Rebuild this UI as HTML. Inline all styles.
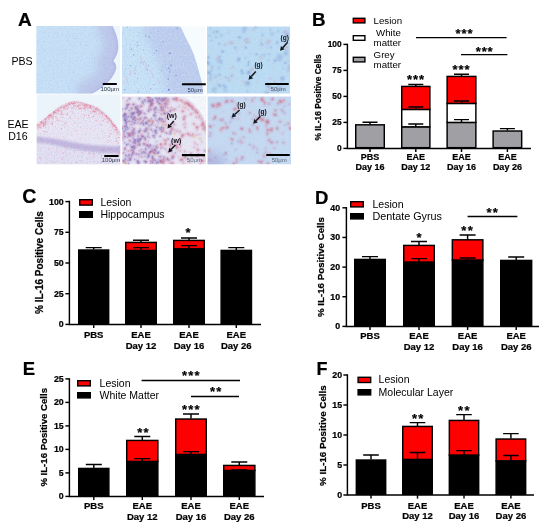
<!DOCTYPE html>
<html><head><meta charset="utf-8"><title>Figure</title>
<style>html,body{margin:0;padding:0;background:#fff}svg{display:block;font-family:"Liberation Sans", Arial, sans-serif}</style>
</head><body>
<svg width="550" height="529" viewBox="0 0 550 529">
<rect width="550" height="529" fill="#fff"/>
<defs><filter id="nz" x="0" y="0" width="100%" height="100%" color-interpolation-filters="sRGB"><feTurbulence type="fractalNoise" baseFrequency="0.75" numOctaves="2" seed="3"/><feColorMatrix values="0 0 0 0 0.50  0 0 0 0 0.62  0 0 0 0 0.86  0 0 0 -7 3.05"/><feGaussianBlur stdDeviation="0.4"/></filter><filter id="nzp" x="0" y="0" width="100%" height="100%" color-interpolation-filters="sRGB"><feTurbulence type="fractalNoise" baseFrequency="0.7" numOctaves="2" seed="11"/><feColorMatrix values="0 0 0 0 0.88  0 0 0 0 0.52  0 0 0 0 0.66  0 0 0 -7 3.0"/><feGaussianBlur stdDeviation="0.4"/></filter><filter id="nzw" x="0" y="0" width="100%" height="100%" color-interpolation-filters="sRGB"><feTurbulence type="fractalNoise" baseFrequency="0.6" numOctaves="2" seed="5"/><feColorMatrix values="0 0 0 0 1  0 0 0 0 1  0 0 0 0 1  0 0 0 7 -4.0"/><feGaussianBlur stdDeviation="0.4"/></filter><filter id="bl"><feGaussianBlur stdDeviation="0.5"/></filter><filter id="bl2" filterUnits="userSpaceOnUse" x="0" y="0" width="320" height="200"><feGaussianBlur stdDeviation="1.6"/></filter><filter id="bl3"><feGaussianBlur stdDeviation="0.28"/></filter><filter id="bl4"><feGaussianBlur stdDeviation="0.85"/></filter><filter id="bl5" filterUnits="userSpaceOnUse" x="0" y="0" width="320" height="200"><feGaussianBlur stdDeviation="4.5"/></filter><clipPath id="c1"><rect x="36.4" y="26" width="83.6" height="67.6"/></clipPath><clipPath id="c2"><rect x="122" y="26.4" width="84" height="67.4"/></clipPath><clipPath id="c3"><rect x="207" y="26.4" width="83" height="67.2"/></clipPath><clipPath id="c4"><rect x="36.6" y="94.6" width="83.8" height="69.6"/></clipPath><clipPath id="c5"><rect x="122" y="96.4" width="84" height="67.8"/></clipPath><clipPath id="c6"><rect x="207.6" y="96.4" width="83.4" height="67.8"/></clipPath></defs>
<g clip-path="url(#c1)">
<rect x="36" y="26" width="85" height="68" fill="#ecf6fc"/>
<clipPath id="t1"><path d="M30 20H112.6V26C116 33 118.6 40 118.2 48C117.8 54 115 58 113.4 61C116.6 64 116.8 68 115.4 71C112 80 103 88 92 93.6V100H30Z"/></clipPath>
<g filter="url(#bl)"><path d="M30 20H112.6V26C116 33 118.6 40 118.2 48C117.8 54 115 58 113.4 61C116.6 64 116.8 68 115.4 71C112 80 103 88 92 93.6V100H30Z" fill="#c7e0f6"/></g>
<g clip-path="url(#t1)"><path d="M112.6 20V26C116 33 118.6 40 118.2 48C117.8 54 115 58 113.4 61C116.6 64 116.8 68 115.4 71C112 80 103 88 92 93.6V100" fill="none" stroke="#b4b0de" stroke-width="30" filter="url(#bl5)" opacity="0.5"/><path d="M112.6 20V26C116 33 118.6 40 118.2 48C117.8 54 115 58 113.4 61C116.6 64 116.8 68 115.4 71C112 80 103 88 92 93.6V100" fill="none" stroke="#aaa4d6" stroke-width="3" filter="url(#bl2)" opacity="0.45"/><rect x="36" y="26" width="85" height="68" filter="url(#nz)" opacity="0.17"/></g>
</g>
<rect x="102.8" y="82.9" width="14.10" height="2.10" rx="0.6" fill="#000" filter="url(#bl3)"/><text x="109.7" y="90.6" font-size="6.0" text-anchor="middle" fill="#2c3444" filter="url(#bl3)">100µm</text>
<g clip-path="url(#c2)">
<rect x="122" y="26" width="85" height="68" fill="#f6fbfe"/>
<clipPath id="t2"><path d="M116 20H180V26C184 34 186.6 39 188.5 43C191 48 193 52 194.6 57C196.4 62 197.8 67 199 72C200.4 77 201.6 81 202.4 85C202.8 88 203 91 203 94V100H116Z"/></clipPath>
<g filter="url(#bl)"><path d="M116 20H180V26C184 34 186.6 39 188.5 43C191 48 193 52 194.6 57C196.4 62 197.8 67 199 72C200.4 77 201.6 81 202.4 85C202.8 88 203 91 203 94V100H116Z" fill="#c6e1f6"/></g>
<g clip-path="url(#t2)"><path d="M172 18V26C176 34 178.6 39 180.5 43C183 48 185 52 186.6 57C188.4 62 189.8 67 191 72C192.4 77 193.6 81 194.4 85C194.8 88 195 91 195 100" fill="none" stroke="#b6bee8" stroke-width="56" filter="url(#bl5)" opacity="0.55"/>
<g filter="url(#bl)"><circle cx="149.2" cy="37.0" r="0.76" fill="#6f86d0" opacity="0.83"/><circle cx="130.6" cy="65.5" r="0.86" fill="#6f86d0" opacity="0.51"/><circle cx="158.1" cy="31.6" r="0.54" fill="#7f92d6" opacity="0.52"/><circle cx="168.8" cy="89.5" r="0.75" fill="#6a7ccc" opacity="0.88"/><circle cx="169.7" cy="53.2" r="0.89" fill="#6f86d0" opacity="0.72"/><circle cx="133.8" cy="54.7" r="0.72" fill="#6a7ccc" opacity="0.62"/><circle cx="170.1" cy="69.2" r="0.65" fill="#6a7ccc" opacity="0.78"/><circle cx="168.7" cy="67.9" r="0.70" fill="#6a7ccc" opacity="0.67"/><circle cx="148.4" cy="65.6" r="0.68" fill="#7f92d6" opacity="0.60"/><circle cx="137.6" cy="78.5" r="0.53" fill="#7f92d6" opacity="0.71"/><circle cx="146.3" cy="91.7" r="0.55" fill="#7f92d6" opacity="0.57"/><circle cx="150.7" cy="88.6" r="0.67" fill="#6a7ccc" opacity="0.53"/><circle cx="168.2" cy="79.1" r="0.83" fill="#7f92d6" opacity="0.78"/><circle cx="171.1" cy="65.3" r="0.68" fill="#6f86d0" opacity="0.88"/><circle cx="161.4" cy="70.8" r="0.52" fill="#6a7ccc" opacity="0.62"/><circle cx="169.8" cy="72.0" r="0.68" fill="#6a7ccc" opacity="0.65"/><circle cx="177.2" cy="28.5" r="0.68" fill="#6f86d0" opacity="0.74"/><circle cx="163.0" cy="41.4" r="0.61" fill="#6a7ccc" opacity="0.60"/><circle cx="154.7" cy="84.5" r="0.53" fill="#7f92d6" opacity="0.66"/><circle cx="145.5" cy="36.0" r="0.67" fill="#6a7ccc" opacity="0.61"/><circle cx="156.6" cy="50.7" r="0.85" fill="#6f86d0" opacity="0.56"/><circle cx="137.3" cy="42.3" r="0.59" fill="#7f92d6" opacity="0.83"/><circle cx="137.8" cy="45.6" r="0.56" fill="#6a7ccc" opacity="0.65"/><circle cx="168.9" cy="89.9" r="0.78" fill="#6a7ccc" opacity="0.88"/><circle cx="176.1" cy="75.8" r="0.68" fill="#6a7ccc" opacity="0.82"/><circle cx="154.8" cy="53.3" r="0.54" fill="#6a7ccc" opacity="0.66"/><circle cx="138.4" cy="92.0" r="0.68" fill="#6f86d0" opacity="0.64"/><circle cx="127.3" cy="27.0" r="0.56" fill="#6f86d0" opacity="0.88"/><circle cx="172.7" cy="31.6" r="0.58" fill="#7f92d6" opacity="0.56"/><circle cx="143.4" cy="49.9" r="0.65" fill="#6f86d0" opacity="0.55"/><circle cx="162.5" cy="91.5" r="0.69" fill="#7f92d6" opacity="0.53"/><circle cx="131.3" cy="49.6" r="0.61" fill="#6a7ccc" opacity="0.56"/><circle cx="124.9" cy="89.8" r="0.71" fill="#6f86d0" opacity="0.78"/><circle cx="147.1" cy="69.4" r="0.54" fill="#7f92d6" opacity="0.71"/><circle cx="141.0" cy="62.7" r="0.70" fill="#6a7ccc" opacity="0.59"/><circle cx="188.7" cy="92.0" r="0.84" fill="#6f86d0" opacity="0.83"/>
<path d="M140 56c1.4 3.4 3 5 3.6 9M144 60c2 3 2.6 8 4 11M136 66c-1 3-1.6 6-.6 9M150 70c2 3 3 6 3.4 9M126 76c1 2 1.6 5 .6 8M131 70c-.6 2-1 4-.4 6M157 78c1 2 2.4 4 2.6 6M129 47c2 1 3 2 4 3" stroke="#dba2b6" stroke-width="0.9" fill="none" opacity="0.45"/>
</g>
<rect x="122" y="26" width="85" height="68" filter="url(#nz)" opacity="0.18"/><rect x="122" y="26" width="85" height="68" filter="url(#nzw)" opacity="0.2"/></g>
</g>
<rect x="181.9" y="83.2" width="23.90" height="2.10" rx="0.6" fill="#000" filter="url(#bl3)"/><text x="195.1" y="91.6" font-size="6.0" text-anchor="middle" fill="#3a4458" filter="url(#bl3)">50µm</text>
<g clip-path="url(#c3)">
<rect x="207" y="26" width="84" height="68" fill="#bcdcf3"/>
<g filter="url(#bl4)"><ellipse cx="268.4" cy="42.0" rx="2.79" ry="1.53" transform="rotate(142 268.4 42.0)" fill="#c0b0c8" opacity="0.86"/><ellipse cx="246.2" cy="39.8" rx="2.89" ry="1.62" transform="rotate(178 246.2 39.8)" fill="#c0b0c8" opacity="0.76"/><ellipse cx="286.3" cy="51.1" rx="1.80" ry="1.43" transform="rotate(87 286.3 51.1)" fill="#a6b4dc" opacity="0.76"/><ellipse cx="288.8" cy="67.3" rx="1.36" ry="1.28" transform="rotate(119 288.8 67.3)" fill="#c0b0c8" opacity="0.88"/><ellipse cx="282.5" cy="78.6" rx="2.59" ry="1.93" transform="rotate(114 282.5 78.6)" fill="#98b4e0" opacity="0.91"/><ellipse cx="214.2" cy="89.4" rx="3.09" ry="1.73" transform="rotate(130 214.2 89.4)" fill="#98b4e0" opacity="0.74"/><ellipse cx="221.1" cy="35.4" rx="1.57" ry="1.42" transform="rotate(149 221.1 35.4)" fill="#98b4e0" opacity="0.88"/><ellipse cx="288.4" cy="70.4" rx="2.36" ry="1.42" transform="rotate(131 288.4 70.4)" fill="#a6b4dc" opacity="0.61"/><ellipse cx="215.5" cy="76.5" rx="1.61" ry="1.38" transform="rotate(45 215.5 76.5)" fill="#a6b4dc" opacity="0.89"/><ellipse cx="231.3" cy="42.9" rx="2.76" ry="1.63" transform="rotate(11 231.3 42.9)" fill="#c0b0c8" opacity="0.79"/><ellipse cx="268.4" cy="86.2" rx="2.92" ry="1.69" transform="rotate(24 268.4 86.2)" fill="#98b4e0" opacity="0.89"/><ellipse cx="219.6" cy="60.7" rx="3.14" ry="1.92" transform="rotate(27 219.6 60.7)" fill="#a6b4dc" opacity="0.81"/><ellipse cx="218.7" cy="67.9" rx="1.80" ry="1.28" transform="rotate(100 218.7 67.9)" fill="#9cb8e2" opacity="0.71"/><ellipse cx="272.1" cy="34.0" rx="1.96" ry="1.90" transform="rotate(18 272.1 34.0)" fill="#a6b4dc" opacity="0.67"/><ellipse cx="244.5" cy="28.8" rx="2.98" ry="2.00" transform="rotate(91 244.5 28.8)" fill="#9cb8e2" opacity="0.76"/><ellipse cx="249.5" cy="72.7" rx="2.02" ry="1.70" transform="rotate(94 249.5 72.7)" fill="#98b4e0" opacity="0.78"/><ellipse cx="279.7" cy="88.2" rx="2.47" ry="2.24" transform="rotate(22 279.7 88.2)" fill="#a6b4dc" opacity="0.89"/><ellipse cx="243.7" cy="31.8" rx="1.80" ry="1.46" transform="rotate(22 243.7 31.8)" fill="#9cb8e2" opacity="0.67"/><ellipse cx="271.5" cy="89.0" rx="2.89" ry="1.67" transform="rotate(174 271.5 89.0)" fill="#c0b0c8" opacity="0.65"/><ellipse cx="225.2" cy="89.9" rx="2.32" ry="1.50" transform="rotate(40 225.2 89.9)" fill="#98b4e0" opacity="0.66"/><ellipse cx="265.6" cy="92.6" rx="2.02" ry="1.62" transform="rotate(130 265.6 92.6)" fill="#98b4e0" opacity="0.67"/><ellipse cx="208.6" cy="63.6" rx="2.25" ry="1.59" transform="rotate(53 208.6 63.6)" fill="#9cb8e2" opacity="0.73"/><ellipse cx="286.7" cy="34.4" rx="2.43" ry="2.25" transform="rotate(48 286.7 34.4)" fill="#a6b4dc" opacity="0.94"/><ellipse cx="210.3" cy="78.4" rx="2.28" ry="1.34" transform="rotate(122 210.3 78.4)" fill="#a6b4dc" opacity="0.89"/><ellipse cx="285.5" cy="53.8" rx="1.97" ry="1.85" transform="rotate(10 285.5 53.8)" fill="#98b4e0" opacity="0.85"/><ellipse cx="264.1" cy="55.1" rx="1.93" ry="1.17" transform="rotate(15 264.1 55.1)" fill="#9cb8e2" opacity="0.82"/><ellipse cx="279.6" cy="57.6" rx="3" ry="3.6" fill="#a3c0e4" opacity="0.9"/><ellipse cx="247.6" cy="83.6" rx="2.6" ry="2.2" fill="#a0b6e0" opacity="0.9"/></g>
<g filter="url(#bl4)"><ellipse cx="278.1" cy="31.4" rx="1.28" ry="0.87" transform="rotate(75 278.1 31.4)" fill="#7a94d6" opacity="0.50"/><ellipse cx="283.0" cy="68.0" rx="0.64" ry="0.61" transform="rotate(29 283.0 68.0)" fill="#6484cc" opacity="0.60"/><ellipse cx="211.2" cy="40.3" rx="0.79" ry="0.72" transform="rotate(80 211.2 40.3)" fill="#7a94d6" opacity="0.71"/><ellipse cx="262.8" cy="44.9" rx="0.97" ry="0.96" transform="rotate(91 262.8 44.9)" fill="#7a94d6" opacity="0.51"/><ellipse cx="288.2" cy="60.9" rx="0.89" ry="0.64" transform="rotate(78 288.2 60.9)" fill="#7a94d6" opacity="0.54"/><ellipse cx="248.1" cy="82.1" rx="0.83" ry="0.75" transform="rotate(41 248.1 82.1)" fill="#6484cc" opacity="0.62"/><ellipse cx="223.5" cy="85.2" rx="1.02" ry="0.88" transform="rotate(10 223.5 85.2)" fill="#6f8cd2" opacity="0.66"/><ellipse cx="217.8" cy="31.7" rx="0.95" ry="0.93" transform="rotate(120 217.8 31.7)" fill="#7a94d6" opacity="0.67"/><ellipse cx="238.6" cy="60.4" rx="1.13" ry="0.99" transform="rotate(83 238.6 60.4)" fill="#6484cc" opacity="0.60"/><ellipse cx="220.1" cy="56.4" rx="0.84" ry="0.67" transform="rotate(44 220.1 56.4)" fill="#7a94d6" opacity="0.89"/><ellipse cx="287.2" cy="47.4" rx="0.78" ry="0.75" transform="rotate(50 287.2 47.4)" fill="#6f8cd2" opacity="0.63"/><ellipse cx="261.4" cy="43.4" rx="0.97" ry="0.94" transform="rotate(72 261.4 43.4)" fill="#6f8cd2" opacity="0.61"/><ellipse cx="210.5" cy="28.5" rx="0.95" ry="0.65" transform="rotate(154 210.5 28.5)" fill="#6f8cd2" opacity="0.53"/><ellipse cx="219.9" cy="85.9" rx="1.05" ry="0.91" transform="rotate(177 219.9 85.9)" fill="#6484cc" opacity="0.66"/><ellipse cx="219.4" cy="74.8" rx="1.08" ry="0.81" transform="rotate(92 219.4 74.8)" fill="#6f8cd2" opacity="0.83"/><ellipse cx="242.6" cy="73.3" rx="0.97" ry="0.76" transform="rotate(146 242.6 73.3)" fill="#6484cc" opacity="0.80"/><ellipse cx="208.3" cy="72.3" rx="1.16" ry="0.87" transform="rotate(41 208.3 72.3)" fill="#6484cc" opacity="0.77"/><ellipse cx="209.6" cy="35.8" rx="0.87" ry="0.72" transform="rotate(9 209.6 35.8)" fill="#6f8cd2" opacity="0.65"/><ellipse cx="208.6" cy="62.1" rx="0.88" ry="0.64" transform="rotate(135 208.6 62.1)" fill="#7a94d6" opacity="0.50"/><ellipse cx="248.7" cy="62.3" rx="1.02" ry="0.84" transform="rotate(146 248.7 62.3)" fill="#6f8cd2" opacity="0.80"/><ellipse cx="277.2" cy="42.5" rx="1.22" ry="0.83" transform="rotate(89 277.2 42.5)" fill="#6f8cd2" opacity="0.80"/><ellipse cx="238.8" cy="58.6" rx="1.08" ry="0.83" transform="rotate(14 238.8 58.6)" fill="#6f8cd2" opacity="0.75"/><ellipse cx="219.2" cy="43.8" rx="0.97" ry="0.92" transform="rotate(87 219.2 43.8)" fill="#7a94d6" opacity="0.75"/><ellipse cx="247.3" cy="91.2" rx="0.70" ry="0.62" transform="rotate(93 247.3 91.2)" fill="#6f8cd2" opacity="0.77"/><ellipse cx="245.6" cy="57.8" rx="0.85" ry="0.57" transform="rotate(169 245.6 57.8)" fill="#6484cc" opacity="0.58"/><ellipse cx="208.5" cy="57.3" rx="1.08" ry="0.92" transform="rotate(165 208.5 57.3)" fill="#7a94d6" opacity="0.90"/><ellipse cx="284.2" cy="31.9" rx="0.82" ry="0.56" transform="rotate(24 284.2 31.9)" fill="#6484cc" opacity="0.71"/><ellipse cx="275.1" cy="60.6" rx="1.15" ry="0.93" transform="rotate(158 275.1 60.6)" fill="#6484cc" opacity="0.65"/><ellipse cx="239.7" cy="37.5" rx="1.12" ry="0.98" transform="rotate(25 239.7 37.5)" fill="#6484cc" opacity="0.68"/><ellipse cx="235.5" cy="47.9" rx="1.08" ry="0.93" transform="rotate(72 235.5 47.9)" fill="#6f8cd2" opacity="0.63"/><ellipse cx="285.0" cy="39.9" rx="0.67" ry="0.57" transform="rotate(71 285.0 39.9)" fill="#6484cc" opacity="0.62"/><ellipse cx="289.9" cy="65.9" rx="0.96" ry="0.68" transform="rotate(51 289.9 65.9)" fill="#7a94d6" opacity="0.80"/><ellipse cx="211.3" cy="70.7" rx="0.96" ry="0.85" transform="rotate(92 211.3 70.7)" fill="#6f8cd2" opacity="0.60"/><ellipse cx="222.8" cy="51.6" rx="1.23" ry="0.94" transform="rotate(164 222.8 51.6)" fill="#6f8cd2" opacity="0.82"/><ellipse cx="285.1" cy="63.2" rx="1.04" ry="0.87" transform="rotate(111 285.1 63.2)" fill="#6f8cd2" opacity="0.87"/><ellipse cx="218.5" cy="84.4" rx="0.93" ry="0.77" transform="rotate(62 218.5 84.4)" fill="#6484cc" opacity="0.55"/><ellipse cx="231.7" cy="75.8" rx="1.11" ry="1.00" transform="rotate(87 231.7 75.8)" fill="#7a94d6" opacity="0.66"/><ellipse cx="262.5" cy="34.9" rx="1.13" ry="0.79" transform="rotate(89 262.5 34.9)" fill="#6f8cd2" opacity="0.58"/><ellipse cx="225.3" cy="86.8" rx="1.22" ry="0.97" transform="rotate(44 225.3 86.8)" fill="#7a94d6" opacity="0.67"/><ellipse cx="221.5" cy="63.7" rx="0.87" ry="0.69" transform="rotate(160 221.5 63.7)" fill="#7a94d6" opacity="0.60"/><ellipse cx="269.2" cy="54.2" rx="0.85" ry="0.76" transform="rotate(135 269.2 54.2)" fill="#6484cc" opacity="0.58"/><ellipse cx="248.3" cy="64.9" rx="0.91" ry="0.70" transform="rotate(155 248.3 64.9)" fill="#6484cc" opacity="0.70"/><ellipse cx="224.9" cy="44.9" rx="0.80" ry="0.67" transform="rotate(56 224.9 44.9)" fill="#7a94d6" opacity="0.76"/><ellipse cx="274.6" cy="90.9" rx="0.83" ry="0.58" transform="rotate(85 274.6 90.9)" fill="#7a94d6" opacity="0.78"/><ellipse cx="255.7" cy="27.0" rx="1.00" ry="0.68" transform="rotate(45 255.7 27.0)" fill="#6484cc" opacity="0.84"/><ellipse cx="216.1" cy="37.2" rx="1.04" ry="0.75" transform="rotate(126 216.1 37.2)" fill="#6484cc" opacity="0.54"/><ellipse cx="277.3" cy="86.1" rx="0.66" ry="0.63" transform="rotate(102 277.3 86.1)" fill="#6f8cd2" opacity="0.50"/><ellipse cx="210.1" cy="74.2" rx="1.23" ry="0.95" transform="rotate(126 210.1 74.2)" fill="#6484cc" opacity="0.60"/><ellipse cx="216.3" cy="31.6" rx="0.90" ry="0.81" transform="rotate(142 216.3 31.6)" fill="#6484cc" opacity="0.58"/><ellipse cx="207.1" cy="62.5" rx="1.25" ry="0.96" transform="rotate(159 207.1 62.5)" fill="#7a94d6" opacity="0.88"/><ellipse cx="246.5" cy="42.5" rx="0.78" ry="0.68" transform="rotate(4 246.5 42.5)" fill="#7a94d6" opacity="0.78"/><ellipse cx="248.4" cy="71.5" rx="0.89" ry="0.74" transform="rotate(67 248.4 71.5)" fill="#7a94d6" opacity="0.59"/><ellipse cx="247.9" cy="72.9" rx="0.98" ry="0.90" transform="rotate(143 247.9 72.9)" fill="#7a94d6" opacity="0.77"/><ellipse cx="268.3" cy="60.3" rx="0.86" ry="0.62" transform="rotate(42 268.3 60.3)" fill="#6f8cd2" opacity="0.62"/><ellipse cx="225.4" cy="77.2" rx="0.77" ry="0.71" transform="rotate(40 225.4 77.2)" fill="#6484cc" opacity="0.70"/><ellipse cx="241.6" cy="70.9" rx="1.04" ry="1.02" transform="rotate(4 241.6 70.9)" fill="#6f8cd2" opacity="0.87"/><ellipse cx="256.5" cy="54.4" rx="1.17" ry="0.82" transform="rotate(159 256.5 54.4)" fill="#6f8cd2" opacity="0.66"/><ellipse cx="267.8" cy="92.8" rx="1.22" ry="0.93" transform="rotate(94 267.8 92.8)" fill="#7a94d6" opacity="0.58"/><ellipse cx="245.8" cy="47.6" rx="1.05" ry="0.87" transform="rotate(20 245.8 47.6)" fill="#7a94d6" opacity="0.89"/><ellipse cx="213.5" cy="32.3" rx="0.97" ry="0.71" transform="rotate(68 213.5 32.3)" fill="#6f8cd2" opacity="0.72"/><ellipse cx="270.8" cy="47.4" rx="1.10" ry="0.90" transform="rotate(67 270.8 47.4)" fill="#6f8cd2" opacity="0.52"/><ellipse cx="283.3" cy="39.7" rx="0.86" ry="0.72" transform="rotate(146 283.3 39.7)" fill="#7a94d6" opacity="0.51"/><ellipse cx="270.6" cy="29.7" rx="0.63" ry="0.61" transform="rotate(35 270.6 29.7)" fill="#6f8cd2" opacity="0.82"/><ellipse cx="212.2" cy="67.0" rx="0.90" ry="0.70" transform="rotate(47 212.2 67.0)" fill="#7a94d6" opacity="0.88"/><ellipse cx="266.5" cy="47.9" rx="1.09" ry="0.61" transform="rotate(145 266.5 47.9)" fill="#d4a2b2" opacity="0.70"/><ellipse cx="285.6" cy="31.3" rx="1.79" ry="0.76" transform="rotate(172 285.6 31.3)" fill="#d4a2b2" opacity="0.62"/><ellipse cx="239.1" cy="43.6" rx="1.14" ry="0.69" transform="rotate(2 239.1 43.6)" fill="#c8a8a8" opacity="0.50"/><ellipse cx="284.3" cy="47.0" rx="1.19" ry="0.84" transform="rotate(58 284.3 47.0)" fill="#ccA0b0" opacity="0.66"/><ellipse cx="237.0" cy="78.6" rx="0.72" ry="0.60" transform="rotate(73 237.0 78.6)" fill="#ccA0b0" opacity="0.59"/><ellipse cx="260.9" cy="58.8" rx="1.49" ry="0.67" transform="rotate(178 260.9 58.8)" fill="#ccA0b0" opacity="0.79"/><ellipse cx="229.0" cy="32.5" rx="1.15" ry="0.49" transform="rotate(31 229.0 32.5)" fill="#c8a8a8" opacity="0.80"/><ellipse cx="218.0" cy="57.4" rx="1.75" ry="0.81" transform="rotate(120 218.0 57.4)" fill="#ccA0b0" opacity="0.71"/><ellipse cx="217.1" cy="82.5" rx="1.19" ry="0.59" transform="rotate(36 217.1 82.5)" fill="#d8aab6" opacity="0.58"/><ellipse cx="227.5" cy="43.2" rx="0.89" ry="0.59" transform="rotate(179 227.5 43.2)" fill="#ccA0b0" opacity="0.56"/><ellipse cx="249.1" cy="42.3" rx="1.09" ry="0.97" transform="rotate(85 249.1 42.3)" fill="#c8a8a8" opacity="0.80"/><ellipse cx="275.0" cy="82.5" rx="1.25" ry="0.97" transform="rotate(9 275.0 82.5)" fill="#d4a2b2" opacity="0.76"/><ellipse cx="256.8" cy="81.6" rx="1.18" ry="0.54" transform="rotate(81 256.8 81.6)" fill="#d4a2b2" opacity="0.58"/><ellipse cx="228.6" cy="78.3" rx="1.68" ry="0.86" transform="rotate(63 228.6 78.3)" fill="#d4a2b2" opacity="0.67"/><ellipse cx="210.1" cy="49.4" rx="0.99" ry="0.49" transform="rotate(165 210.1 49.4)" fill="#d8aab6" opacity="0.46"/><ellipse cx="274.6" cy="81.0" rx="1.01" ry="0.72" transform="rotate(37 274.6 81.0)" fill="#d8aab6" opacity="0.51"/><ellipse cx="273.0" cy="63.2" rx="0.97" ry="0.51" transform="rotate(28 273.0 63.2)" fill="#d4a2b2" opacity="0.73"/><ellipse cx="251.3" cy="70.1" rx="0.98" ry="0.72" transform="rotate(55 251.3 70.1)" fill="#d8aab6" opacity="0.59"/><ellipse cx="286.1" cy="47.6" rx="0.90" ry="0.88" transform="rotate(138 286.1 47.6)" fill="#d8aab6" opacity="0.59"/><ellipse cx="273.6" cy="69.5" rx="0.80" ry="0.79" transform="rotate(162 273.6 69.5)" fill="#c8a8a8" opacity="0.52"/><ellipse cx="242.2" cy="81.1" rx="0.91" ry="0.76" transform="rotate(3 242.2 81.1)" fill="#d8aab6" opacity="0.61"/><ellipse cx="252.8" cy="69.3" rx="1.84" ry="0.80" transform="rotate(133 252.8 69.3)" fill="#d4a2b2" opacity="0.65"/><ellipse cx="221.2" cy="50.0" rx="0.74" ry="0.65" transform="rotate(88 221.2 50.0)" fill="#ccA0b0" opacity="0.77"/><ellipse cx="273.8" cy="90.8" rx="0.72" ry="0.69" transform="rotate(164 273.8 90.8)" fill="#ccA0b0" opacity="0.74"/><ellipse cx="233.1" cy="67.1" rx="1.37" ry="0.75" transform="rotate(148 233.1 67.1)" fill="#d4a2b2" opacity="0.77"/><ellipse cx="220.3" cy="78.9" rx="0.82" ry="0.66" transform="rotate(85 220.3 78.9)" fill="#c8a8a8" opacity="0.67"/><ellipse cx="253.9" cy="29.8" rx="1.17" ry="1.02" transform="rotate(44 253.9 29.8)" fill="#ccA0b0" opacity="0.58"/><ellipse cx="267.2" cy="86.2" rx="0.78" ry="0.55" transform="rotate(70 267.2 86.2)" fill="#d4a2b2" opacity="0.68"/><ellipse cx="244.8" cy="83.0" rx="1.19" ry="0.90" transform="rotate(70 244.8 83.0)" fill="#c8a8a8" opacity="0.56"/><ellipse cx="237.5" cy="60.2" rx="0.96" ry="0.58" transform="rotate(42 237.5 60.2)" fill="#d4a2b2" opacity="0.67"/><ellipse cx="270.4" cy="78.5" rx="1.09" ry="0.72" transform="rotate(12 270.4 78.5)" fill="#ccA0b0" opacity="0.73"/><ellipse cx="236.8" cy="51.1" rx="1.11" ry="0.95" transform="rotate(166 236.8 51.1)" fill="#d4a2b2" opacity="0.46"/><ellipse cx="233.0" cy="74.5" rx="1.04" ry="0.50" transform="rotate(5 233.0 74.5)" fill="#c8a8a8" opacity="0.68"/><ellipse cx="212.5" cy="67.5" rx="1.69" ry="0.71" transform="rotate(89 212.5 67.5)" fill="#d4a2b2" opacity="0.52"/><ellipse cx="286.4" cy="87.5" rx="0.87" ry="0.60" transform="rotate(136 286.4 87.5)" fill="#ccA0b0" opacity="0.47"/><ellipse cx="220.2" cy="86.2" rx="1.03" ry="0.62" transform="rotate(166 220.2 86.2)" fill="#c8a8a8" opacity="0.50"/><ellipse cx="224.3" cy="44.3" rx="0.99" ry="0.79" transform="rotate(73 224.3 44.3)" fill="#d8aab6" opacity="0.58"/><ellipse cx="259.8" cy="45.4" rx="1.24" ry="0.60" transform="rotate(21 259.8 45.4)" fill="#c8a8a8" opacity="0.51"/><ellipse cx="251.0" cy="69.0" rx="1.14" ry="0.64" transform="rotate(159 251.0 69.0)" fill="#c8a8a8" opacity="0.64"/><ellipse cx="215.7" cy="92.5" rx="1.19" ry="0.80" transform="rotate(68 215.7 92.5)" fill="#c8a8a8" opacity="0.71"/><ellipse cx="237.6" cy="36.6" rx="0.87" ry="0.72" transform="rotate(134 237.6 36.6)" fill="#d4a2b2" opacity="0.60"/><ellipse cx="211.0" cy="81.1" rx="1.16" ry="0.58" transform="rotate(40 211.0 81.1)" fill="#d8aab6" opacity="0.71"/><ellipse cx="231.2" cy="68.3" rx="0.89" ry="0.77" transform="rotate(41 231.2 68.3)" fill="#d8aab6" opacity="0.76"/><ellipse cx="261.2" cy="28.5" rx="0.85" ry="0.50" transform="rotate(96 261.2 28.5)" fill="#d8aab6" opacity="0.56"/><ellipse cx="241.3" cy="46.9" rx="0.92" ry="0.57" transform="rotate(24 241.3 46.9)" fill="#d8aab6" opacity="0.67"/><ellipse cx="284.7" cy="43.1" rx="0.75" ry="0.64" transform="rotate(120 284.7 43.1)" fill="#d4a2b2" opacity="0.47"/><ellipse cx="229.4" cy="80.6" rx="1.57" ry="0.90" transform="rotate(63 229.4 80.6)" fill="#d4a2b2" opacity="0.68"/><ellipse cx="260.6" cy="56.3" rx="1.84" ry="0.81" transform="rotate(8 260.6 56.3)" fill="#c8a8a8" opacity="0.54"/><ellipse cx="251.1" cy="53.8" rx="0.78" ry="0.69" transform="rotate(110 251.1 53.8)" fill="#d4a2b2" opacity="0.77"/><ellipse cx="261.5" cy="40.0" rx="0.92" ry="0.76" transform="rotate(56 261.5 40.0)" fill="#c8a8a8" opacity="0.73"/></g><ellipse cx="278.1" cy="31.4" rx="0.83" ry="0.56" transform="rotate(75 278.1 31.4)" fill="#7a94d6" opacity="0.28"/><ellipse cx="283.0" cy="68.0" rx="0.42" ry="0.40" transform="rotate(29 283.0 68.0)" fill="#6484cc" opacity="0.33"/><ellipse cx="211.2" cy="40.3" rx="0.51" ry="0.47" transform="rotate(80 211.2 40.3)" fill="#7a94d6" opacity="0.39"/><ellipse cx="262.8" cy="44.9" rx="0.63" ry="0.62" transform="rotate(91 262.8 44.9)" fill="#7a94d6" opacity="0.28"/><ellipse cx="288.2" cy="60.9" rx="0.58" ry="0.41" transform="rotate(78 288.2 60.9)" fill="#7a94d6" opacity="0.30"/><ellipse cx="248.1" cy="82.1" rx="0.54" ry="0.49" transform="rotate(41 248.1 82.1)" fill="#6484cc" opacity="0.34"/><ellipse cx="223.5" cy="85.2" rx="0.67" ry="0.57" transform="rotate(10 223.5 85.2)" fill="#6f8cd2" opacity="0.36"/><ellipse cx="217.8" cy="31.7" rx="0.62" ry="0.60" transform="rotate(120 217.8 31.7)" fill="#7a94d6" opacity="0.37"/><ellipse cx="238.6" cy="60.4" rx="0.73" ry="0.65" transform="rotate(83 238.6 60.4)" fill="#6484cc" opacity="0.33"/><ellipse cx="220.1" cy="56.4" rx="0.54" ry="0.43" transform="rotate(44 220.1 56.4)" fill="#7a94d6" opacity="0.49"/><ellipse cx="287.2" cy="47.4" rx="0.51" ry="0.49" transform="rotate(50 287.2 47.4)" fill="#6f8cd2" opacity="0.35"/><ellipse cx="261.4" cy="43.4" rx="0.63" ry="0.61" transform="rotate(72 261.4 43.4)" fill="#6f8cd2" opacity="0.33"/><ellipse cx="210.5" cy="28.5" rx="0.62" ry="0.42" transform="rotate(154 210.5 28.5)" fill="#6f8cd2" opacity="0.29"/><ellipse cx="219.9" cy="85.9" rx="0.68" ry="0.59" transform="rotate(177 219.9 85.9)" fill="#6484cc" opacity="0.36"/><ellipse cx="219.4" cy="74.8" rx="0.70" ry="0.52" transform="rotate(92 219.4 74.8)" fill="#6f8cd2" opacity="0.46"/><ellipse cx="242.6" cy="73.3" rx="0.63" ry="0.50" transform="rotate(146 242.6 73.3)" fill="#6484cc" opacity="0.44"/><ellipse cx="208.3" cy="72.3" rx="0.75" ry="0.57" transform="rotate(41 208.3 72.3)" fill="#6484cc" opacity="0.43"/><ellipse cx="209.6" cy="35.8" rx="0.56" ry="0.47" transform="rotate(9 209.6 35.8)" fill="#6f8cd2" opacity="0.36"/><ellipse cx="208.6" cy="62.1" rx="0.57" ry="0.41" transform="rotate(135 208.6 62.1)" fill="#7a94d6" opacity="0.28"/><ellipse cx="248.7" cy="62.3" rx="0.67" ry="0.55" transform="rotate(146 248.7 62.3)" fill="#6f8cd2" opacity="0.44"/><ellipse cx="277.2" cy="42.5" rx="0.79" ry="0.54" transform="rotate(89 277.2 42.5)" fill="#6f8cd2" opacity="0.44"/><ellipse cx="238.8" cy="58.6" rx="0.70" ry="0.54" transform="rotate(14 238.8 58.6)" fill="#6f8cd2" opacity="0.41"/><ellipse cx="219.2" cy="43.8" rx="0.63" ry="0.60" transform="rotate(87 219.2 43.8)" fill="#7a94d6" opacity="0.41"/><ellipse cx="247.3" cy="91.2" rx="0.46" ry="0.40" transform="rotate(93 247.3 91.2)" fill="#6f8cd2" opacity="0.42"/><ellipse cx="245.6" cy="57.8" rx="0.55" ry="0.37" transform="rotate(169 245.6 57.8)" fill="#6484cc" opacity="0.32"/><ellipse cx="208.5" cy="57.3" rx="0.70" ry="0.60" transform="rotate(165 208.5 57.3)" fill="#7a94d6" opacity="0.49"/><ellipse cx="284.2" cy="31.9" rx="0.54" ry="0.37" transform="rotate(24 284.2 31.9)" fill="#6484cc" opacity="0.39"/><ellipse cx="275.1" cy="60.6" rx="0.75" ry="0.61" transform="rotate(158 275.1 60.6)" fill="#6484cc" opacity="0.36"/><ellipse cx="239.7" cy="37.5" rx="0.73" ry="0.64" transform="rotate(25 239.7 37.5)" fill="#6484cc" opacity="0.37"/><ellipse cx="235.5" cy="47.9" rx="0.70" ry="0.61" transform="rotate(72 235.5 47.9)" fill="#6f8cd2" opacity="0.35"/><ellipse cx="285.0" cy="39.9" rx="0.44" ry="0.37" transform="rotate(71 285.0 39.9)" fill="#6484cc" opacity="0.34"/><ellipse cx="289.9" cy="65.9" rx="0.62" ry="0.44" transform="rotate(51 289.9 65.9)" fill="#7a94d6" opacity="0.44"/><ellipse cx="211.3" cy="70.7" rx="0.62" ry="0.55" transform="rotate(92 211.3 70.7)" fill="#6f8cd2" opacity="0.33"/><ellipse cx="222.8" cy="51.6" rx="0.80" ry="0.61" transform="rotate(164 222.8 51.6)" fill="#6f8cd2" opacity="0.45"/><ellipse cx="285.1" cy="63.2" rx="0.67" ry="0.57" transform="rotate(111 285.1 63.2)" fill="#6f8cd2" opacity="0.48"/><ellipse cx="218.5" cy="84.4" rx="0.61" ry="0.50" transform="rotate(62 218.5 84.4)" fill="#6484cc" opacity="0.30"/><ellipse cx="231.7" cy="75.8" rx="0.72" ry="0.65" transform="rotate(87 231.7 75.8)" fill="#7a94d6" opacity="0.36"/><ellipse cx="262.5" cy="34.9" rx="0.74" ry="0.51" transform="rotate(89 262.5 34.9)" fill="#6f8cd2" opacity="0.32"/><ellipse cx="225.3" cy="86.8" rx="0.79" ry="0.63" transform="rotate(44 225.3 86.8)" fill="#7a94d6" opacity="0.37"/><ellipse cx="221.5" cy="63.7" rx="0.57" ry="0.45" transform="rotate(160 221.5 63.7)" fill="#7a94d6" opacity="0.33"/><ellipse cx="269.2" cy="54.2" rx="0.55" ry="0.49" transform="rotate(135 269.2 54.2)" fill="#6484cc" opacity="0.32"/><ellipse cx="248.3" cy="64.9" rx="0.59" ry="0.45" transform="rotate(155 248.3 64.9)" fill="#6484cc" opacity="0.39"/><ellipse cx="224.9" cy="44.9" rx="0.52" ry="0.44" transform="rotate(56 224.9 44.9)" fill="#7a94d6" opacity="0.42"/><ellipse cx="274.6" cy="90.9" rx="0.54" ry="0.38" transform="rotate(85 274.6 90.9)" fill="#7a94d6" opacity="0.43"/><ellipse cx="255.7" cy="27.0" rx="0.65" ry="0.44" transform="rotate(45 255.7 27.0)" fill="#6484cc" opacity="0.46"/><ellipse cx="216.1" cy="37.2" rx="0.68" ry="0.49" transform="rotate(126 216.1 37.2)" fill="#6484cc" opacity="0.30"/><ellipse cx="277.3" cy="86.1" rx="0.43" ry="0.41" transform="rotate(102 277.3 86.1)" fill="#6f8cd2" opacity="0.28"/><ellipse cx="210.1" cy="74.2" rx="0.80" ry="0.62" transform="rotate(126 210.1 74.2)" fill="#6484cc" opacity="0.33"/><ellipse cx="216.3" cy="31.6" rx="0.59" ry="0.52" transform="rotate(142 216.3 31.6)" fill="#6484cc" opacity="0.32"/><ellipse cx="207.1" cy="62.5" rx="0.81" ry="0.62" transform="rotate(159 207.1 62.5)" fill="#7a94d6" opacity="0.49"/><ellipse cx="246.5" cy="42.5" rx="0.50" ry="0.44" transform="rotate(4 246.5 42.5)" fill="#7a94d6" opacity="0.43"/><ellipse cx="248.4" cy="71.5" rx="0.58" ry="0.48" transform="rotate(67 248.4 71.5)" fill="#7a94d6" opacity="0.33"/><ellipse cx="247.9" cy="72.9" rx="0.64" ry="0.58" transform="rotate(143 247.9 72.9)" fill="#7a94d6" opacity="0.43"/><ellipse cx="268.3" cy="60.3" rx="0.56" ry="0.40" transform="rotate(42 268.3 60.3)" fill="#6f8cd2" opacity="0.34"/><ellipse cx="225.4" cy="77.2" rx="0.50" ry="0.46" transform="rotate(40 225.4 77.2)" fill="#6484cc" opacity="0.38"/><ellipse cx="241.6" cy="70.9" rx="0.68" ry="0.66" transform="rotate(4 241.6 70.9)" fill="#6f8cd2" opacity="0.48"/><ellipse cx="256.5" cy="54.4" rx="0.76" ry="0.53" transform="rotate(159 256.5 54.4)" fill="#6f8cd2" opacity="0.36"/><ellipse cx="267.8" cy="92.8" rx="0.79" ry="0.61" transform="rotate(94 267.8 92.8)" fill="#7a94d6" opacity="0.32"/><ellipse cx="245.8" cy="47.6" rx="0.68" ry="0.57" transform="rotate(20 245.8 47.6)" fill="#7a94d6" opacity="0.49"/><ellipse cx="213.5" cy="32.3" rx="0.63" ry="0.46" transform="rotate(68 213.5 32.3)" fill="#6f8cd2" opacity="0.40"/><ellipse cx="270.8" cy="47.4" rx="0.71" ry="0.58" transform="rotate(67 270.8 47.4)" fill="#6f8cd2" opacity="0.29"/><ellipse cx="283.3" cy="39.7" rx="0.56" ry="0.47" transform="rotate(146 283.3 39.7)" fill="#7a94d6" opacity="0.28"/><ellipse cx="270.6" cy="29.7" rx="0.41" ry="0.40" transform="rotate(35 270.6 29.7)" fill="#6f8cd2" opacity="0.45"/><ellipse cx="212.2" cy="67.0" rx="0.59" ry="0.46" transform="rotate(47 212.2 67.0)" fill="#7a94d6" opacity="0.49"/><ellipse cx="266.5" cy="47.9" rx="0.65" ry="0.36" transform="rotate(145 266.5 47.9)" fill="#d4a2b2" opacity="0.28"/><ellipse cx="285.6" cy="31.3" rx="1.07" ry="0.46" transform="rotate(172 285.6 31.3)" fill="#d4a2b2" opacity="0.25"/><ellipse cx="239.1" cy="43.6" rx="0.68" ry="0.41" transform="rotate(2 239.1 43.6)" fill="#c8a8a8" opacity="0.20"/><ellipse cx="284.3" cy="47.0" rx="0.72" ry="0.51" transform="rotate(58 284.3 47.0)" fill="#ccA0b0" opacity="0.27"/><ellipse cx="237.0" cy="78.6" rx="0.43" ry="0.36" transform="rotate(73 237.0 78.6)" fill="#ccA0b0" opacity="0.23"/><ellipse cx="260.9" cy="58.8" rx="0.89" ry="0.40" transform="rotate(178 260.9 58.8)" fill="#ccA0b0" opacity="0.32"/><ellipse cx="229.0" cy="32.5" rx="0.69" ry="0.29" transform="rotate(31 229.0 32.5)" fill="#c8a8a8" opacity="0.32"/><ellipse cx="218.0" cy="57.4" rx="1.05" ry="0.48" transform="rotate(120 218.0 57.4)" fill="#ccA0b0" opacity="0.28"/><ellipse cx="217.1" cy="82.5" rx="0.71" ry="0.36" transform="rotate(36 217.1 82.5)" fill="#d8aab6" opacity="0.23"/><ellipse cx="227.5" cy="43.2" rx="0.53" ry="0.35" transform="rotate(179 227.5 43.2)" fill="#ccA0b0" opacity="0.23"/><ellipse cx="249.1" cy="42.3" rx="0.65" ry="0.58" transform="rotate(85 249.1 42.3)" fill="#c8a8a8" opacity="0.32"/><ellipse cx="275.0" cy="82.5" rx="0.75" ry="0.58" transform="rotate(9 275.0 82.5)" fill="#d4a2b2" opacity="0.30"/><ellipse cx="256.8" cy="81.6" rx="0.71" ry="0.32" transform="rotate(81 256.8 81.6)" fill="#d4a2b2" opacity="0.23"/><ellipse cx="228.6" cy="78.3" rx="1.01" ry="0.51" transform="rotate(63 228.6 78.3)" fill="#d4a2b2" opacity="0.27"/><ellipse cx="210.1" cy="49.4" rx="0.59" ry="0.30" transform="rotate(165 210.1 49.4)" fill="#d8aab6" opacity="0.19"/><ellipse cx="274.6" cy="81.0" rx="0.60" ry="0.43" transform="rotate(37 274.6 81.0)" fill="#d8aab6" opacity="0.21"/><ellipse cx="273.0" cy="63.2" rx="0.58" ry="0.31" transform="rotate(28 273.0 63.2)" fill="#d4a2b2" opacity="0.29"/><ellipse cx="251.3" cy="70.1" rx="0.59" ry="0.43" transform="rotate(55 251.3 70.1)" fill="#d8aab6" opacity="0.24"/><ellipse cx="286.1" cy="47.6" rx="0.54" ry="0.53" transform="rotate(138 286.1 47.6)" fill="#d8aab6" opacity="0.24"/><ellipse cx="273.6" cy="69.5" rx="0.48" ry="0.48" transform="rotate(162 273.6 69.5)" fill="#c8a8a8" opacity="0.21"/><ellipse cx="242.2" cy="81.1" rx="0.54" ry="0.45" transform="rotate(3 242.2 81.1)" fill="#d8aab6" opacity="0.24"/><ellipse cx="252.8" cy="69.3" rx="1.10" ry="0.48" transform="rotate(133 252.8 69.3)" fill="#d4a2b2" opacity="0.26"/><ellipse cx="221.2" cy="50.0" rx="0.44" ry="0.39" transform="rotate(88 221.2 50.0)" fill="#ccA0b0" opacity="0.31"/><ellipse cx="273.8" cy="90.8" rx="0.43" ry="0.41" transform="rotate(164 273.8 90.8)" fill="#ccA0b0" opacity="0.30"/><ellipse cx="233.1" cy="67.1" rx="0.82" ry="0.45" transform="rotate(148 233.1 67.1)" fill="#d4a2b2" opacity="0.31"/><ellipse cx="220.3" cy="78.9" rx="0.49" ry="0.40" transform="rotate(85 220.3 78.9)" fill="#c8a8a8" opacity="0.27"/><ellipse cx="253.9" cy="29.8" rx="0.70" ry="0.61" transform="rotate(44 253.9 29.8)" fill="#ccA0b0" opacity="0.23"/><ellipse cx="267.2" cy="86.2" rx="0.47" ry="0.33" transform="rotate(70 267.2 86.2)" fill="#d4a2b2" opacity="0.27"/><ellipse cx="244.8" cy="83.0" rx="0.71" ry="0.54" transform="rotate(70 244.8 83.0)" fill="#c8a8a8" opacity="0.22"/><ellipse cx="237.5" cy="60.2" rx="0.58" ry="0.35" transform="rotate(42 237.5 60.2)" fill="#d4a2b2" opacity="0.27"/><ellipse cx="270.4" cy="78.5" rx="0.66" ry="0.43" transform="rotate(12 270.4 78.5)" fill="#ccA0b0" opacity="0.29"/><ellipse cx="236.8" cy="51.1" rx="0.66" ry="0.57" transform="rotate(166 236.8 51.1)" fill="#d4a2b2" opacity="0.19"/><ellipse cx="233.0" cy="74.5" rx="0.62" ry="0.30" transform="rotate(5 233.0 74.5)" fill="#c8a8a8" opacity="0.27"/><ellipse cx="212.5" cy="67.5" rx="1.01" ry="0.42" transform="rotate(89 212.5 67.5)" fill="#d4a2b2" opacity="0.21"/><ellipse cx="286.4" cy="87.5" rx="0.52" ry="0.36" transform="rotate(136 286.4 87.5)" fill="#ccA0b0" opacity="0.19"/><ellipse cx="220.2" cy="86.2" rx="0.62" ry="0.37" transform="rotate(166 220.2 86.2)" fill="#c8a8a8" opacity="0.20"/><ellipse cx="224.3" cy="44.3" rx="0.59" ry="0.48" transform="rotate(73 224.3 44.3)" fill="#d8aab6" opacity="0.23"/><ellipse cx="259.8" cy="45.4" rx="0.75" ry="0.36" transform="rotate(21 259.8 45.4)" fill="#c8a8a8" opacity="0.20"/><ellipse cx="251.0" cy="69.0" rx="0.69" ry="0.39" transform="rotate(159 251.0 69.0)" fill="#c8a8a8" opacity="0.26"/><ellipse cx="215.7" cy="92.5" rx="0.71" ry="0.48" transform="rotate(68 215.7 92.5)" fill="#c8a8a8" opacity="0.28"/><ellipse cx="237.6" cy="36.6" rx="0.52" ry="0.43" transform="rotate(134 237.6 36.6)" fill="#d4a2b2" opacity="0.24"/><ellipse cx="211.0" cy="81.1" rx="0.70" ry="0.35" transform="rotate(40 211.0 81.1)" fill="#d8aab6" opacity="0.28"/><ellipse cx="231.2" cy="68.3" rx="0.54" ry="0.46" transform="rotate(41 231.2 68.3)" fill="#d8aab6" opacity="0.31"/><ellipse cx="261.2" cy="28.5" rx="0.51" ry="0.30" transform="rotate(96 261.2 28.5)" fill="#d8aab6" opacity="0.22"/><ellipse cx="241.3" cy="46.9" rx="0.55" ry="0.34" transform="rotate(24 241.3 46.9)" fill="#d8aab6" opacity="0.27"/><ellipse cx="284.7" cy="43.1" rx="0.45" ry="0.38" transform="rotate(120 284.7 43.1)" fill="#d4a2b2" opacity="0.19"/><ellipse cx="229.4" cy="80.6" rx="0.94" ry="0.54" transform="rotate(63 229.4 80.6)" fill="#d4a2b2" opacity="0.27"/><ellipse cx="260.6" cy="56.3" rx="1.10" ry="0.49" transform="rotate(8 260.6 56.3)" fill="#c8a8a8" opacity="0.21"/><ellipse cx="251.1" cy="53.8" rx="0.47" ry="0.41" transform="rotate(110 251.1 53.8)" fill="#d4a2b2" opacity="0.31"/><ellipse cx="261.5" cy="40.0" rx="0.55" ry="0.45" transform="rotate(56 261.5 40.0)" fill="#c8a8a8" opacity="0.29"/>
<rect x="207" y="26" width="84" height="68" filter="url(#nz)" opacity="0.1"/>
</g>
<rect x="265.1" y="83.0" width="23.70" height="2.00" rx="0.6" fill="#000" filter="url(#bl3)"/><text x="278.2" y="91.0" font-size="6.0" text-anchor="middle" fill="#4a5468" filter="url(#bl3)">50µm</text>
<text x="284.8" y="40.4" font-size="7" font-weight="bold" text-anchor="middle" fill="#15151c" textLength="8.4" lengthAdjust="spacingAndGlyphs" filter="url(#bl3)">(g)</text>
<g filter="url(#bl3)"><path d="M287.6 42.2L282.8 47.7" stroke="#15151c" stroke-width="1.5"/><path d="M280.0 50.8L281.0 46.1L284.6 49.2Z" fill="#15151c"/></g>
<text x="258.6" y="67.4" font-size="7" font-weight="bold" text-anchor="middle" fill="#15151c" textLength="8.4" lengthAdjust="spacingAndGlyphs" filter="url(#bl3)">(g)</text>
<g filter="url(#bl3)"><path d="M255.8 71.4L251.3 76.6" stroke="#15151c" stroke-width="1.5"/><path d="M248.6 79.8L249.5 75.0L253.2 78.2Z" fill="#15151c"/></g>
<g clip-path="url(#c4)">
<rect x="36" y="94" width="85" height="71" fill="#ebf4fb"/>
<clipPath id="t4"><path d="M36 125L40 122L45 118L50 113.8L56 109.2L61 105.6L65 103.2L70 101.6L74.6 101L80 101.6L85.5 103L92 105L98 107.4L104 112L108 116L111.7 120L115 124.6L118 129L121 132.6V165H36Z"/></clipPath>
<g filter="url(#bl4)"><path d="M36 125L40 122L45 118L50 113.8L56 109.2L61 105.6L65 103.2L70 101.6L74.6 101L80 101.6L85.5 103L92 105L98 107.4L104 112L108 116L111.7 120L115 124.6L118 129L121 132.6V165H36Z" fill="#e8e6f4"/>
<path d="M36 136.5C50 137.4 60 139.4 75 142.6C90 145.6 105 146.6 121 145.8V153.4C105 154 90 152.4 75 149.6C60 146.8 50 143.6 36 142.8Z" fill="#c2b9e0"/>
<path d="M36 142.8C50 143.6 60 146.8 75 149.6C90 152.4 105 154 121 153.4V165H36Z" fill="#e2e1f3"/>
</g>
<g clip-path="url(#t4)"><path d="M36 126.5L40 123.5L45 119.5L50 115.3L56 110.7L61 107.1L65 104.7L70 103.1L74.6 102.5L80 103.1L85.5 104.5L92 106.5L98 108.9L104 113.5L108 117.5L111.7 121.5L115 126.1L118 130.5L121 134.1" fill="none" stroke="#eeb4c8" stroke-width="5" filter="url(#bl2)" opacity="0.4"/></g>
<g filter="url(#bl)"><circle cx="61.7" cy="111.8" r="0.76" fill="#e27c96" opacity="0.52"/><circle cx="73.2" cy="103.7" r="0.81" fill="#e27c96" opacity="0.68"/><circle cx="74.5" cy="101.8" r="0.54" fill="#e27c96" opacity="0.41"/><circle cx="111.4" cy="121.6" r="0.82" fill="#de7892" opacity="0.67"/><circle cx="58.8" cy="110.8" r="0.77" fill="#de7892" opacity="0.48"/><circle cx="114.5" cy="125.6" r="0.81" fill="#e27c96" opacity="0.75"/><circle cx="37.8" cy="124.4" r="0.75" fill="#e88ca4" opacity="0.69"/><circle cx="64.0" cy="106.6" r="0.80" fill="#de7892" opacity="0.62"/><circle cx="68.4" cy="106.8" r="0.84" fill="#ea9cb0" opacity="0.56"/><circle cx="81.1" cy="107.9" r="0.45" fill="#e27c96" opacity="0.55"/><circle cx="97.4" cy="110.1" r="0.53" fill="#e27c96" opacity="0.60"/><circle cx="50.9" cy="114.8" r="0.46" fill="#e27c96" opacity="0.40"/><circle cx="114.5" cy="125.5" r="0.46" fill="#e27c96" opacity="0.41"/><circle cx="90.6" cy="106.5" r="0.47" fill="#e27c96" opacity="0.68"/><circle cx="42.0" cy="123.4" r="0.78" fill="#e27c96" opacity="0.75"/><circle cx="100.0" cy="111.1" r="0.73" fill="#ea9cb0" opacity="0.40"/><circle cx="53.8" cy="112.1" r="0.79" fill="#e27c96" opacity="0.72"/><circle cx="89.5" cy="105.4" r="0.56" fill="#e27c96" opacity="0.41"/><circle cx="103.0" cy="113.4" r="0.58" fill="#de7892" opacity="0.36"/><circle cx="58.1" cy="110.3" r="0.56" fill="#de7892" opacity="0.76"/><circle cx="101.1" cy="113.1" r="0.57" fill="#e27c96" opacity="0.71"/><circle cx="39.1" cy="125.3" r="0.66" fill="#e27c96" opacity="0.51"/><circle cx="95.7" cy="109.1" r="0.79" fill="#e27c96" opacity="0.61"/><circle cx="60.6" cy="107.0" r="0.62" fill="#e88ca4" opacity="0.48"/><circle cx="99.5" cy="111.8" r="0.49" fill="#e88ca4" opacity="0.79"/><circle cx="86.3" cy="104.8" r="0.83" fill="#de7892" opacity="0.61"/><circle cx="49.8" cy="117.4" r="0.54" fill="#e88ca4" opacity="0.40"/><circle cx="90.0" cy="111.5" r="0.48" fill="#e27c96" opacity="0.63"/><circle cx="66.4" cy="105.8" r="0.81" fill="#e27c96" opacity="0.54"/><circle cx="90.8" cy="107.0" r="0.60" fill="#de7892" opacity="0.47"/><circle cx="112.2" cy="124.2" r="0.80" fill="#e88ca4" opacity="0.77"/><circle cx="47.2" cy="116.8" r="0.69" fill="#e27c96" opacity="0.51"/><circle cx="63.9" cy="107.7" r="0.71" fill="#de7892" opacity="0.43"/><circle cx="73.4" cy="106.5" r="0.76" fill="#e88ca4" opacity="0.41"/><circle cx="75.3" cy="103.3" r="0.53" fill="#de7892" opacity="0.69"/><circle cx="105.9" cy="116.0" r="0.70" fill="#e88ca4" opacity="0.79"/><circle cx="97.2" cy="109.9" r="0.54" fill="#e88ca4" opacity="0.47"/><circle cx="116.7" cy="129.4" r="0.85" fill="#e88ca4" opacity="0.78"/><circle cx="45.0" cy="125.0" r="0.77" fill="#de7892" opacity="0.55"/><circle cx="53.0" cy="117.8" r="0.71" fill="#e27c96" opacity="0.48"/><circle cx="110.9" cy="120.2" r="0.79" fill="#ea9cb0" opacity="0.66"/><circle cx="78.5" cy="102.1" r="0.70" fill="#ea9cb0" opacity="0.36"/><circle cx="58.1" cy="108.3" r="0.55" fill="#ea9cb0" opacity="0.67"/><circle cx="85.8" cy="104.0" r="0.71" fill="#e88ca4" opacity="0.65"/><circle cx="91.3" cy="108.5" r="0.68" fill="#e88ca4" opacity="0.66"/><circle cx="90.4" cy="108.1" r="0.63" fill="#de7892" opacity="0.47"/><circle cx="95.4" cy="108.7" r="0.61" fill="#e88ca4" opacity="0.46"/><circle cx="72.1" cy="103.3" r="0.63" fill="#ea9cb0" opacity="0.58"/><circle cx="92.0" cy="110.1" r="0.58" fill="#e27c96" opacity="0.52"/><circle cx="77.6" cy="106.5" r="0.84" fill="#e27c96" opacity="0.46"/><circle cx="54.8" cy="112.3" r="0.53" fill="#de7892" opacity="0.40"/><circle cx="84.8" cy="110.6" r="0.67" fill="#ea9cb0" opacity="0.58"/><circle cx="90.2" cy="106.8" r="0.61" fill="#ea9cb0" opacity="0.44"/><circle cx="94.0" cy="109.6" r="0.61" fill="#e27c96" opacity="0.68"/><circle cx="88.1" cy="105.9" r="0.60" fill="#e27c96" opacity="0.36"/><circle cx="71.7" cy="103.7" r="0.62" fill="#de7892" opacity="0.61"/><circle cx="45.7" cy="119.0" r="0.83" fill="#e88ca4" opacity="0.80"/><circle cx="117.2" cy="131.3" r="0.63" fill="#e88ca4" opacity="0.41"/><circle cx="101.7" cy="112.4" r="0.64" fill="#e88ca4" opacity="0.72"/><circle cx="48.8" cy="119.4" r="0.72" fill="#ea9cb0" opacity="0.56"/><circle cx="61.2" cy="107.5" r="0.78" fill="#de7892" opacity="0.70"/><circle cx="55.9" cy="110.4" r="0.73" fill="#de7892" opacity="0.79"/><circle cx="93.5" cy="111.6" r="0.77" fill="#de7892" opacity="0.46"/><circle cx="61.9" cy="106.3" r="0.64" fill="#ea9cb0" opacity="0.63"/><circle cx="43.7" cy="121.0" r="0.57" fill="#ea9cb0" opacity="0.38"/><circle cx="106.0" cy="115.7" r="0.81" fill="#e88ca4" opacity="0.59"/><circle cx="65.5" cy="107.5" r="0.53" fill="#e27c96" opacity="0.65"/><circle cx="57.5" cy="110.9" r="0.49" fill="#e88ca4" opacity="0.73"/><circle cx="52.1" cy="117.8" r="0.53" fill="#ea9cb0" opacity="0.71"/><circle cx="50.6" cy="115.5" r="0.81" fill="#e27c96" opacity="0.65"/><circle cx="111.6" cy="121.8" r="0.53" fill="#e88ca4" opacity="0.59"/><circle cx="98.8" cy="114.2" r="0.63" fill="#e27c96" opacity="0.60"/><circle cx="58.7" cy="108.0" r="0.65" fill="#e27c96" opacity="0.57"/><circle cx="112.6" cy="123.4" r="0.73" fill="#e88ca4" opacity="0.57"/><circle cx="81.8" cy="102.9" r="0.79" fill="#ea9cb0" opacity="0.66"/><circle cx="78.3" cy="102.3" r="0.57" fill="#ea9cb0" opacity="0.52"/><circle cx="71.7" cy="103.1" r="0.70" fill="#e27c96" opacity="0.36"/><circle cx="40.4" cy="122.6" r="0.74" fill="#de7892" opacity="0.71"/><circle cx="44.4" cy="124.1" r="0.51" fill="#e88ca4" opacity="0.67"/><circle cx="89.0" cy="105.2" r="0.59" fill="#de7892" opacity="0.50"/><circle cx="101.9" cy="117.2" r="0.56" fill="#de7892" opacity="0.54"/><circle cx="83.0" cy="105.2" r="0.78" fill="#de7892" opacity="0.51"/><circle cx="78.0" cy="106.3" r="0.80" fill="#de7892" opacity="0.79"/><circle cx="91.5" cy="112.9" r="0.77" fill="#de7892" opacity="0.44"/><circle cx="96.4" cy="113.0" r="0.49" fill="#e27c96" opacity="0.53"/><circle cx="83.1" cy="108.8" r="0.61" fill="#e27c96" opacity="0.53"/><circle cx="45.6" cy="123.4" r="0.64" fill="#e27c96" opacity="0.71"/><circle cx="112.9" cy="123.9" r="0.69" fill="#e88ca4" opacity="0.63"/><circle cx="95.0" cy="110.5" r="0.54" fill="#ea9cb0" opacity="0.63"/><circle cx="51.1" cy="116.1" r="0.72" fill="#e27c96" opacity="0.54"/><circle cx="45.0" cy="119.1" r="0.80" fill="#e88ca4" opacity="0.70"/><circle cx="83.7" cy="103.4" r="0.55" fill="#de7892" opacity="0.43"/><circle cx="39.4" cy="126.9" r="0.68" fill="#e27c96" opacity="0.57"/><circle cx="80.4" cy="102.8" r="0.78" fill="#ea9cb0" opacity="0.61"/><circle cx="113.7" cy="123.8" r="0.60" fill="#e88ca4" opacity="0.56"/><circle cx="71.1" cy="102.2" r="0.49" fill="#ea9cb0" opacity="0.45"/><circle cx="49.2" cy="115.3" r="0.72" fill="#e27c96" opacity="0.79"/><circle cx="108.6" cy="117.3" r="0.54" fill="#e27c96" opacity="0.41"/><circle cx="38.0" cy="124.5" r="0.74" fill="#e88ca4" opacity="0.77"/><circle cx="67.2" cy="105.3" r="0.75" fill="#e88ca4" opacity="0.68"/><circle cx="43.6" cy="123.0" r="0.63" fill="#de7892" opacity="0.76"/><circle cx="40.9" cy="125.3" r="0.46" fill="#e27c96" opacity="0.36"/><circle cx="91.2" cy="105.8" r="0.57" fill="#e88ca4" opacity="0.78"/><circle cx="106.6" cy="116.3" r="0.69" fill="#de7892" opacity="0.52"/><circle cx="84.8" cy="107.6" r="0.51" fill="#e27c96" opacity="0.51"/><circle cx="90.7" cy="106.9" r="0.70" fill="#ea9cb0" opacity="0.56"/><circle cx="101.9" cy="113.2" r="0.75" fill="#de7892" opacity="0.48"/><circle cx="41.6" cy="122.0" r="0.84" fill="#de7892" opacity="0.74"/><circle cx="97.5" cy="109.5" r="0.78" fill="#ea9cb0" opacity="0.79"/><circle cx="57.2" cy="109.1" r="0.60" fill="#ea9cb0" opacity="0.62"/><circle cx="111.8" cy="121.6" r="0.45" fill="#de7892" opacity="0.47"/><circle cx="49.7" cy="116.9" r="0.82" fill="#e27c96" opacity="0.48"/><circle cx="48.3" cy="123.1" r="0.51" fill="#ea9cb0" opacity="0.51"/><circle cx="43.6" cy="125.7" r="0.67" fill="#ea9cb0" opacity="0.44"/><circle cx="99.5" cy="111.2" r="0.69" fill="#ea9cb0" opacity="0.56"/><circle cx="53.9" cy="112.4" r="0.55" fill="#e27c96" opacity="0.71"/><circle cx="75.1" cy="106.3" r="0.76" fill="#e88ca4" opacity="0.53"/><circle cx="80.3" cy="105.1" r="0.55" fill="#de7892" opacity="0.56"/><circle cx="86.0" cy="104.5" r="0.52" fill="#de7892" opacity="0.51"/><circle cx="83.9" cy="105.0" r="0.61" fill="#e88ca4" opacity="0.46"/><circle cx="114.0" cy="129.8" r="0.60" fill="#ea9cb0" opacity="0.70"/><circle cx="49.6" cy="115.0" r="0.69" fill="#de7892" opacity="0.48"/><circle cx="87.5" cy="105.9" r="0.80" fill="#ea9cb0" opacity="0.61"/><circle cx="54.4" cy="112.1" r="0.82" fill="#de7892" opacity="0.54"/><circle cx="116.0" cy="127.3" r="0.84" fill="#de7892" opacity="0.73"/><circle cx="65.0" cy="109.3" r="0.85" fill="#ea9cb0" opacity="0.39"/><circle cx="40.8" cy="127.7" r="0.63" fill="#e27c96" opacity="0.74"/><circle cx="90.2" cy="107.2" r="0.82" fill="#e27c96" opacity="0.47"/><circle cx="83.9" cy="108.0" r="0.72" fill="#ea9cb0" opacity="0.43"/><circle cx="107.9" cy="122.3" r="0.60" fill="#e88ca4" opacity="0.80"/><circle cx="55.1" cy="112.7" r="0.59" fill="#e27c96" opacity="0.73"/><circle cx="40.5" cy="122.8" r="0.76" fill="#ea9cb0" opacity="0.38"/><circle cx="48.7" cy="115.7" r="0.72" fill="#de7892" opacity="0.62"/><circle cx="73.6" cy="108.8" r="0.71" fill="#ea9cb0" opacity="0.50"/><circle cx="58.1" cy="110.7" r="0.52" fill="#e88ca4" opacity="0.71"/><circle cx="113.3" cy="125.2" r="0.81" fill="#ea9cb0" opacity="0.67"/><circle cx="52.9" cy="118.9" r="0.54" fill="#de7892" opacity="0.75"/><circle cx="48.2" cy="117.4" r="0.63" fill="#e27c96" opacity="0.77"/><circle cx="68.8" cy="103.7" r="0.84" fill="#de7892" opacity="0.72"/><circle cx="76.6" cy="102.0" r="0.70" fill="#e88ca4" opacity="0.50"/><circle cx="98.3" cy="109.6" r="0.81" fill="#ea9cb0" opacity="0.74"/><circle cx="58.9" cy="110.7" r="0.61" fill="#e88ca4" opacity="0.36"/><circle cx="84.5" cy="104.9" r="0.55" fill="#e27c96" opacity="0.49"/><circle cx="112.4" cy="126.7" r="0.50" fill="#e27c96" opacity="0.63"/><circle cx="102.7" cy="115.0" r="0.78" fill="#e27c96" opacity="0.47"/><circle cx="53.4" cy="113.5" r="0.60" fill="#de7892" opacity="0.80"/><circle cx="114.2" cy="126.1" r="0.81" fill="#e27c96" opacity="0.72"/><circle cx="118.7" cy="131.9" r="0.51" fill="#e27c96" opacity="0.55"/><circle cx="79.2" cy="105.3" r="0.77" fill="#de7892" opacity="0.43"/><circle cx="73.1" cy="102.0" r="0.81" fill="#e88ca4" opacity="0.47"/><circle cx="51.7" cy="115.1" r="0.54" fill="#e88ca4" opacity="0.44"/><circle cx="43.2" cy="123.1" r="0.48" fill="#ea9cb0" opacity="0.69"/><circle cx="51.2" cy="116.4" r="0.70" fill="#e88ca4" opacity="0.61"/><circle cx="53.5" cy="115.1" r="0.48" fill="#ea9cb0" opacity="0.73"/><circle cx="113.5" cy="125.8" r="0.56" fill="#ea9cb0" opacity="0.39"/><circle cx="70.9" cy="102.4" r="0.76" fill="#e88ca4" opacity="0.74"/><circle cx="58.9" cy="110.0" r="0.60" fill="#e88ca4" opacity="0.67"/><circle cx="84.8" cy="108.6" r="0.79" fill="#de7892" opacity="0.58"/><circle cx="73.9" cy="103.2" r="0.74" fill="#de7892" opacity="0.70"/><circle cx="109.4" cy="118.3" r="0.68" fill="#e27c96" opacity="0.48"/><circle cx="45.5" cy="118.5" r="0.46" fill="#e88ca4" opacity="0.36"/><circle cx="117.8" cy="132.5" r="0.54" fill="#e88ca4" opacity="0.43"/><circle cx="62.7" cy="112.2" r="0.46" fill="#e88ca4" opacity="0.47"/><circle cx="106.8" cy="118.0" r="0.70" fill="#ea9cb0" opacity="0.59"/><circle cx="95.5" cy="111.8" r="0.74" fill="#e27c96" opacity="0.47"/><circle cx="75.5" cy="105.4" r="0.68" fill="#de7892" opacity="0.40"/><circle cx="46.7" cy="120.0" r="0.54" fill="#e88ca4" opacity="0.42"/><circle cx="84.6" cy="105.9" r="0.75" fill="#e88ca4" opacity="0.78"/><circle cx="38.1" cy="127.1" r="0.69" fill="#e27c96" opacity="0.53"/><circle cx="115.6" cy="129.5" r="0.76" fill="#de7892" opacity="0.53"/><circle cx="106.9" cy="116.8" r="0.68" fill="#de7892" opacity="0.72"/><circle cx="107.7" cy="121.9" r="0.47" fill="#e88ca4" opacity="0.78"/><circle cx="115.0" cy="125.2" r="0.70" fill="#de7892" opacity="0.40"/><circle cx="52.2" cy="115.8" r="0.58" fill="#e88ca4" opacity="0.58"/><circle cx="38.2" cy="129.0" r="0.76" fill="#ea9cb0" opacity="0.63"/><circle cx="104.5" cy="119.2" r="0.80" fill="#e27c96" opacity="0.37"/><circle cx="90.4" cy="105.6" r="0.56" fill="#e27c96" opacity="0.63"/><circle cx="57.5" cy="113.2" r="0.66" fill="#ea9cb0" opacity="0.46"/><circle cx="39.8" cy="124.8" r="0.52" fill="#e27c96" opacity="0.62"/><circle cx="116.8" cy="129.7" r="0.66" fill="#de7892" opacity="0.39"/><circle cx="86.1" cy="106.7" r="0.65" fill="#de7892" opacity="0.76"/><circle cx="85.0" cy="104.8" r="0.56" fill="#e27c96" opacity="0.68"/><circle cx="60.6" cy="110.9" r="0.54" fill="#ea9cb0" opacity="0.44"/><circle cx="96.2" cy="108.6" r="0.63" fill="#de7892" opacity="0.63"/><circle cx="75.9" cy="102.6" r="0.54" fill="#ea9cb0" opacity="0.79"/><circle cx="69.8" cy="104.3" r="0.82" fill="#e88ca4" opacity="0.74"/><circle cx="56.5" cy="112.7" r="0.56" fill="#e88ca4" opacity="0.48"/><circle cx="101.4" cy="111.8" r="0.51" fill="#e27c96" opacity="0.62"/><circle cx="65.7" cy="105.5" r="0.78" fill="#de7892" opacity="0.68"/><circle cx="45.7" cy="121.1" r="0.54" fill="#e88ca4" opacity="0.54"/><circle cx="92.6" cy="111.4" r="0.66" fill="#e88ea4" opacity="0.63"/><circle cx="80.0" cy="108.9" r="0.71" fill="#de7490" opacity="0.67"/><circle cx="120.1" cy="134.3" r="0.67" fill="#de7490" opacity="0.35"/><circle cx="109.6" cy="136.6" r="0.45" fill="#de7490" opacity="0.53"/><circle cx="78.3" cy="118.5" r="0.60" fill="#e88ea4" opacity="0.65"/><circle cx="87.5" cy="108.1" r="0.58" fill="#e88ea4" opacity="0.58"/><circle cx="60.7" cy="113.7" r="0.63" fill="#de7490" opacity="0.45"/><circle cx="63.5" cy="114.4" r="0.73" fill="#e88ea4" opacity="0.45"/><circle cx="61.7" cy="128.6" r="0.60" fill="#e88ea4" opacity="0.53"/><circle cx="43.9" cy="124.9" r="0.77" fill="#e88ea4" opacity="0.69"/><circle cx="87.6" cy="104.8" r="0.79" fill="#e27a94" opacity="0.31"/><circle cx="58.1" cy="119.9" r="0.76" fill="#e88ea4" opacity="0.67"/><circle cx="101.5" cy="155.8" r="0.63" fill="#de7490" opacity="0.59"/><circle cx="72.6" cy="113.0" r="0.61" fill="#e27a94" opacity="0.54"/><circle cx="66.0" cy="122.0" r="0.63" fill="#e27a94" opacity="0.46"/><circle cx="78.6" cy="108.3" r="0.68" fill="#de7490" opacity="0.36"/><circle cx="52.3" cy="124.2" r="0.72" fill="#de7490" opacity="0.44"/><circle cx="81.0" cy="108.7" r="0.74" fill="#e27a94" opacity="0.45"/><circle cx="67.3" cy="113.1" r="0.51" fill="#de7490" opacity="0.66"/><circle cx="94.5" cy="111.7" r="0.74" fill="#de7490" opacity="0.66"/><circle cx="71.9" cy="107.9" r="0.63" fill="#de7490" opacity="0.66"/><circle cx="71.1" cy="111.0" r="0.47" fill="#de7490" opacity="0.54"/><circle cx="66.2" cy="121.9" r="0.46" fill="#e88ea4" opacity="0.30"/><circle cx="36.7" cy="125.8" r="0.70" fill="#de7490" opacity="0.30"/><circle cx="62.1" cy="115.0" r="0.68" fill="#e27a94" opacity="0.37"/><circle cx="101.1" cy="124.8" r="0.65" fill="#de7490" opacity="0.66"/><circle cx="79.7" cy="107.5" r="0.66" fill="#e27a94" opacity="0.36"/><circle cx="100.3" cy="116.6" r="0.49" fill="#e27a94" opacity="0.33"/><circle cx="116.1" cy="141.4" r="0.60" fill="#e27a94" opacity="0.56"/><circle cx="94.0" cy="107.3" r="0.65" fill="#e27a94" opacity="0.59"/><circle cx="66.2" cy="108.4" r="0.48" fill="#de7490" opacity="0.33"/><circle cx="52.6" cy="121.4" r="0.67" fill="#e27a94" opacity="0.32"/><circle cx="111.3" cy="148.8" r="0.60" fill="#de7490" opacity="0.40"/><circle cx="55.2" cy="126.7" r="0.51" fill="#de7490" opacity="0.64"/><circle cx="62.9" cy="124.3" r="0.56" fill="#de7490" opacity="0.40"/><circle cx="111.0" cy="134.0" r="0.79" fill="#e27a94" opacity="0.40"/><circle cx="69.2" cy="104.3" r="0.56" fill="#de7490" opacity="0.49"/><circle cx="103.1" cy="120.9" r="0.54" fill="#e27a94" opacity="0.37"/><circle cx="68.3" cy="129.6" r="0.59" fill="#e88ea4" opacity="0.35"/><circle cx="81.3" cy="103.8" r="0.58" fill="#e88ea4" opacity="0.56"/><circle cx="117.2" cy="153.9" r="0.64" fill="#e88ea4" opacity="0.38"/><circle cx="60.3" cy="120.2" r="0.53" fill="#e27a94" opacity="0.41"/><circle cx="38.6" cy="126.9" r="0.50" fill="#e27a94" opacity="0.41"/><circle cx="106.6" cy="124.3" r="0.49" fill="#e88ea4" opacity="0.49"/><circle cx="103.3" cy="112.8" r="0.53" fill="#e88ea4" opacity="0.45"/><circle cx="117.0" cy="140.6" r="0.52" fill="#e88ea4" opacity="0.50"/><circle cx="55.6" cy="116.7" r="0.70" fill="#e88ea4" opacity="0.54"/><circle cx="73.5" cy="103.8" r="0.80" fill="#de7490" opacity="0.40"/><circle cx="87.6" cy="110.4" r="0.49" fill="#de7490" opacity="0.34"/><circle cx="108.1" cy="142.3" r="0.71" fill="#e88ea4" opacity="0.31"/><circle cx="96.8" cy="108.9" r="0.70" fill="#de7490" opacity="0.37"/><circle cx="108.0" cy="118.4" r="0.56" fill="#de7490" opacity="0.66"/><circle cx="42.2" cy="141.0" r="0.72" fill="#e27a94" opacity="0.33"/><circle cx="62.6" cy="117.3" r="0.53" fill="#e27a94" opacity="0.63"/><circle cx="70.0" cy="117.7" r="0.61" fill="#de7490" opacity="0.65"/><circle cx="108.8" cy="137.2" r="0.50" fill="#e88ea4" opacity="0.37"/><circle cx="67.3" cy="109.2" r="0.76" fill="#e27a94" opacity="0.56"/><circle cx="95.2" cy="125.9" r="0.54" fill="#e88ea4" opacity="0.44"/><circle cx="89.3" cy="107.5" r="0.77" fill="#de7490" opacity="0.39"/><circle cx="93.4" cy="112.0" r="0.59" fill="#de7490" opacity="0.36"/><circle cx="53.1" cy="116.2" r="0.46" fill="#e88ea4" opacity="0.55"/><circle cx="115.6" cy="138.1" r="0.65" fill="#e27a94" opacity="0.53"/><circle cx="96.7" cy="107.9" r="0.69" fill="#e88ea4" opacity="0.67"/><circle cx="45.9" cy="131.7" r="0.72" fill="#de7490" opacity="0.41"/><circle cx="40.1" cy="133.3" r="0.47" fill="#e27a94" opacity="0.57"/><circle cx="39.6" cy="137.0" r="0.56" fill="#e88ea4" opacity="0.60"/><circle cx="43.7" cy="124.0" r="0.71" fill="#e27a94" opacity="0.41"/><circle cx="44.1" cy="131.6" r="0.78" fill="#e88ea4" opacity="0.48"/><circle cx="65.1" cy="123.6" r="0.74" fill="#de7490" opacity="0.48"/><circle cx="41.1" cy="122.1" r="0.69" fill="#e88ea4" opacity="0.57"/><circle cx="107.6" cy="118.9" r="0.52" fill="#de7490" opacity="0.63"/><circle cx="83.5" cy="117.9" r="0.51" fill="#e27a94" opacity="0.69"/><circle cx="90.1" cy="114.5" r="0.47" fill="#e88ea4" opacity="0.44"/><circle cx="44.3" cy="121.9" r="0.67" fill="#e27a94" opacity="0.35"/><circle cx="95.9" cy="111.8" r="0.53" fill="#de7490" opacity="0.58"/><circle cx="47.7" cy="124.8" r="0.67" fill="#de7490" opacity="0.42"/><circle cx="110.8" cy="130.2" r="0.57" fill="#e27a94" opacity="0.52"/><circle cx="100.4" cy="122.8" r="0.51" fill="#de7490" opacity="0.36"/><circle cx="118.8" cy="137.6" r="0.52" fill="#de7490" opacity="0.42"/><circle cx="66.8" cy="114.5" r="0.52" fill="#e27a94" opacity="0.66"/><circle cx="62.0" cy="114.2" r="0.79" fill="#e27a94" opacity="0.43"/><circle cx="75.9" cy="108.9" r="0.58" fill="#e27a94" opacity="0.52"/><circle cx="40.3" cy="158.0" r="0.62" fill="#de7490" opacity="0.59"/><circle cx="118.8" cy="137.7" r="0.65" fill="#e27a94" opacity="0.56"/><circle cx="116.9" cy="150.6" r="0.56" fill="#e88ea4" opacity="0.67"/><circle cx="90.6" cy="106.8" r="0.67" fill="#de7490" opacity="0.56"/><circle cx="57.6" cy="108.8" r="0.46" fill="#e88ea4" opacity="0.64"/><circle cx="61.4" cy="113.1" r="0.52" fill="#de7490" opacity="0.51"/><circle cx="111.7" cy="123.1" r="0.70" fill="#e88ea4" opacity="0.60"/><circle cx="63.9" cy="109.9" r="0.51" fill="#e88ea4" opacity="0.43"/><circle cx="67.5" cy="114.9" r="0.74" fill="#e27a94" opacity="0.32"/><circle cx="45.5" cy="122.1" r="0.73" fill="#de7490" opacity="0.46"/><circle cx="40.7" cy="124.9" r="0.71" fill="#e88ea4" opacity="0.54"/><circle cx="89.1" cy="118.0" r="0.50" fill="#e27a94" opacity="0.37"/><circle cx="73.7" cy="107.2" r="0.46" fill="#e88ea4" opacity="0.49"/><circle cx="54.8" cy="111.8" r="0.58" fill="#e27a94" opacity="0.64"/><circle cx="108.3" cy="120.1" r="0.55" fill="#de7490" opacity="0.32"/><circle cx="96.2" cy="120.6" r="0.76" fill="#e27a94" opacity="0.48"/><circle cx="92.5" cy="118.7" r="0.51" fill="#e88ea4" opacity="0.30"/><circle cx="104.0" cy="137.6" r="0.69" fill="#de7490" opacity="0.38"/><circle cx="43.6" cy="126.1" r="0.79" fill="#de7490" opacity="0.65"/><circle cx="118.3" cy="142.9" r="0.79" fill="#de7490" opacity="0.33"/><circle cx="104.5" cy="115.1" r="0.68" fill="#de7490" opacity="0.53"/><circle cx="116.5" cy="139.0" r="0.62" fill="#de7490" opacity="0.35"/><circle cx="109.2" cy="136.0" r="0.75" fill="#e27a94" opacity="0.57"/><circle cx="74.1" cy="105.2" r="0.48" fill="#de7490" opacity="0.53"/><circle cx="83.1" cy="114.5" r="0.53" fill="#e88ea4" opacity="0.46"/><circle cx="46.1" cy="122.0" r="0.51" fill="#e27a94" opacity="0.52"/><circle cx="45.9" cy="124.3" r="0.48" fill="#de7490" opacity="0.57"/><circle cx="96.1" cy="114.8" r="0.53" fill="#e88ea4" opacity="0.39"/><circle cx="84.6" cy="115.2" r="0.66" fill="#e27a94" opacity="0.64"/><circle cx="93.6" cy="116.4" r="0.73" fill="#e27a94" opacity="0.65"/><circle cx="82.7" cy="107.7" r="0.49" fill="#de7490" opacity="0.51"/><circle cx="75.1" cy="123.0" r="0.69" fill="#de7490" opacity="0.37"/><circle cx="117.1" cy="149.1" r="0.50" fill="#de7490" opacity="0.32"/><circle cx="56.4" cy="118.2" r="0.58" fill="#e27a94" opacity="0.58"/><circle cx="116.8" cy="134.2" r="0.50" fill="#e27a94" opacity="0.55"/><circle cx="109.8" cy="120.2" r="0.65" fill="#de7490" opacity="0.65"/><circle cx="50.6" cy="114.3" r="0.72" fill="#de7490" opacity="0.30"/><circle cx="58.0" cy="120.3" r="0.53" fill="#de7490" opacity="0.59"/><circle cx="116.1" cy="127.5" r="0.66" fill="#e27a94" opacity="0.44"/><circle cx="64.0" cy="108.2" r="0.66" fill="#e27a94" opacity="0.67"/><circle cx="93.2" cy="106.3" r="0.61" fill="#de7490" opacity="0.48"/><circle cx="103.0" cy="120.3" r="0.62" fill="#e27a94" opacity="0.62"/><circle cx="52.1" cy="123.0" r="0.69" fill="#e88ea4" opacity="0.63"/><circle cx="85.9" cy="107.3" r="0.54" fill="#de7490" opacity="0.60"/><circle cx="59.1" cy="110.3" r="0.80" fill="#e88ea4" opacity="0.50"/><circle cx="109.8" cy="119.6" r="0.73" fill="#e27a94" opacity="0.33"/><circle cx="88.6" cy="115.4" r="0.75" fill="#e27a94" opacity="0.58"/><circle cx="74.2" cy="115.5" r="0.53" fill="#de7490" opacity="0.51"/><circle cx="67.0" cy="155.2" r="0.51" fill="#e088a0" opacity="0.51"/><circle cx="40.6" cy="149.0" r="0.53" fill="#d890b0" opacity="0.42"/><circle cx="75.9" cy="162.4" r="0.51" fill="#d890b0" opacity="0.50"/><circle cx="64.7" cy="146.4" r="0.56" fill="#e49cb0" opacity="0.32"/><circle cx="49.1" cy="157.7" r="0.50" fill="#d890b0" opacity="0.32"/><circle cx="119.3" cy="152.2" r="0.60" fill="#e49cb0" opacity="0.63"/><circle cx="119.4" cy="146.6" r="0.60" fill="#e088a0" opacity="0.61"/><circle cx="101.3" cy="157.1" r="0.62" fill="#d890b0" opacity="0.58"/><circle cx="102.8" cy="150.2" r="0.68" fill="#e088a0" opacity="0.54"/><circle cx="62.2" cy="159.4" r="0.66" fill="#e49cb0" opacity="0.60"/><circle cx="57.4" cy="161.3" r="0.65" fill="#d890b0" opacity="0.32"/><circle cx="65.0" cy="151.7" r="0.75" fill="#d890b0" opacity="0.48"/><circle cx="111.2" cy="160.2" r="0.75" fill="#e088a0" opacity="0.35"/><circle cx="37.6" cy="161.2" r="0.56" fill="#d890b0" opacity="0.44"/><circle cx="101.1" cy="162.3" r="0.61" fill="#e088a0" opacity="0.41"/><circle cx="62.6" cy="158.7" r="0.59" fill="#d890b0" opacity="0.33"/><circle cx="52.8" cy="162.2" r="0.60" fill="#d890b0" opacity="0.50"/><circle cx="119.0" cy="152.2" r="0.67" fill="#d890b0" opacity="0.55"/><circle cx="113.5" cy="160.7" r="0.51" fill="#e088a0" opacity="0.40"/><circle cx="58.4" cy="146.4" r="0.46" fill="#d890b0" opacity="0.38"/><circle cx="38.7" cy="146.8" r="0.56" fill="#e49cb0" opacity="0.40"/><circle cx="78.7" cy="147.7" r="0.48" fill="#e088a0" opacity="0.64"/><circle cx="86.9" cy="147.4" r="0.68" fill="#e49cb0" opacity="0.42"/><circle cx="48.3" cy="149.3" r="0.59" fill="#e088a0" opacity="0.52"/><circle cx="113.6" cy="149.7" r="0.51" fill="#e49cb0" opacity="0.31"/><circle cx="77.4" cy="156.7" r="0.68" fill="#e088a0" opacity="0.32"/><circle cx="71.4" cy="146.8" r="0.62" fill="#d890b0" opacity="0.57"/><circle cx="119.0" cy="153.0" r="0.73" fill="#e088a0" opacity="0.31"/><circle cx="63.3" cy="157.4" r="0.51" fill="#d890b0" opacity="0.51"/><circle cx="97.1" cy="151.8" r="0.43" fill="#e088a0" opacity="0.37"/><circle cx="80.9" cy="160.7" r="0.53" fill="#d890b0" opacity="0.45"/><circle cx="81.7" cy="156.3" r="0.59" fill="#e49cb0" opacity="0.64"/><circle cx="84.7" cy="150.0" r="0.62" fill="#e49cb0" opacity="0.47"/><circle cx="39.6" cy="157.3" r="0.63" fill="#e49cb0" opacity="0.64"/><circle cx="74.6" cy="150.9" r="0.58" fill="#d890b0" opacity="0.35"/><circle cx="37.8" cy="154.3" r="0.63" fill="#d890b0" opacity="0.35"/><circle cx="89.2" cy="153.0" r="0.74" fill="#e088a0" opacity="0.52"/><circle cx="47.1" cy="155.5" r="0.47" fill="#e088a0" opacity="0.39"/><circle cx="87.3" cy="158.9" r="0.72" fill="#e49cb0" opacity="0.60"/><circle cx="101.7" cy="155.2" r="0.52" fill="#e49cb0" opacity="0.38"/><circle cx="118.5" cy="154.7" r="0.62" fill="#d890b0" opacity="0.62"/><circle cx="69.3" cy="149.7" r="0.68" fill="#e088a0" opacity="0.34"/><circle cx="97.9" cy="147.1" r="0.63" fill="#d890b0" opacity="0.54"/><circle cx="66.1" cy="150.0" r="0.53" fill="#d890b0" opacity="0.63"/><circle cx="89.1" cy="149.9" r="0.49" fill="#d890b0" opacity="0.55"/><circle cx="57.1" cy="152.2" r="0.51" fill="#d890b0" opacity="0.52"/><circle cx="61.8" cy="163.4" r="0.48" fill="#e49cb0" opacity="0.58"/><circle cx="76.6" cy="162.3" r="0.67" fill="#e088a0" opacity="0.59"/><circle cx="60.5" cy="151.8" r="0.57" fill="#e088a0" opacity="0.36"/><circle cx="93.7" cy="156.5" r="0.56" fill="#e49cb0" opacity="0.32"/><circle cx="101.9" cy="160.9" r="0.66" fill="#e088a0" opacity="0.57"/><circle cx="108.7" cy="149.2" r="0.70" fill="#d890b0" opacity="0.54"/><circle cx="103.8" cy="148.7" r="0.72" fill="#e088a0" opacity="0.62"/><circle cx="49.5" cy="158.9" r="0.43" fill="#e088a0" opacity="0.46"/><circle cx="70.0" cy="153.2" r="0.62" fill="#e49cb0" opacity="0.55"/><circle cx="110.2" cy="163.1" r="0.41" fill="#e088a0" opacity="0.37"/><circle cx="89.1" cy="146.3" r="0.45" fill="#e49cb0" opacity="0.38"/><circle cx="72.7" cy="147.8" r="0.41" fill="#d890b0" opacity="0.32"/><circle cx="46.2" cy="162.8" r="0.74" fill="#e49cb0" opacity="0.45"/><circle cx="51.9" cy="158.0" r="0.45" fill="#e49cb0" opacity="0.49"/><circle cx="119.5" cy="155.3" r="0.69" fill="#e088a0" opacity="0.42"/><circle cx="54.9" cy="162.9" r="0.71" fill="#e49cb0" opacity="0.33"/><circle cx="95.4" cy="146.3" r="0.49" fill="#e088a0" opacity="0.37"/><circle cx="41.0" cy="159.8" r="0.73" fill="#d890b0" opacity="0.30"/><circle cx="94.1" cy="157.4" r="0.59" fill="#e49cb0" opacity="0.42"/><circle cx="71.1" cy="163.4" r="0.66" fill="#d890b0" opacity="0.44"/><circle cx="63.4" cy="153.3" r="0.74" fill="#d890b0" opacity="0.57"/><circle cx="110.2" cy="160.1" r="0.71" fill="#e49cb0" opacity="0.30"/><circle cx="87.4" cy="162.2" r="0.49" fill="#e49cb0" opacity="0.56"/><circle cx="119.3" cy="160.4" r="0.63" fill="#e088a0" opacity="0.60"/><circle cx="102.1" cy="161.9" r="0.42" fill="#e49cb0" opacity="0.50"/><circle cx="93.8" cy="153.7" r="0.63" fill="#d890b0" opacity="0.64"/><circle cx="37.1" cy="159.1" r="0.70" fill="#e49cb0" opacity="0.42"/><circle cx="82.3" cy="152.6" r="0.69" fill="#e49cb0" opacity="0.60"/><circle cx="66.5" cy="147.1" r="0.74" fill="#d890b0" opacity="0.51"/><circle cx="93.2" cy="151.6" r="0.62" fill="#e49cb0" opacity="0.53"/><circle cx="113.7" cy="159.4" r="0.49" fill="#d890b0" opacity="0.60"/><circle cx="65.9" cy="156.3" r="0.60" fill="#e088a0" opacity="0.32"/><circle cx="99.9" cy="152.4" r="0.47" fill="#e088a0" opacity="0.58"/><circle cx="56.8" cy="149.0" r="0.69" fill="#d890b0" opacity="0.36"/></g>
<g clip-path="url(#t4)"><rect x="36" y="94" width="85" height="71" filter="url(#nzp)" opacity="0.16"/><rect x="36" y="94" width="85" height="71" filter="url(#nz)" opacity="0.14"/></g>
</g>
<rect x="104.2" y="154.9" width="14.40" height="2.10" rx="0.6" fill="#000" filter="url(#bl3)"/><text x="111.0" y="162.4" font-size="6.0" text-anchor="middle" fill="#3a4458" filter="url(#bl3)">100µm</text>
<g clip-path="url(#c5)">
<rect x="122" y="96" width="85" height="69" fill="#e6e6f4"/>
<path d="M170 90C190 95 204 112 212 136V90Z" fill="#f4f8fc" filter="url(#bl)"/>
<g filter="url(#bl4)"><ellipse cx="143.9" cy="104.1" rx="0.73" ry="0.68" transform="rotate(84 143.9 104.1)" fill="#7e6cb4" opacity="0.76"/><ellipse cx="135.8" cy="132.9" rx="1.02" ry="0.76" transform="rotate(178 135.8 132.9)" fill="#9478bc" opacity="0.66"/><ellipse cx="142.1" cy="103.4" rx="0.82" ry="0.56" transform="rotate(16 142.1 103.4)" fill="#9474c0" opacity="0.63"/><ellipse cx="136.4" cy="153.4" rx="0.98" ry="0.83" transform="rotate(160 136.4 153.4)" fill="#9474c0" opacity="0.76"/><ellipse cx="129.1" cy="135.8" rx="1.01" ry="0.97" transform="rotate(44 129.1 135.8)" fill="#9474c0" opacity="0.83"/><ellipse cx="150.7" cy="151.3" rx="1.65" ry="1.02" transform="rotate(142 150.7 151.3)" fill="#8a70b8" opacity="0.68"/><ellipse cx="124.7" cy="149.8" rx="1.06" ry="0.87" transform="rotate(25 124.7 149.8)" fill="#9478bc" opacity="0.61"/><ellipse cx="138.6" cy="111.7" rx="1.47" ry="1.13" transform="rotate(90 138.6 111.7)" fill="#8a70b8" opacity="0.87"/><ellipse cx="133.3" cy="152.5" rx="1.57" ry="1.03" transform="rotate(106 133.3 152.5)" fill="#a07cb8" opacity="0.88"/><ellipse cx="158.6" cy="152.3" rx="1.44" ry="1.05" transform="rotate(118 158.6 152.3)" fill="#7e6cb4" opacity="0.85"/><ellipse cx="142.2" cy="136.4" rx="1.49" ry="1.04" transform="rotate(128 142.2 136.4)" fill="#9474c0" opacity="0.91"/><ellipse cx="154.9" cy="149.5" rx="1.21" ry="0.97" transform="rotate(16 154.9 149.5)" fill="#7e6cb4" opacity="0.88"/><ellipse cx="172.0" cy="153.0" rx="0.83" ry="0.51" transform="rotate(158 172.0 153.0)" fill="#a07cb8" opacity="0.79"/><ellipse cx="161.9" cy="124.5" rx="0.79" ry="0.65" transform="rotate(152 161.9 124.5)" fill="#9474c0" opacity="0.64"/><ellipse cx="144.8" cy="144.0" rx="1.31" ry="0.91" transform="rotate(7 144.8 144.0)" fill="#9478bc" opacity="0.60"/><ellipse cx="155.1" cy="130.5" rx="1.24" ry="0.81" transform="rotate(29 155.1 130.5)" fill="#9474c0" opacity="0.63"/><ellipse cx="143.1" cy="120.6" rx="1.01" ry="0.93" transform="rotate(136 143.1 120.6)" fill="#9474c0" opacity="0.82"/><ellipse cx="143.3" cy="124.9" rx="0.93" ry="0.76" transform="rotate(119 143.3 124.9)" fill="#7e6cb4" opacity="0.93"/><ellipse cx="152.6" cy="162.4" rx="1.35" ry="1.05" transform="rotate(135 152.6 162.4)" fill="#8a70b8" opacity="0.77"/><ellipse cx="124.9" cy="118.8" rx="1.51" ry="1.10" transform="rotate(104 124.9 118.8)" fill="#7e6cb4" opacity="0.61"/><ellipse cx="125.9" cy="123.3" rx="1.12" ry="0.97" transform="rotate(139 125.9 123.3)" fill="#7e6cb4" opacity="0.80"/><ellipse cx="124.2" cy="133.7" rx="0.91" ry="0.56" transform="rotate(65 124.2 133.7)" fill="#a07cb8" opacity="0.75"/><ellipse cx="163.6" cy="100.2" rx="1.60" ry="1.02" transform="rotate(29 163.6 100.2)" fill="#9478bc" opacity="0.76"/><ellipse cx="126.5" cy="116.9" rx="1.67" ry="1.05" transform="rotate(85 126.5 116.9)" fill="#9478bc" opacity="0.66"/><ellipse cx="156.3" cy="107.7" rx="0.75" ry="0.58" transform="rotate(101 156.3 107.7)" fill="#7e6cb4" opacity="0.85"/><ellipse cx="152.5" cy="158.5" rx="1.03" ry="0.69" transform="rotate(7 152.5 158.5)" fill="#8a70b8" opacity="0.65"/><ellipse cx="142.4" cy="101.7" rx="1.40" ry="0.96" transform="rotate(167 142.4 101.7)" fill="#a07cb8" opacity="0.88"/><ellipse cx="135.9" cy="108.8" rx="1.25" ry="1.01" transform="rotate(169 135.9 108.8)" fill="#8a70b8" opacity="0.86"/><ellipse cx="150.5" cy="101.4" rx="1.14" ry="0.83" transform="rotate(73 150.5 101.4)" fill="#9474c0" opacity="0.82"/><ellipse cx="170.2" cy="115.3" rx="1.41" ry="0.99" transform="rotate(136 170.2 115.3)" fill="#9478bc" opacity="0.61"/><ellipse cx="164.0" cy="157.2" rx="1.14" ry="1.06" transform="rotate(127 164.0 157.2)" fill="#a07cb8" opacity="0.90"/><ellipse cx="127.7" cy="137.4" rx="0.87" ry="0.73" transform="rotate(65 127.7 137.4)" fill="#9478bc" opacity="0.91"/><ellipse cx="124.0" cy="131.7" rx="1.53" ry="1.09" transform="rotate(25 124.0 131.7)" fill="#9478bc" opacity="0.55"/><ellipse cx="145.1" cy="101.0" rx="1.28" ry="0.83" transform="rotate(20 145.1 101.0)" fill="#8a70b8" opacity="0.57"/><ellipse cx="140.9" cy="139.2" rx="1.00" ry="0.74" transform="rotate(148 140.9 139.2)" fill="#9474c0" opacity="0.64"/><ellipse cx="145.7" cy="162.3" rx="1.08" ry="1.06" transform="rotate(91 145.7 162.3)" fill="#9478bc" opacity="0.86"/><ellipse cx="157.6" cy="101.2" rx="1.24" ry="1.00" transform="rotate(172 157.6 101.2)" fill="#9474c0" opacity="0.59"/><ellipse cx="156.4" cy="141.7" rx="0.72" ry="0.60" transform="rotate(178 156.4 141.7)" fill="#7e6cb4" opacity="0.93"/><ellipse cx="128.0" cy="129.0" rx="1.02" ry="0.84" transform="rotate(34 128.0 129.0)" fill="#9474c0" opacity="0.73"/><ellipse cx="155.8" cy="115.9" rx="1.41" ry="0.94" transform="rotate(142 155.8 115.9)" fill="#9474c0" opacity="0.56"/><ellipse cx="151.7" cy="125.0" rx="1.16" ry="0.95" transform="rotate(29 151.7 125.0)" fill="#9474c0" opacity="0.66"/><ellipse cx="125.7" cy="108.7" rx="1.35" ry="1.11" transform="rotate(154 125.7 108.7)" fill="#a07cb8" opacity="0.86"/><ellipse cx="152.6" cy="156.2" rx="0.78" ry="0.60" transform="rotate(148 152.6 156.2)" fill="#7e6cb4" opacity="0.87"/><ellipse cx="132.8" cy="104.3" rx="1.17" ry="0.83" transform="rotate(169 132.8 104.3)" fill="#9478bc" opacity="0.69"/><ellipse cx="138.2" cy="115.6" rx="1.27" ry="0.80" transform="rotate(79 138.2 115.6)" fill="#a07cb8" opacity="0.61"/><ellipse cx="133.6" cy="104.4" rx="1.26" ry="0.82" transform="rotate(141 133.6 104.4)" fill="#8a70b8" opacity="0.55"/><ellipse cx="161.0" cy="99.9" rx="1.08" ry="0.89" transform="rotate(101 161.0 99.9)" fill="#8a70b8" opacity="0.89"/><ellipse cx="160.8" cy="148.5" rx="0.70" ry="0.56" transform="rotate(19 160.8 148.5)" fill="#9478bc" opacity="0.91"/><ellipse cx="160.3" cy="136.2" rx="1.30" ry="0.96" transform="rotate(129 160.3 136.2)" fill="#a07cb8" opacity="0.85"/><ellipse cx="161.4" cy="156.0" rx="0.69" ry="0.67" transform="rotate(43 161.4 156.0)" fill="#a07cb8" opacity="0.79"/><ellipse cx="155.0" cy="149.8" rx="1.38" ry="0.87" transform="rotate(36 155.0 149.8)" fill="#8a70b8" opacity="0.65"/><ellipse cx="122.1" cy="128.3" rx="1.23" ry="1.20" transform="rotate(100 122.1 128.3)" fill="#9478bc" opacity="0.86"/><ellipse cx="161.3" cy="129.1" rx="1.45" ry="0.95" transform="rotate(29 161.3 129.1)" fill="#8a70b8" opacity="0.62"/><ellipse cx="165.0" cy="104.1" rx="1.19" ry="1.17" transform="rotate(117 165.0 104.1)" fill="#8a70b8" opacity="0.58"/><ellipse cx="129.2" cy="134.6" rx="1.14" ry="1.10" transform="rotate(98 129.2 134.6)" fill="#9474c0" opacity="0.58"/><ellipse cx="146.4" cy="123.6" rx="1.30" ry="0.99" transform="rotate(151 146.4 123.6)" fill="#8a70b8" opacity="0.62"/><ellipse cx="139.5" cy="144.4" rx="1.07" ry="1.02" transform="rotate(94 139.5 144.4)" fill="#8a70b8" opacity="0.80"/><ellipse cx="145.0" cy="117.7" rx="1.20" ry="0.81" transform="rotate(1 145.0 117.7)" fill="#9474c0" opacity="0.94"/><ellipse cx="128.3" cy="104.6" rx="1.38" ry="0.84" transform="rotate(166 128.3 104.6)" fill="#9474c0" opacity="0.70"/><ellipse cx="170.3" cy="111.1" rx="1.45" ry="0.94" transform="rotate(129 170.3 111.1)" fill="#8a70b8" opacity="0.92"/><ellipse cx="124.6" cy="142.6" rx="1.21" ry="0.75" transform="rotate(80 124.6 142.6)" fill="#8a70b8" opacity="0.62"/><ellipse cx="151.3" cy="118.7" rx="1.19" ry="0.77" transform="rotate(179 151.3 118.7)" fill="#a07cb8" opacity="0.85"/><ellipse cx="156.6" cy="98.4" rx="1.54" ry="1.03" transform="rotate(43 156.6 98.4)" fill="#7e6cb4" opacity="0.55"/><ellipse cx="150.8" cy="102.3" rx="0.71" ry="0.58" transform="rotate(12 150.8 102.3)" fill="#7e6cb4" opacity="0.72"/><ellipse cx="132.2" cy="127.7" rx="0.87" ry="0.54" transform="rotate(168 132.2 127.7)" fill="#9474c0" opacity="0.65"/><ellipse cx="165.6" cy="149.0" rx="1.39" ry="0.87" transform="rotate(2 165.6 149.0)" fill="#9478bc" opacity="0.66"/><ellipse cx="143.9" cy="145.0" rx="0.76" ry="0.69" transform="rotate(171 143.9 145.0)" fill="#a07cb8" opacity="0.80"/><ellipse cx="145.9" cy="123.2" rx="1.33" ry="1.18" transform="rotate(47 145.9 123.2)" fill="#8a70b8" opacity="0.83"/><ellipse cx="147.5" cy="101.3" rx="0.75" ry="0.55" transform="rotate(130 147.5 101.3)" fill="#7e6cb4" opacity="0.58"/><ellipse cx="143.4" cy="123.5" rx="0.84" ry="0.65" transform="rotate(58 143.4 123.5)" fill="#8a70b8" opacity="0.89"/><ellipse cx="139.3" cy="123.0" rx="0.85" ry="0.59" transform="rotate(50 139.3 123.0)" fill="#9478bc" opacity="0.87"/><ellipse cx="122.8" cy="109.7" rx="0.78" ry="0.67" transform="rotate(8 122.8 109.7)" fill="#9474c0" opacity="0.67"/><ellipse cx="143.3" cy="103.0" rx="0.86" ry="0.55" transform="rotate(23 143.3 103.0)" fill="#7e6cb4" opacity="0.56"/><ellipse cx="133.6" cy="149.8" rx="1.13" ry="0.72" transform="rotate(164 133.6 149.8)" fill="#9474c0" opacity="0.82"/><ellipse cx="135.9" cy="148.0" rx="0.81" ry="0.54" transform="rotate(154 135.9 148.0)" fill="#9478bc" opacity="0.90"/><ellipse cx="142.2" cy="156.8" rx="0.81" ry="0.52" transform="rotate(42 142.2 156.8)" fill="#8a70b8" opacity="0.82"/><ellipse cx="124.5" cy="126.4" rx="0.94" ry="0.88" transform="rotate(86 124.5 126.4)" fill="#a07cb8" opacity="0.59"/><ellipse cx="136.6" cy="112.5" rx="0.80" ry="0.62" transform="rotate(43 136.6 112.5)" fill="#8a70b8" opacity="0.66"/><ellipse cx="150.4" cy="100.8" rx="1.23" ry="0.79" transform="rotate(173 150.4 100.8)" fill="#9478bc" opacity="0.78"/><ellipse cx="136.3" cy="154.9" rx="0.90" ry="0.56" transform="rotate(141 136.3 154.9)" fill="#7e6cb4" opacity="0.74"/><ellipse cx="133.1" cy="151.1" rx="0.76" ry="0.62" transform="rotate(22 133.1 151.1)" fill="#7e6cb4" opacity="0.82"/><ellipse cx="122.9" cy="140.7" rx="0.62" ry="0.61" transform="rotate(117 122.9 140.7)" fill="#a07cb8" opacity="0.82"/><ellipse cx="152.6" cy="123.0" rx="0.93" ry="0.76" transform="rotate(162 152.6 123.0)" fill="#8a70b8" opacity="0.89"/><ellipse cx="137.3" cy="112.2" rx="1.59" ry="1.02" transform="rotate(51 137.3 112.2)" fill="#8a70b8" opacity="0.73"/><ellipse cx="148.4" cy="110.4" rx="0.85" ry="0.52" transform="rotate(42 148.4 110.4)" fill="#9478bc" opacity="0.56"/><ellipse cx="162.1" cy="131.3" rx="1.00" ry="0.88" transform="rotate(150 162.1 131.3)" fill="#9478bc" opacity="0.80"/><ellipse cx="139.0" cy="164.0" rx="0.80" ry="0.72" transform="rotate(74 139.0 164.0)" fill="#7e6cb4" opacity="0.56"/><ellipse cx="142.0" cy="153.1" rx="1.38" ry="1.02" transform="rotate(128 142.0 153.1)" fill="#9474c0" opacity="0.73"/><ellipse cx="133.6" cy="113.1" rx="1.71" ry="1.03" transform="rotate(24 133.6 113.1)" fill="#9478bc" opacity="0.91"/><ellipse cx="149.0" cy="147.5" rx="1.03" ry="0.81" transform="rotate(74 149.0 147.5)" fill="#8a70b8" opacity="0.78"/><ellipse cx="123.5" cy="116.4" rx="1.49" ry="1.12" transform="rotate(153 123.5 116.4)" fill="#9478bc" opacity="0.72"/><ellipse cx="131.8" cy="113.3" rx="1.36" ry="0.83" transform="rotate(35 131.8 113.3)" fill="#7e6cb4" opacity="0.91"/><ellipse cx="128.4" cy="157.1" rx="0.84" ry="0.67" transform="rotate(172 128.4 157.1)" fill="#7e6cb4" opacity="0.81"/><ellipse cx="143.6" cy="152.1" rx="0.72" ry="0.60" transform="rotate(166 143.6 152.1)" fill="#a07cb8" opacity="0.63"/><ellipse cx="159.4" cy="119.8" rx="1.38" ry="1.15" transform="rotate(175 159.4 119.8)" fill="#9478bc" opacity="0.74"/><ellipse cx="133.3" cy="147.1" rx="1.39" ry="0.93" transform="rotate(23 133.3 147.1)" fill="#a07cb8" opacity="0.82"/><ellipse cx="140.7" cy="111.4" rx="0.78" ry="0.56" transform="rotate(116 140.7 111.4)" fill="#9478bc" opacity="0.90"/><ellipse cx="161.4" cy="127.4" rx="1.12" ry="0.88" transform="rotate(32 161.4 127.4)" fill="#7e6cb4" opacity="0.83"/><ellipse cx="162.5" cy="98.2" rx="0.88" ry="0.63" transform="rotate(53 162.5 98.2)" fill="#7e6cb4" opacity="0.60"/><ellipse cx="127.4" cy="127.5" rx="1.11" ry="1.10" transform="rotate(96 127.4 127.5)" fill="#8a70b8" opacity="0.63"/><ellipse cx="122.4" cy="108.6" rx="0.82" ry="0.52" transform="rotate(141 122.4 108.6)" fill="#9478bc" opacity="0.62"/><ellipse cx="141.9" cy="98.6" rx="0.75" ry="0.62" transform="rotate(94 141.9 98.6)" fill="#9478bc" opacity="0.61"/><ellipse cx="148.9" cy="125.0" rx="0.85" ry="0.73" transform="rotate(48 148.9 125.0)" fill="#8a70b8" opacity="0.92"/><ellipse cx="127.3" cy="100.5" rx="0.82" ry="0.63" transform="rotate(34 127.3 100.5)" fill="#7e6cb4" opacity="0.69"/><ellipse cx="134.9" cy="143.4" rx="1.10" ry="1.05" transform="rotate(85 134.9 143.4)" fill="#9478bc" opacity="0.67"/><ellipse cx="127.5" cy="107.2" rx="0.98" ry="0.86" transform="rotate(17 127.5 107.2)" fill="#a07cb8" opacity="0.87"/><ellipse cx="138.2" cy="136.0" rx="1.22" ry="0.92" transform="rotate(94 138.2 136.0)" fill="#9478bc" opacity="0.85"/><ellipse cx="149.9" cy="100.8" rx="0.77" ry="0.55" transform="rotate(124 149.9 100.8)" fill="#9474c0" opacity="0.67"/><ellipse cx="148.1" cy="141.4" rx="0.80" ry="0.66" transform="rotate(127 148.1 141.4)" fill="#9478bc" opacity="0.74"/><ellipse cx="155.3" cy="132.0" rx="1.13" ry="1.09" transform="rotate(92 155.3 132.0)" fill="#7e6cb4" opacity="0.59"/><ellipse cx="134.7" cy="159.4" rx="1.18" ry="0.79" transform="rotate(129 134.7 159.4)" fill="#9478bc" opacity="0.68"/><ellipse cx="148.1" cy="102.0" rx="1.11" ry="0.96" transform="rotate(120 148.1 102.0)" fill="#a07cb8" opacity="0.74"/><ellipse cx="140.6" cy="118.3" rx="1.39" ry="0.93" transform="rotate(130 140.6 118.3)" fill="#7e6cb4" opacity="0.76"/><ellipse cx="148.4" cy="100.4" rx="0.88" ry="0.57" transform="rotate(170 148.4 100.4)" fill="#7e6cb4" opacity="0.60"/><ellipse cx="168.8" cy="101.2" rx="0.79" ry="0.55" transform="rotate(61 168.8 101.2)" fill="#8a70b8" opacity="0.89"/><ellipse cx="165.7" cy="106.7" rx="1.45" ry="0.91" transform="rotate(121 165.7 106.7)" fill="#8a70b8" opacity="0.56"/><ellipse cx="142.1" cy="122.9" rx="1.16" ry="1.01" transform="rotate(175 142.1 122.9)" fill="#7e6cb4" opacity="0.60"/><ellipse cx="131.8" cy="114.4" rx="1.63" ry="1.00" transform="rotate(109 131.8 114.4)" fill="#a07cb8" opacity="0.74"/><ellipse cx="146.3" cy="128.2" rx="1.47" ry="0.92" transform="rotate(88 146.3 128.2)" fill="#9478bc" opacity="0.85"/><ellipse cx="124.3" cy="131.4" rx="1.12" ry="1.02" transform="rotate(134 124.3 131.4)" fill="#9474c0" opacity="0.68"/><ellipse cx="150.7" cy="109.6" rx="1.14" ry="1.13" transform="rotate(137 150.7 109.6)" fill="#9478bc" opacity="0.78"/><ellipse cx="172.9" cy="157.3" rx="0.90" ry="0.77" transform="rotate(66 172.9 157.3)" fill="#7e6cb4" opacity="0.88"/><ellipse cx="153.5" cy="120.6" rx="0.85" ry="0.60" transform="rotate(136 153.5 120.6)" fill="#9478bc" opacity="0.56"/><ellipse cx="134.6" cy="117.6" rx="0.86" ry="0.79" transform="rotate(97 134.6 117.6)" fill="#a07cb8" opacity="0.89"/><ellipse cx="150.3" cy="152.0" rx="1.21" ry="1.12" transform="rotate(169 150.3 152.0)" fill="#7e6cb4" opacity="0.90"/><ellipse cx="126.0" cy="155.3" rx="1.06" ry="0.82" transform="rotate(135 126.0 155.3)" fill="#7e6cb4" opacity="0.74"/><ellipse cx="127.4" cy="104.9" rx="1.22" ry="1.17" transform="rotate(12 127.4 104.9)" fill="#8a70b8" opacity="0.64"/><ellipse cx="155.8" cy="150.8" rx="1.09" ry="0.69" transform="rotate(132 155.8 150.8)" fill="#9474c0" opacity="0.74"/><ellipse cx="148.2" cy="155.6" rx="0.91" ry="0.57" transform="rotate(12 148.2 155.6)" fill="#9474c0" opacity="0.95"/><ellipse cx="159.5" cy="97.8" rx="0.86" ry="0.70" transform="rotate(173 159.5 97.8)" fill="#9478bc" opacity="0.69"/><ellipse cx="124.9" cy="136.6" rx="1.14" ry="1.03" transform="rotate(52 124.9 136.6)" fill="#a07cb8" opacity="0.95"/><ellipse cx="152.8" cy="160.1" rx="0.76" ry="0.68" transform="rotate(54 152.8 160.1)" fill="#8a70b8" opacity="0.92"/><ellipse cx="149.6" cy="146.1" rx="1.29" ry="0.82" transform="rotate(109 149.6 146.1)" fill="#9474c0" opacity="0.55"/><ellipse cx="153.8" cy="152.7" rx="0.86" ry="0.64" transform="rotate(137 153.8 152.7)" fill="#8a70b8" opacity="0.91"/><ellipse cx="139.4" cy="98.6" rx="1.63" ry="1.01" transform="rotate(101 139.4 98.6)" fill="#9478bc" opacity="0.75"/><ellipse cx="134.1" cy="139.3" rx="1.09" ry="0.79" transform="rotate(42 134.1 139.3)" fill="#9474c0" opacity="0.83"/><ellipse cx="140.2" cy="139.1" rx="1.18" ry="1.07" transform="rotate(141 140.2 139.1)" fill="#7e6cb4" opacity="0.91"/><ellipse cx="167.2" cy="112.5" rx="0.81" ry="0.72" transform="rotate(105 167.2 112.5)" fill="#9478bc" opacity="0.91"/><ellipse cx="127.8" cy="150.4" rx="0.75" ry="0.66" transform="rotate(98 127.8 150.4)" fill="#a07cb8" opacity="0.62"/><ellipse cx="156.3" cy="145.4" rx="0.88" ry="0.69" transform="rotate(56 156.3 145.4)" fill="#a07cb8" opacity="0.69"/><ellipse cx="157.1" cy="153.3" rx="1.17" ry="0.90" transform="rotate(36 157.1 153.3)" fill="#a07cb8" opacity="0.93"/><ellipse cx="128.2" cy="144.0" rx="0.98" ry="0.81" transform="rotate(127 128.2 144.0)" fill="#7e6cb4" opacity="0.84"/><ellipse cx="155.5" cy="118.9" rx="0.86" ry="0.69" transform="rotate(33 155.5 118.9)" fill="#9478bc" opacity="0.77"/><ellipse cx="131.7" cy="157.1" rx="0.73" ry="0.57" transform="rotate(49 131.7 157.1)" fill="#7e6cb4" opacity="0.87"/><ellipse cx="165.8" cy="98.3" rx="1.33" ry="1.02" transform="rotate(60 165.8 98.3)" fill="#7e6cb4" opacity="0.81"/><ellipse cx="154.5" cy="137.8" rx="0.79" ry="0.76" transform="rotate(146 154.5 137.8)" fill="#7e6cb4" opacity="0.87"/><ellipse cx="146.2" cy="130.2" rx="0.87" ry="0.84" transform="rotate(145 146.2 130.2)" fill="#8a70b8" opacity="0.63"/><ellipse cx="134.3" cy="112.3" rx="0.94" ry="0.70" transform="rotate(166 134.3 112.3)" fill="#8a70b8" opacity="0.93"/><ellipse cx="129.5" cy="159.0" rx="0.84" ry="0.68" transform="rotate(17 129.5 159.0)" fill="#a07cb8" opacity="0.89"/><ellipse cx="126.7" cy="105.3" rx="1.13" ry="1.03" transform="rotate(33 126.7 105.3)" fill="#9478bc" opacity="0.59"/><ellipse cx="173.2" cy="142.1" rx="0.97" ry="0.77" transform="rotate(80 173.2 142.1)" fill="#a07cb8" opacity="0.68"/><ellipse cx="162.6" cy="98.6" rx="1.26" ry="1.15" transform="rotate(63 162.6 98.6)" fill="#9478bc" opacity="0.62"/><ellipse cx="155.3" cy="160.2" rx="1.43" ry="1.09" transform="rotate(124 155.3 160.2)" fill="#9474c0" opacity="0.76"/><ellipse cx="135.2" cy="140.3" rx="1.61" ry="1.04" transform="rotate(65 135.2 140.3)" fill="#9474c0" opacity="0.93"/><ellipse cx="170.2" cy="133.6" rx="1.54" ry="1.00" transform="rotate(8 170.2 133.6)" fill="#8a70b8" opacity="0.75"/><ellipse cx="158.0" cy="102.5" rx="1.09" ry="0.68" transform="rotate(16 158.0 102.5)" fill="#9474c0" opacity="0.72"/><ellipse cx="131.5" cy="155.4" rx="1.26" ry="0.99" transform="rotate(66 131.5 155.4)" fill="#7e6cb4" opacity="0.58"/><ellipse cx="125.0" cy="152.9" rx="0.74" ry="0.60" transform="rotate(166 125.0 152.9)" fill="#7e6cb4" opacity="0.66"/><ellipse cx="170.0" cy="151.2" rx="1.24" ry="0.76" transform="rotate(85 170.0 151.2)" fill="#7e6cb4" opacity="0.71"/><ellipse cx="132.0" cy="147.2" rx="1.40" ry="0.90" transform="rotate(133 132.0 147.2)" fill="#8a70b8" opacity="0.79"/><ellipse cx="159.4" cy="98.7" rx="1.38" ry="1.00" transform="rotate(158 159.4 98.7)" fill="#8a70b8" opacity="0.64"/><ellipse cx="128.8" cy="116.5" rx="1.30" ry="0.87" transform="rotate(116 128.8 116.5)" fill="#9478bc" opacity="0.81"/><ellipse cx="127.1" cy="107.8" rx="0.97" ry="0.72" transform="rotate(154 127.1 107.8)" fill="#8a70b8" opacity="0.80"/><ellipse cx="159.3" cy="103.6" rx="1.23" ry="1.07" transform="rotate(83 159.3 103.6)" fill="#8a70b8" opacity="0.85"/><ellipse cx="135.5" cy="142.8" rx="1.17" ry="0.74" transform="rotate(85 135.5 142.8)" fill="#9478bc" opacity="0.92"/><ellipse cx="163.8" cy="162.3" rx="1.14" ry="0.70" transform="rotate(177 163.8 162.3)" fill="#8a70b8" opacity="0.70"/><ellipse cx="133.8" cy="136.0" rx="1.11" ry="0.74" transform="rotate(57 133.8 136.0)" fill="#9474c0" opacity="0.62"/><ellipse cx="160.5" cy="161.1" rx="1.15" ry="0.72" transform="rotate(36 160.5 161.1)" fill="#7e6cb4" opacity="0.74"/><ellipse cx="137.8" cy="109.8" rx="1.07" ry="1.06" transform="rotate(100 137.8 109.8)" fill="#9474c0" opacity="0.58"/><ellipse cx="139.3" cy="131.0" rx="1.57" ry="0.98" transform="rotate(179 139.3 131.0)" fill="#8a70b8" opacity="0.82"/><ellipse cx="126.1" cy="125.6" rx="0.97" ry="0.73" transform="rotate(63 126.1 125.6)" fill="#9474c0" opacity="0.83"/><ellipse cx="170.1" cy="163.2" rx="0.83" ry="0.71" transform="rotate(158 170.1 163.2)" fill="#9478bc" opacity="0.92"/><ellipse cx="165.3" cy="118.7" rx="1.15" ry="0.75" transform="rotate(177 165.3 118.7)" fill="#8a70b8" opacity="0.58"/><ellipse cx="131.3" cy="147.0" rx="0.70" ry="0.69" transform="rotate(5 131.3 147.0)" fill="#7e6cb4" opacity="0.90"/><ellipse cx="126.6" cy="125.6" rx="1.04" ry="0.77" transform="rotate(65 126.6 125.6)" fill="#7e6cb4" opacity="0.84"/><ellipse cx="135.3" cy="107.0" rx="1.37" ry="1.01" transform="rotate(17 135.3 107.0)" fill="#9478bc" opacity="0.67"/><ellipse cx="163.7" cy="128.0" rx="1.17" ry="1.03" transform="rotate(136 163.7 128.0)" fill="#9478bc" opacity="0.72"/><ellipse cx="142.3" cy="152.2" rx="0.77" ry="0.61" transform="rotate(86 142.3 152.2)" fill="#a07cb8" opacity="0.79"/><ellipse cx="125.5" cy="162.4" rx="0.64" ry="0.63" transform="rotate(167 125.5 162.4)" fill="#9474c0" opacity="0.65"/><ellipse cx="138.7" cy="114.4" rx="1.28" ry="1.01" transform="rotate(56 138.7 114.4)" fill="#7e6cb4" opacity="0.81"/><ellipse cx="135.0" cy="117.5" rx="1.27" ry="1.15" transform="rotate(8 135.0 117.5)" fill="#9474c0" opacity="0.72"/><ellipse cx="132.3" cy="153.8" rx="0.71" ry="0.70" transform="rotate(9 132.3 153.8)" fill="#8a70b8" opacity="0.66"/><ellipse cx="156.0" cy="112.3" rx="1.05" ry="0.66" transform="rotate(1 156.0 112.3)" fill="#a07cb8" opacity="0.59"/><ellipse cx="140.7" cy="123.7" rx="0.75" ry="0.62" transform="rotate(48 140.7 123.7)" fill="#7e6cb4" opacity="0.95"/><ellipse cx="127.9" cy="133.4" rx="1.52" ry="1.06" transform="rotate(46 127.9 133.4)" fill="#8a70b8" opacity="0.70"/><ellipse cx="130.3" cy="159.0" rx="1.18" ry="0.77" transform="rotate(85 130.3 159.0)" fill="#8a70b8" opacity="0.92"/><ellipse cx="133.9" cy="129.4" rx="1.45" ry="0.89" transform="rotate(8 133.9 129.4)" fill="#9478bc" opacity="0.78"/><ellipse cx="149.1" cy="100.6" rx="1.43" ry="0.93" transform="rotate(73 149.1 100.6)" fill="#7e6cb4" opacity="0.62"/><ellipse cx="137.1" cy="105.8" rx="0.93" ry="0.85" transform="rotate(157 137.1 105.8)" fill="#9478bc" opacity="0.80"/><ellipse cx="125.6" cy="120.7" rx="1.62" ry="1.09" transform="rotate(101 125.6 120.7)" fill="#7e6cb4" opacity="0.89"/><ellipse cx="148.1" cy="110.7" rx="0.84" ry="0.61" transform="rotate(40 148.1 110.7)" fill="#7e6cb4" opacity="0.75"/><ellipse cx="145.3" cy="130.7" rx="1.06" ry="0.79" transform="rotate(50 145.3 130.7)" fill="#9474c0" opacity="0.62"/><ellipse cx="165.5" cy="113.7" rx="1.04" ry="0.88" transform="rotate(149 165.5 113.7)" fill="#a07cb8" opacity="0.77"/><ellipse cx="124.7" cy="114.2" rx="1.34" ry="0.92" transform="rotate(82 124.7 114.2)" fill="#a07cb8" opacity="0.89"/><ellipse cx="129.2" cy="121.1" rx="1.44" ry="1.01" transform="rotate(114 129.2 121.1)" fill="#a07cb8" opacity="0.81"/><ellipse cx="152.3" cy="99.2" rx="1.03" ry="0.90" transform="rotate(61 152.3 99.2)" fill="#7e6cb4" opacity="0.87"/><ellipse cx="131.1" cy="150.3" rx="1.25" ry="0.79" transform="rotate(8 131.1 150.3)" fill="#7e6cb4" opacity="0.63"/><ellipse cx="133.0" cy="119.7" rx="1.38" ry="1.15" transform="rotate(175 133.0 119.7)" fill="#7e6cb4" opacity="0.72"/><ellipse cx="137.4" cy="107.6" rx="1.61" ry="1.04" transform="rotate(160 137.4 107.6)" fill="#9478bc" opacity="0.68"/><ellipse cx="157.9" cy="109.9" rx="0.94" ry="0.80" transform="rotate(92 157.9 109.9)" fill="#8a70b8" opacity="0.59"/><ellipse cx="154.9" cy="109.5" rx="1.22" ry="1.01" transform="rotate(122 154.9 109.5)" fill="#8a70b8" opacity="0.85"/><ellipse cx="138.8" cy="154.3" rx="1.02" ry="0.65" transform="rotate(22 138.8 154.3)" fill="#9474c0" opacity="0.86"/><ellipse cx="170.0" cy="131.6" rx="0.71" ry="0.63" transform="rotate(56 170.0 131.6)" fill="#a07cb8" opacity="0.60"/><ellipse cx="157.0" cy="121.3" rx="0.91" ry="0.58" transform="rotate(44 157.0 121.3)" fill="#a07cb8" opacity="0.65"/><ellipse cx="126.6" cy="122.5" rx="1.23" ry="0.91" transform="rotate(70 126.6 122.5)" fill="#9474c0" opacity="0.89"/><ellipse cx="129.6" cy="127.9" rx="0.65" ry="0.58" transform="rotate(1 129.6 127.9)" fill="#8a70b8" opacity="0.91"/><ellipse cx="156.5" cy="127.5" rx="0.88" ry="0.80" transform="rotate(92 156.5 127.5)" fill="#7e6cb4" opacity="0.94"/><ellipse cx="163.5" cy="121.9" rx="0.83" ry="0.69" transform="rotate(111 163.5 121.9)" fill="#a07cb8" opacity="0.69"/><ellipse cx="149.6" cy="153.6" rx="0.87" ry="0.87" transform="rotate(180 149.6 153.6)" fill="#7e6cb4" opacity="0.64"/><ellipse cx="138.6" cy="132.6" rx="0.91" ry="0.71" transform="rotate(150 138.6 132.6)" fill="#9478bc" opacity="0.87"/><ellipse cx="153.5" cy="146.1" rx="0.94" ry="0.66" transform="rotate(89 153.5 146.1)" fill="#7e6cb4" opacity="0.82"/><ellipse cx="161.7" cy="110.2" rx="1.28" ry="0.91" transform="rotate(25 161.7 110.2)" fill="#9478bc" opacity="0.65"/><ellipse cx="148.4" cy="133.9" rx="1.01" ry="0.87" transform="rotate(54 148.4 133.9)" fill="#9474c0" opacity="0.59"/><ellipse cx="138.9" cy="162.2" rx="1.57" ry="1.06" transform="rotate(58 138.9 162.2)" fill="#9478bc" opacity="0.82"/><ellipse cx="132.6" cy="154.1" rx="1.21" ry="0.85" transform="rotate(19 132.6 154.1)" fill="#9478bc" opacity="0.88"/><ellipse cx="173.4" cy="99.2" rx="1.65" ry="1.06" transform="rotate(32 173.4 99.2)" fill="#9478bc" opacity="0.66"/><ellipse cx="139.1" cy="157.2" rx="0.84" ry="0.53" transform="rotate(4 139.1 157.2)" fill="#7e6cb4" opacity="0.70"/><ellipse cx="129.3" cy="110.7" rx="0.99" ry="0.99" transform="rotate(11 129.3 110.7)" fill="#7e6cb4" opacity="0.77"/><ellipse cx="146.1" cy="117.6" rx="1.38" ry="0.89" transform="rotate(26 146.1 117.6)" fill="#a07cb8" opacity="0.79"/><ellipse cx="160.3" cy="110.2" rx="1.00" ry="0.69" transform="rotate(71 160.3 110.2)" fill="#9474c0" opacity="0.65"/><ellipse cx="140.8" cy="111.6" rx="1.00" ry="0.77" transform="rotate(112 140.8 111.6)" fill="#9474c0" opacity="0.69"/><ellipse cx="155.7" cy="107.7" rx="1.56" ry="1.04" transform="rotate(77 155.7 107.7)" fill="#a07cb8" opacity="0.61"/><ellipse cx="137.5" cy="162.0" rx="1.61" ry="1.06" transform="rotate(17 137.5 162.0)" fill="#9478bc" opacity="0.69"/><ellipse cx="145.2" cy="139.6" rx="0.95" ry="0.80" transform="rotate(145 145.2 139.6)" fill="#9474c0" opacity="0.89"/><ellipse cx="133.6" cy="134.0" rx="1.59" ry="1.02" transform="rotate(142 133.6 134.0)" fill="#9478bc" opacity="0.67"/><ellipse cx="130.5" cy="124.6" rx="0.82" ry="0.64" transform="rotate(50 130.5 124.6)" fill="#9478bc" opacity="0.81"/><ellipse cx="130.4" cy="145.4" rx="0.83" ry="0.65" transform="rotate(91 130.4 145.4)" fill="#9474c0" opacity="0.77"/><ellipse cx="125.2" cy="148.4" rx="1.32" ry="0.80" transform="rotate(113 125.2 148.4)" fill="#9478bc" opacity="0.89"/><ellipse cx="151.1" cy="104.0" rx="1.31" ry="1.20" transform="rotate(99 151.1 104.0)" fill="#9478bc" opacity="0.83"/><ellipse cx="142.9" cy="102.6" rx="0.66" ry="0.66" transform="rotate(165 142.9 102.6)" fill="#a07cb8" opacity="0.62"/><ellipse cx="140.7" cy="113.3" rx="0.91" ry="0.85" transform="rotate(135 140.7 113.3)" fill="#9478bc" opacity="0.90"/><ellipse cx="160.0" cy="129.9" rx="0.97" ry="0.65" transform="rotate(74 160.0 129.9)" fill="#7e6cb4" opacity="0.56"/><ellipse cx="128.1" cy="160.5" rx="1.07" ry="0.81" transform="rotate(136 128.1 160.5)" fill="#a07cb8" opacity="0.78"/><ellipse cx="145.1" cy="152.5" rx="1.39" ry="1.02" transform="rotate(83 145.1 152.5)" fill="#9478bc" opacity="0.81"/><ellipse cx="153.0" cy="156.0" rx="0.81" ry="0.53" transform="rotate(85 153.0 156.0)" fill="#a07cb8" opacity="0.80"/><ellipse cx="133.0" cy="117.1" rx="1.24" ry="1.00" transform="rotate(0 133.0 117.1)" fill="#9478bc" opacity="0.61"/><ellipse cx="146.9" cy="122.6" rx="0.99" ry="0.91" transform="rotate(121 146.9 122.6)" fill="#9478bc" opacity="0.68"/><ellipse cx="146.1" cy="150.0" rx="1.23" ry="0.84" transform="rotate(12 146.1 150.0)" fill="#9478bc" opacity="0.60"/><ellipse cx="155.2" cy="130.6" rx="0.81" ry="0.62" transform="rotate(80 155.2 130.6)" fill="#9474c0" opacity="0.74"/><ellipse cx="131.0" cy="159.0" rx="0.97" ry="0.63" transform="rotate(71 131.0 159.0)" fill="#a07cb8" opacity="0.81"/><ellipse cx="125.5" cy="127.1" rx="0.91" ry="0.66" transform="rotate(65 125.5 127.1)" fill="#a07cb8" opacity="0.71"/><ellipse cx="144.9" cy="153.1" rx="0.72" ry="0.56" transform="rotate(165 144.9 153.1)" fill="#8a70b8" opacity="0.56"/><ellipse cx="147.4" cy="136.3" rx="0.77" ry="0.58" transform="rotate(147 147.4 136.3)" fill="#8a70b8" opacity="0.71"/><ellipse cx="129.5" cy="98.8" rx="1.26" ry="0.91" transform="rotate(13 129.5 98.8)" fill="#8a70b8" opacity="0.77"/><ellipse cx="146.3" cy="161.9" rx="1.00" ry="0.97" transform="rotate(134 146.3 161.9)" fill="#7e6cb4" opacity="0.89"/><ellipse cx="130.2" cy="160.3" rx="1.01" ry="0.98" transform="rotate(125 130.2 160.3)" fill="#8a70b8" opacity="0.59"/><ellipse cx="163.7" cy="109.5" rx="0.96" ry="0.71" transform="rotate(115 163.7 109.5)" fill="#9474c0" opacity="0.68"/><ellipse cx="164.8" cy="103.3" rx="0.99" ry="0.75" transform="rotate(91 164.8 103.3)" fill="#7e6cb4" opacity="0.60"/><ellipse cx="143.6" cy="151.6" rx="0.97" ry="0.64" transform="rotate(100 143.6 151.6)" fill="#9474c0" opacity="0.81"/><ellipse cx="128.7" cy="154.8" rx="0.89" ry="0.71" transform="rotate(31 128.7 154.8)" fill="#9474c0" opacity="0.92"/><ellipse cx="137.5" cy="140.0" rx="1.01" ry="0.81" transform="rotate(123 137.5 140.0)" fill="#9478bc" opacity="0.93"/><ellipse cx="138.4" cy="141.7" rx="1.52" ry="1.11" transform="rotate(93 138.4 141.7)" fill="#7e6cb4" opacity="0.71"/><ellipse cx="137.8" cy="160.6" rx="1.48" ry="0.96" transform="rotate(43 137.8 160.6)" fill="#9474c0" opacity="0.74"/><ellipse cx="152.9" cy="150.5" rx="1.22" ry="1.11" transform="rotate(102 152.9 150.5)" fill="#9478bc" opacity="0.62"/><ellipse cx="139.8" cy="119.5" rx="0.94" ry="0.61" transform="rotate(59 139.8 119.5)" fill="#9474c0" opacity="0.64"/><ellipse cx="155.2" cy="97.8" rx="1.06" ry="0.76" transform="rotate(142 155.2 97.8)" fill="#8a70b8" opacity="0.73"/><ellipse cx="129.9" cy="160.3" rx="0.97" ry="0.67" transform="rotate(105 129.9 160.3)" fill="#9474c0" opacity="0.59"/><ellipse cx="164.3" cy="113.5" rx="1.25" ry="1.22" transform="rotate(152 164.3 113.5)" fill="#7e6cb4" opacity="0.78"/><ellipse cx="134.3" cy="123.7" rx="0.97" ry="0.87" transform="rotate(127 134.3 123.7)" fill="#7e6cb4" opacity="0.71"/><ellipse cx="172.3" cy="158.8" rx="1.16" ry="0.88" transform="rotate(91 172.3 158.8)" fill="#7e6cb4" opacity="0.57"/><ellipse cx="125.2" cy="114.0" rx="1.67" ry="1.03" transform="rotate(140 125.2 114.0)" fill="#7e6cb4" opacity="0.82"/><ellipse cx="159.4" cy="127.9" rx="0.86" ry="0.78" transform="rotate(20 159.4 127.9)" fill="#8a70b8" opacity="0.83"/><ellipse cx="139.6" cy="111.0" rx="0.85" ry="0.67" transform="rotate(143 139.6 111.0)" fill="#7e6cb4" opacity="0.95"/><ellipse cx="175.1" cy="108.6" rx="0.72" ry="0.71" transform="rotate(159 175.1 108.6)" fill="#8a70b8" opacity="0.58"/><ellipse cx="141.5" cy="106.3" rx="1.04" ry="0.79" transform="rotate(71 141.5 106.3)" fill="#7e6cb4" opacity="0.67"/><ellipse cx="150.2" cy="97.8" rx="0.76" ry="0.58" transform="rotate(89 150.2 97.8)" fill="#a07cb8" opacity="0.89"/><ellipse cx="153.4" cy="103.6" rx="0.94" ry="0.75" transform="rotate(173 153.4 103.6)" fill="#a07cb8" opacity="0.80"/><ellipse cx="130.2" cy="141.1" rx="0.92" ry="0.86" transform="rotate(108 130.2 141.1)" fill="#9474c0" opacity="0.79"/><ellipse cx="125.8" cy="155.9" rx="1.06" ry="0.67" transform="rotate(45 125.8 155.9)" fill="#8a70b8" opacity="0.88"/><ellipse cx="167.6" cy="159.2" rx="1.51" ry="1.06" transform="rotate(77 167.6 159.2)" fill="#9474c0" opacity="0.87"/><ellipse cx="134.3" cy="146.2" rx="1.64" ry="1.01" transform="rotate(3 134.3 146.2)" fill="#8a70b8" opacity="0.83"/><ellipse cx="148.9" cy="155.7" rx="1.19" ry="1.08" transform="rotate(47 148.9 155.7)" fill="#8a70b8" opacity="0.91"/><ellipse cx="158.9" cy="156.4" rx="0.86" ry="0.63" transform="rotate(139 158.9 156.4)" fill="#a07cb8" opacity="0.62"/><ellipse cx="144.7" cy="130.0" rx="0.86" ry="0.64" transform="rotate(167 144.7 130.0)" fill="#8a70b8" opacity="0.71"/><ellipse cx="127.4" cy="119.1" rx="0.70" ry="0.68" transform="rotate(158 127.4 119.1)" fill="#7e6cb4" opacity="0.77"/><ellipse cx="147.8" cy="157.5" rx="1.56" ry="1.04" transform="rotate(139 147.8 157.5)" fill="#7e6cb4" opacity="0.59"/><ellipse cx="175.2" cy="152.8" rx="0.92" ry="0.77" transform="rotate(123 175.2 152.8)" fill="#9478bc" opacity="0.92"/><ellipse cx="145.2" cy="113.9" rx="0.75" ry="0.66" transform="rotate(126 145.2 113.9)" fill="#7e6cb4" opacity="0.91"/><ellipse cx="145.7" cy="148.7" rx="1.17" ry="1.11" transform="rotate(72 145.7 148.7)" fill="#9478bc" opacity="0.73"/><ellipse cx="137.1" cy="110.9" rx="0.66" ry="0.58" transform="rotate(119 137.1 110.9)" fill="#a07cb8" opacity="0.58"/><ellipse cx="124.6" cy="119.8" rx="1.35" ry="1.01" transform="rotate(126 124.6 119.8)" fill="#7e6cb4" opacity="0.86"/><ellipse cx="132.7" cy="122.8" rx="0.89" ry="0.74" transform="rotate(51 132.7 122.8)" fill="#8a70b8" opacity="0.64"/><ellipse cx="153.9" cy="158.7" rx="1.04" ry="0.82" transform="rotate(89 153.9 158.7)" fill="#9474c0" opacity="0.73"/><ellipse cx="155.2" cy="112.5" rx="1.42" ry="0.86" transform="rotate(87 155.2 112.5)" fill="#9474c0" opacity="0.72"/><ellipse cx="154.1" cy="153.2" rx="1.09" ry="0.74" transform="rotate(15 154.1 153.2)" fill="#8a70b8" opacity="0.77"/><ellipse cx="155.0" cy="107.5" rx="0.81" ry="0.63" transform="rotate(164 155.0 107.5)" fill="#7e6cb4" opacity="0.73"/><ellipse cx="156.7" cy="163.4" rx="1.53" ry="1.00" transform="rotate(38 156.7 163.4)" fill="#a07cb8" opacity="0.70"/><ellipse cx="138.5" cy="150.6" rx="0.71" ry="0.63" transform="rotate(67 138.5 150.6)" fill="#9478bc" opacity="0.67"/><ellipse cx="158.4" cy="123.1" rx="0.94" ry="0.74" transform="rotate(177 158.4 123.1)" fill="#8a70b8" opacity="0.78"/><ellipse cx="156.7" cy="120.5" rx="0.99" ry="0.60" transform="rotate(59 156.7 120.5)" fill="#9474c0" opacity="0.75"/><ellipse cx="154.4" cy="164.0" rx="0.68" ry="0.60" transform="rotate(10 154.4 164.0)" fill="#a07cb8" opacity="0.78"/><ellipse cx="135.4" cy="120.2" rx="1.32" ry="1.11" transform="rotate(162 135.4 120.2)" fill="#9478bc" opacity="0.75"/><ellipse cx="156.4" cy="102.1" rx="0.82" ry="0.66" transform="rotate(165 156.4 102.1)" fill="#9478bc" opacity="0.83"/><ellipse cx="125.7" cy="129.6" rx="1.50" ry="0.91" transform="rotate(48 125.7 129.6)" fill="#7e6cb4" opacity="0.70"/><ellipse cx="161.3" cy="107.7" rx="1.28" ry="1.18" transform="rotate(129 161.3 107.7)" fill="#7e6cb4" opacity="0.85"/><ellipse cx="147.5" cy="121.3" rx="0.87" ry="0.70" transform="rotate(112 147.5 121.3)" fill="#8a70b8" opacity="0.77"/><ellipse cx="148.8" cy="97.6" rx="0.96" ry="0.84" transform="rotate(127 148.8 97.6)" fill="#7e6cb4" opacity="0.67"/><ellipse cx="147.1" cy="145.4" rx="1.40" ry="0.97" transform="rotate(166 147.1 145.4)" fill="#9474c0" opacity="0.69"/><ellipse cx="129.0" cy="155.0" rx="1.26" ry="1.01" transform="rotate(139 129.0 155.0)" fill="#9474c0" opacity="0.77"/><ellipse cx="148.5" cy="111.0" rx="0.97" ry="0.95" transform="rotate(139 148.5 111.0)" fill="#9478bc" opacity="0.75"/><ellipse cx="140.3" cy="128.6" rx="0.90" ry="0.71" transform="rotate(132 140.3 128.6)" fill="#9478bc" opacity="0.80"/><ellipse cx="148.1" cy="120.0" rx="0.88" ry="0.80" transform="rotate(132 148.1 120.0)" fill="#9478bc" opacity="0.78"/><ellipse cx="131.8" cy="147.3" rx="0.77" ry="0.61" transform="rotate(116 131.8 147.3)" fill="#7e6cb4" opacity="0.85"/><ellipse cx="160.2" cy="156.8" rx="1.32" ry="0.93" transform="rotate(175 160.2 156.8)" fill="#9474c0" opacity="0.69"/><ellipse cx="150.7" cy="145.9" rx="0.87" ry="0.74" transform="rotate(38 150.7 145.9)" fill="#9474c0" opacity="0.91"/><ellipse cx="131.8" cy="121.6" rx="0.98" ry="0.61" transform="rotate(90 131.8 121.6)" fill="#7e6cb4" opacity="0.58"/><ellipse cx="152.8" cy="131.7" rx="0.83" ry="0.55" transform="rotate(101 152.8 131.7)" fill="#a07cb8" opacity="0.92"/><ellipse cx="161.9" cy="119.1" rx="1.29" ry="1.12" transform="rotate(45 161.9 119.1)" fill="#9474c0" opacity="0.83"/><ellipse cx="142.7" cy="110.2" rx="0.82" ry="0.63" transform="rotate(120 142.7 110.2)" fill="#a07cb8" opacity="0.69"/><ellipse cx="138.2" cy="139.0" rx="1.41" ry="1.16" transform="rotate(15 138.2 139.0)" fill="#9478bc" opacity="0.57"/><ellipse cx="151.3" cy="129.5" rx="1.25" ry="1.14" transform="rotate(68 151.3 129.5)" fill="#8a70b8" opacity="0.76"/><ellipse cx="147.5" cy="136.0" rx="0.76" ry="0.60" transform="rotate(172 147.5 136.0)" fill="#a07cb8" opacity="0.69"/><ellipse cx="150.9" cy="161.7" rx="1.01" ry="0.62" transform="rotate(124 150.9 161.7)" fill="#9474c0" opacity="0.75"/><ellipse cx="160.7" cy="161.7" rx="1.14" ry="1.08" transform="rotate(141 160.7 161.7)" fill="#7e6cb4" opacity="0.93"/><ellipse cx="156.5" cy="147.3" rx="1.43" ry="1.11" transform="rotate(49 156.5 147.3)" fill="#a07cb8" opacity="0.87"/><ellipse cx="150.8" cy="151.6" rx="0.97" ry="0.62" transform="rotate(122 150.8 151.6)" fill="#9478bc" opacity="0.58"/><ellipse cx="157.7" cy="162.3" rx="1.64" ry="1.06" transform="rotate(8 157.7 162.3)" fill="#8a70b8" opacity="0.76"/><ellipse cx="132.6" cy="132.3" rx="1.23" ry="1.20" transform="rotate(166 132.6 132.3)" fill="#7e6cb4" opacity="0.66"/><ellipse cx="144.7" cy="99.8" rx="1.26" ry="1.24" transform="rotate(114 144.7 99.8)" fill="#9478bc" opacity="0.65"/><ellipse cx="152.4" cy="157.2" rx="1.10" ry="1.03" transform="rotate(172 152.4 157.2)" fill="#9474c0" opacity="0.95"/><ellipse cx="134.2" cy="131.3" rx="0.71" ry="0.67" transform="rotate(21 134.2 131.3)" fill="#a07cb8" opacity="0.66"/><ellipse cx="141.4" cy="112.3" rx="0.86" ry="0.66" transform="rotate(158 141.4 112.3)" fill="#8a70b8" opacity="0.92"/><ellipse cx="147.3" cy="145.9" rx="1.14" ry="0.88" transform="rotate(8 147.3 145.9)" fill="#9474c0" opacity="0.74"/><ellipse cx="131.9" cy="147.1" rx="0.99" ry="0.91" transform="rotate(123 131.9 147.1)" fill="#9474c0" opacity="0.78"/><ellipse cx="126.0" cy="115.0" rx="1.03" ry="0.95" transform="rotate(77 126.0 115.0)" fill="#a07cb8" opacity="0.78"/><ellipse cx="157.4" cy="126.0" rx="0.92" ry="0.79" transform="rotate(54 157.4 126.0)" fill="#a07cb8" opacity="0.61"/><ellipse cx="131.6" cy="130.2" rx="0.68" ry="0.68" transform="rotate(157 131.6 130.2)" fill="#8a70b8" opacity="0.65"/><ellipse cx="143.4" cy="143.8" rx="0.97" ry="0.87" transform="rotate(145 143.4 143.8)" fill="#a07cb8" opacity="0.60"/><ellipse cx="140.1" cy="145.5" rx="1.25" ry="0.86" transform="rotate(1 140.1 145.5)" fill="#9474c0" opacity="0.60"/><ellipse cx="156.3" cy="130.7" rx="1.42" ry="1.17" transform="rotate(103 156.3 130.7)" fill="#9474c0" opacity="0.64"/><ellipse cx="149.3" cy="126.5" rx="0.99" ry="0.61" transform="rotate(171 149.3 126.5)" fill="#9474c0" opacity="0.68"/><ellipse cx="149.5" cy="137.6" rx="1.04" ry="0.79" transform="rotate(152 149.5 137.6)" fill="#9474c0" opacity="0.62"/><ellipse cx="159.6" cy="118.6" rx="1.58" ry="1.00" transform="rotate(93 159.6 118.6)" fill="#9474c0" opacity="0.80"/><ellipse cx="143.4" cy="136.3" rx="1.42" ry="0.98" transform="rotate(38 143.4 136.3)" fill="#9478bc" opacity="0.67"/><ellipse cx="152.7" cy="100.2" rx="1.23" ry="0.93" transform="rotate(123 152.7 100.2)" fill="#9478bc" opacity="0.94"/><ellipse cx="154.0" cy="115.2" rx="1.56" ry="1.02" transform="rotate(92 154.0 115.2)" fill="#7e6cb4" opacity="0.95"/><ellipse cx="131.2" cy="116.9" rx="1.30" ry="0.86" transform="rotate(122 131.2 116.9)" fill="#7e6cb4" opacity="0.88"/><ellipse cx="123.9" cy="134.9" rx="0.70" ry="0.63" transform="rotate(88 123.9 134.9)" fill="#9474c0" opacity="0.90"/><ellipse cx="145.0" cy="137.9" rx="1.26" ry="1.04" transform="rotate(34 145.0 137.9)" fill="#8a70b8" opacity="0.79"/><ellipse cx="158.6" cy="159.4" rx="0.76" ry="0.68" transform="rotate(157 158.6 159.4)" fill="#9474c0" opacity="0.75"/><ellipse cx="131.3" cy="108.7" rx="1.29" ry="0.79" transform="rotate(75 131.3 108.7)" fill="#a07cb8" opacity="0.60"/><ellipse cx="129.2" cy="140.6" rx="0.65" ry="0.60" transform="rotate(53 129.2 140.6)" fill="#8a70b8" opacity="0.86"/><ellipse cx="135.0" cy="141.2" rx="0.74" ry="0.66" transform="rotate(55 135.0 141.2)" fill="#9478bc" opacity="0.73"/><ellipse cx="133.4" cy="118.7" rx="1.04" ry="0.75" transform="rotate(82 133.4 118.7)" fill="#8a70b8" opacity="0.76"/><ellipse cx="168.5" cy="139.1" rx="1.31" ry="0.83" transform="rotate(58 168.5 139.1)" fill="#9474c0" opacity="0.59"/><ellipse cx="156.2" cy="133.1" rx="1.43" ry="0.91" transform="rotate(57 156.2 133.1)" fill="#a07cb8" opacity="0.87"/><ellipse cx="134.2" cy="148.0" rx="1.15" ry="0.72" transform="rotate(82 134.2 148.0)" fill="#7e6cb4" opacity="0.81"/><ellipse cx="126.7" cy="144.7" rx="1.28" ry="0.94" transform="rotate(65 126.7 144.7)" fill="#7e6cb4" opacity="0.85"/><ellipse cx="145.0" cy="156.3" rx="1.01" ry="0.71" transform="rotate(78 145.0 156.3)" fill="#8a70b8" opacity="0.83"/><ellipse cx="125.4" cy="159.1" rx="1.46" ry="1.08" transform="rotate(16 125.4 159.1)" fill="#9478bc" opacity="0.71"/><ellipse cx="133.7" cy="142.1" rx="1.15" ry="1.11" transform="rotate(2 133.7 142.1)" fill="#8a70b8" opacity="0.92"/><ellipse cx="141.9" cy="149.2" rx="1.14" ry="0.86" transform="rotate(162 141.9 149.2)" fill="#9478bc" opacity="0.61"/><ellipse cx="145.3" cy="161.4" rx="1.37" ry="0.91" transform="rotate(166 145.3 161.4)" fill="#7e6cb4" opacity="0.77"/><ellipse cx="124.9" cy="126.2" rx="1.33" ry="0.87" transform="rotate(95 124.9 126.2)" fill="#9478bc" opacity="0.78"/><ellipse cx="150.4" cy="144.8" rx="0.86" ry="0.83" transform="rotate(22 150.4 144.8)" fill="#8a70b8" opacity="0.81"/><ellipse cx="128.4" cy="135.2" rx="0.91" ry="0.71" transform="rotate(97 128.4 135.2)" fill="#a07cb8" opacity="0.81"/><ellipse cx="166.5" cy="133.1" rx="1.19" ry="1.13" transform="rotate(22 166.5 133.1)" fill="#9478bc" opacity="0.88"/><ellipse cx="151.0" cy="105.5" rx="1.35" ry="1.19" transform="rotate(40 151.0 105.5)" fill="#9478bc" opacity="0.93"/><ellipse cx="124.0" cy="115.3" rx="1.24" ry="0.82" transform="rotate(70 124.0 115.3)" fill="#7e6cb4" opacity="0.92"/><ellipse cx="164.6" cy="98.8" rx="1.38" ry="1.13" transform="rotate(110 164.6 98.8)" fill="#9478bc" opacity="0.64"/><ellipse cx="140.5" cy="130.6" rx="1.02" ry="0.63" transform="rotate(46 140.5 130.6)" fill="#a07cb8" opacity="0.76"/><ellipse cx="124.1" cy="160.4" rx="1.18" ry="0.87" transform="rotate(128 124.1 160.4)" fill="#7e6cb4" opacity="0.58"/><ellipse cx="154.1" cy="135.6" rx="1.50" ry="0.93" transform="rotate(46 154.1 135.6)" fill="#7e6cb4" opacity="0.72"/><ellipse cx="152.8" cy="136.0" rx="1.45" ry="0.91" transform="rotate(13 152.8 136.0)" fill="#a07cb8" opacity="0.59"/><ellipse cx="128.6" cy="163.8" rx="1.23" ry="0.77" transform="rotate(96 128.6 163.8)" fill="#9478bc" opacity="0.94"/><ellipse cx="145.1" cy="131.7" rx="1.31" ry="0.97" transform="rotate(153 145.1 131.7)" fill="#7e6cb4" opacity="0.71"/><ellipse cx="138.7" cy="154.5" rx="1.25" ry="0.83" transform="rotate(149 138.7 154.5)" fill="#9474c0" opacity="0.57"/><ellipse cx="150.9" cy="124.4" rx="0.82" ry="0.78" transform="rotate(128 150.9 124.4)" fill="#9478bc" opacity="0.55"/><ellipse cx="133.1" cy="114.1" rx="1.62" ry="0.98" transform="rotate(5 133.1 114.1)" fill="#9478bc" opacity="0.84"/><ellipse cx="144.1" cy="113.2" rx="0.98" ry="0.85" transform="rotate(41 144.1 113.2)" fill="#8a70b8" opacity="0.81"/><ellipse cx="130.3" cy="136.2" rx="1.16" ry="0.77" transform="rotate(85 130.3 136.2)" fill="#a07cb8" opacity="0.92"/><ellipse cx="135.2" cy="122.5" rx="1.30" ry="0.81" transform="rotate(19 135.2 122.5)" fill="#8a70b8" opacity="0.73"/><ellipse cx="132.8" cy="138.0" rx="0.96" ry="0.88" transform="rotate(156 132.8 138.0)" fill="#a07cb8" opacity="0.70"/><ellipse cx="163.7" cy="159.3" rx="0.81" ry="0.60" transform="rotate(59 163.7 159.3)" fill="#9474c0" opacity="0.95"/><ellipse cx="140.7" cy="139.2" rx="0.91" ry="0.70" transform="rotate(97 140.7 139.2)" fill="#a07cb8" opacity="0.75"/><ellipse cx="131.9" cy="109.1" rx="1.26" ry="1.21" transform="rotate(7 131.9 109.1)" fill="#a07cb8" opacity="0.55"/><ellipse cx="158.3" cy="98.8" rx="1.15" ry="0.95" transform="rotate(59 158.3 98.8)" fill="#9478bc" opacity="0.85"/><ellipse cx="139.6" cy="140.5" rx="1.21" ry="1.20" transform="rotate(45 139.6 140.5)" fill="#9478bc" opacity="0.86"/><ellipse cx="148.9" cy="156.1" rx="0.80" ry="0.55" transform="rotate(171 148.9 156.1)" fill="#7e6cb4" opacity="0.56"/><ellipse cx="124.1" cy="161.4" rx="1.53" ry="0.99" transform="rotate(3 124.1 161.4)" fill="#a07cb8" opacity="0.69"/><ellipse cx="171.4" cy="107.6" rx="1.14" ry="0.98" transform="rotate(166 171.4 107.6)" fill="#c0608c" opacity="0.56"/><ellipse cx="151.3" cy="101.5" rx="1.53" ry="0.99" transform="rotate(142 151.3 101.5)" fill="#c66a94" opacity="0.63"/><ellipse cx="165.6" cy="143.5" rx="1.23" ry="0.82" transform="rotate(167 165.6 143.5)" fill="#cc6484" opacity="0.80"/><ellipse cx="150.7" cy="163.2" rx="1.15" ry="0.75" transform="rotate(36 150.7 163.2)" fill="#cc6484" opacity="0.63"/><ellipse cx="147.5" cy="97.5" rx="1.52" ry="1.05" transform="rotate(160 147.5 97.5)" fill="#cc6484" opacity="0.71"/><ellipse cx="148.0" cy="153.8" rx="1.09" ry="0.88" transform="rotate(16 148.0 153.8)" fill="#c0608c" opacity="0.78"/><ellipse cx="130.9" cy="133.3" rx="1.39" ry="1.00" transform="rotate(37 130.9 133.3)" fill="#c66a94" opacity="0.71"/><ellipse cx="141.1" cy="134.8" rx="0.86" ry="0.71" transform="rotate(82 141.1 134.8)" fill="#cc6484" opacity="0.67"/><ellipse cx="140.3" cy="112.2" rx="1.48" ry="1.00" transform="rotate(98 140.3 112.2)" fill="#d4708c" opacity="0.68"/><ellipse cx="135.5" cy="107.7" rx="1.09" ry="0.71" transform="rotate(123 135.5 107.7)" fill="#cc6484" opacity="0.62"/><ellipse cx="144.1" cy="118.9" rx="1.08" ry="0.83" transform="rotate(1 144.1 118.9)" fill="#d4708c" opacity="0.71"/><ellipse cx="141.6" cy="157.3" rx="0.76" ry="0.71" transform="rotate(90 141.6 157.3)" fill="#c0608c" opacity="0.76"/><ellipse cx="123.4" cy="153.1" rx="1.20" ry="1.12" transform="rotate(80 123.4 153.1)" fill="#c66a94" opacity="0.76"/><ellipse cx="131.8" cy="134.8" rx="1.25" ry="1.12" transform="rotate(73 131.8 134.8)" fill="#c0608c" opacity="0.55"/><ellipse cx="131.7" cy="124.9" rx="0.91" ry="0.82" transform="rotate(24 131.7 124.9)" fill="#c0608c" opacity="0.73"/><ellipse cx="145.3" cy="139.9" rx="1.26" ry="0.78" transform="rotate(37 145.3 139.9)" fill="#cc6484" opacity="0.62"/><ellipse cx="137.5" cy="123.2" rx="1.05" ry="1.00" transform="rotate(39 137.5 123.2)" fill="#d4708c" opacity="0.68"/><ellipse cx="129.9" cy="134.9" rx="0.80" ry="0.58" transform="rotate(95 129.9 134.9)" fill="#d4708c" opacity="0.53"/><ellipse cx="150.6" cy="160.4" rx="1.04" ry="0.77" transform="rotate(129 150.6 160.4)" fill="#cc6484" opacity="0.72"/><ellipse cx="158.9" cy="112.5" rx="0.86" ry="0.68" transform="rotate(127 158.9 112.5)" fill="#c66a94" opacity="0.62"/><ellipse cx="163.6" cy="160.0" rx="0.87" ry="0.79" transform="rotate(150 163.6 160.0)" fill="#c66a94" opacity="0.68"/><ellipse cx="147.1" cy="129.8" rx="1.29" ry="1.06" transform="rotate(90 147.1 129.8)" fill="#c0608c" opacity="0.61"/><ellipse cx="123.5" cy="134.5" rx="0.87" ry="0.72" transform="rotate(74 123.5 134.5)" fill="#d4708c" opacity="0.72"/><ellipse cx="149.8" cy="105.8" rx="1.18" ry="0.85" transform="rotate(149 149.8 105.8)" fill="#c66a94" opacity="0.67"/><ellipse cx="150.1" cy="99.4" rx="1.03" ry="0.87" transform="rotate(75 150.1 99.4)" fill="#c66a94" opacity="0.77"/><ellipse cx="163.2" cy="122.2" rx="0.80" ry="0.68" transform="rotate(88 163.2 122.2)" fill="#cc6484" opacity="0.53"/><ellipse cx="139.7" cy="150.3" rx="0.89" ry="0.83" transform="rotate(160 139.7 150.3)" fill="#d4708c" opacity="0.73"/><ellipse cx="152.0" cy="151.6" rx="1.52" ry="0.98" transform="rotate(164 152.0 151.6)" fill="#c0608c" opacity="0.58"/><ellipse cx="132.6" cy="152.6" rx="0.76" ry="0.70" transform="rotate(86 132.6 152.6)" fill="#c0608c" opacity="0.75"/><ellipse cx="161.4" cy="104.2" rx="1.43" ry="1.03" transform="rotate(155 161.4 104.2)" fill="#cc6484" opacity="0.63"/><ellipse cx="142.2" cy="106.2" rx="0.95" ry="0.95" transform="rotate(38 142.2 106.2)" fill="#c0608c" opacity="0.50"/><ellipse cx="148.7" cy="128.1" rx="0.98" ry="0.66" transform="rotate(163 148.7 128.1)" fill="#cc6484" opacity="0.54"/><ellipse cx="133.6" cy="130.9" rx="1.28" ry="1.07" transform="rotate(58 133.6 130.9)" fill="#c0608c" opacity="0.51"/><ellipse cx="153.8" cy="109.2" rx="1.46" ry="1.05" transform="rotate(17 153.8 109.2)" fill="#c0608c" opacity="0.45"/><ellipse cx="140.8" cy="155.8" rx="0.82" ry="0.55" transform="rotate(174 140.8 155.8)" fill="#c66a94" opacity="0.68"/><ellipse cx="165.8" cy="103.6" rx="1.13" ry="1.07" transform="rotate(104 165.8 103.6)" fill="#cc6484" opacity="0.64"/><ellipse cx="159.5" cy="118.9" rx="1.15" ry="0.95" transform="rotate(42 159.5 118.9)" fill="#c66a94" opacity="0.59"/><ellipse cx="149.9" cy="120.7" rx="1.19" ry="1.03" transform="rotate(88 149.9 120.7)" fill="#c0608c" opacity="0.78"/><ellipse cx="140.0" cy="143.4" rx="0.70" ry="0.67" transform="rotate(32 140.0 143.4)" fill="#c66a94" opacity="0.79"/><ellipse cx="170.2" cy="111.0" rx="0.80" ry="0.59" transform="rotate(110 170.2 111.0)" fill="#d4708c" opacity="0.76"/><ellipse cx="122.5" cy="137.6" rx="1.16" ry="1.02" transform="rotate(118 122.5 137.6)" fill="#c66a94" opacity="0.49"/><ellipse cx="128.7" cy="104.2" rx="1.49" ry="0.92" transform="rotate(105 128.7 104.2)" fill="#c0608c" opacity="0.57"/><ellipse cx="142.0" cy="134.9" rx="0.95" ry="0.76" transform="rotate(108 142.0 134.9)" fill="#c0608c" opacity="0.61"/><ellipse cx="157.5" cy="100.5" rx="0.96" ry="0.95" transform="rotate(91 157.5 100.5)" fill="#c66a94" opacity="0.70"/><ellipse cx="148.4" cy="137.1" rx="0.97" ry="0.84" transform="rotate(92 148.4 137.1)" fill="#c66a94" opacity="0.55"/><ellipse cx="166.7" cy="112.0" rx="0.95" ry="0.88" transform="rotate(54 166.7 112.0)" fill="#d4708c" opacity="0.57"/><ellipse cx="144.1" cy="117.0" rx="0.91" ry="0.66" transform="rotate(19 144.1 117.0)" fill="#c66a94" opacity="0.69"/><ellipse cx="140.2" cy="114.2" rx="1.20" ry="0.89" transform="rotate(165 140.2 114.2)" fill="#c0608c" opacity="0.77"/><ellipse cx="161.4" cy="131.7" rx="0.99" ry="0.83" transform="rotate(173 161.4 131.7)" fill="#c0608c" opacity="0.59"/><ellipse cx="129.3" cy="98.3" rx="0.84" ry="0.80" transform="rotate(6 129.3 98.3)" fill="#cc6484" opacity="0.72"/><ellipse cx="164.0" cy="99.4" rx="1.16" ry="1.07" transform="rotate(163 164.0 99.4)" fill="#cc6484" opacity="0.47"/><ellipse cx="167.8" cy="108.0" rx="1.60" ry="0.98" transform="rotate(74 167.8 108.0)" fill="#c66a94" opacity="0.54"/><ellipse cx="152.2" cy="104.9" rx="1.15" ry="1.09" transform="rotate(104 152.2 104.9)" fill="#c0608c" opacity="0.76"/><ellipse cx="137.3" cy="119.2" rx="1.18" ry="0.76" transform="rotate(39 137.3 119.2)" fill="#c66a94" opacity="0.76"/><ellipse cx="134.0" cy="104.1" rx="1.14" ry="0.87" transform="rotate(15 134.0 104.1)" fill="#c0608c" opacity="0.78"/><ellipse cx="167.3" cy="157.5" rx="0.94" ry="0.73" transform="rotate(50 167.3 157.5)" fill="#d4708c" opacity="0.70"/><ellipse cx="157.3" cy="144.9" rx="0.80" ry="0.65" transform="rotate(137 157.3 144.9)" fill="#c0608c" opacity="0.58"/><ellipse cx="162.2" cy="101.0" rx="1.17" ry="0.90" transform="rotate(157 162.2 101.0)" fill="#c66a94" opacity="0.48"/><ellipse cx="125.3" cy="163.7" rx="1.09" ry="0.95" transform="rotate(79 125.3 163.7)" fill="#cc6484" opacity="0.62"/><ellipse cx="131.6" cy="107.6" rx="1.21" ry="0.90" transform="rotate(136 131.6 107.6)" fill="#d4708c" opacity="0.74"/><ellipse cx="152.4" cy="102.2" rx="1.22" ry="0.92" transform="rotate(81 152.4 102.2)" fill="#c0608c" opacity="0.60"/><ellipse cx="126.4" cy="101.9" rx="0.84" ry="0.55" transform="rotate(11 126.4 101.9)" fill="#d4708c" opacity="0.74"/><ellipse cx="123.9" cy="138.8" rx="0.92" ry="0.75" transform="rotate(13 123.9 138.8)" fill="#cc6484" opacity="0.49"/><ellipse cx="164.1" cy="161.1" rx="1.10" ry="0.71" transform="rotate(130 164.1 161.1)" fill="#d4708c" opacity="0.75"/><ellipse cx="148.1" cy="121.8" rx="1.08" ry="0.71" transform="rotate(100 148.1 121.8)" fill="#d4708c" opacity="0.52"/><ellipse cx="137.8" cy="145.3" rx="1.50" ry="1.07" transform="rotate(11 137.8 145.3)" fill="#c66a94" opacity="0.52"/><ellipse cx="168.0" cy="152.2" rx="1.00" ry="0.96" transform="rotate(87 168.0 152.2)" fill="#cc6484" opacity="0.75"/><ellipse cx="167.2" cy="100.5" rx="1.20" ry="0.96" transform="rotate(154 167.2 100.5)" fill="#cc6484" opacity="0.58"/><ellipse cx="166.8" cy="139.2" rx="1.12" ry="0.78" transform="rotate(180 166.8 139.2)" fill="#d4708c" opacity="0.68"/><ellipse cx="139.3" cy="132.5" rx="1.16" ry="0.72" transform="rotate(25 139.3 132.5)" fill="#c66a94" opacity="0.47"/><ellipse cx="157.4" cy="147.6" rx="1.14" ry="0.73" transform="rotate(11 157.4 147.6)" fill="#c0608c" opacity="0.73"/><ellipse cx="165.1" cy="144.2" rx="1.17" ry="1.14" transform="rotate(122 165.1 144.2)" fill="#cc6484" opacity="0.70"/><ellipse cx="152.6" cy="159.1" rx="0.90" ry="0.84" transform="rotate(161 152.6 159.1)" fill="#d4708c" opacity="0.64"/><ellipse cx="163.3" cy="139.6" rx="0.93" ry="0.65" transform="rotate(77 163.3 139.6)" fill="#d4708c" opacity="0.70"/><ellipse cx="129.2" cy="104.5" rx="0.92" ry="0.62" transform="rotate(42 129.2 104.5)" fill="#cc6484" opacity="0.76"/><ellipse cx="160.9" cy="143.9" rx="1.34" ry="0.93" transform="rotate(77 160.9 143.9)" fill="#c66a94" opacity="0.73"/><ellipse cx="129.7" cy="121.4" rx="1.08" ry="0.72" transform="rotate(156 129.7 121.4)" fill="#c66a94" opacity="0.48"/><ellipse cx="153.3" cy="121.9" rx="0.77" ry="0.74" transform="rotate(159 153.3 121.9)" fill="#cc6484" opacity="0.75"/><ellipse cx="142.0" cy="122.1" rx="0.88" ry="0.87" transform="rotate(23 142.0 122.1)" fill="#cc6484" opacity="0.74"/><ellipse cx="134.2" cy="133.7" rx="0.91" ry="0.58" transform="rotate(53 134.2 133.7)" fill="#c0608c" opacity="0.65"/><ellipse cx="170.4" cy="115.5" rx="0.82" ry="0.68" transform="rotate(14 170.4 115.5)" fill="#cc6484" opacity="0.64"/><ellipse cx="162.9" cy="132.0" rx="0.78" ry="0.70" transform="rotate(9 162.9 132.0)" fill="#cc6484" opacity="0.63"/><ellipse cx="140.2" cy="106.3" rx="1.43" ry="1.08" transform="rotate(58 140.2 106.3)" fill="#c0608c" opacity="0.58"/><ellipse cx="154.7" cy="152.8" rx="1.49" ry="1.05" transform="rotate(94 154.7 152.8)" fill="#c66a94" opacity="0.80"/><ellipse cx="123.1" cy="161.2" rx="1.54" ry="0.95" transform="rotate(15 123.1 161.2)" fill="#c66a94" opacity="0.52"/><ellipse cx="132.3" cy="150.1" rx="0.94" ry="0.85" transform="rotate(124 132.3 150.1)" fill="#c66a94" opacity="0.70"/><ellipse cx="173.9" cy="144.7" rx="1.06" ry="0.67" transform="rotate(149 173.9 144.7)" fill="#c66a94" opacity="0.59"/><ellipse cx="150.4" cy="152.1" rx="1.23" ry="1.04" transform="rotate(78 150.4 152.1)" fill="#c0608c" opacity="0.78"/><ellipse cx="125.1" cy="136.5" rx="0.83" ry="0.82" transform="rotate(65 125.1 136.5)" fill="#c0608c" opacity="0.73"/><ellipse cx="137.7" cy="109.3" rx="1.39" ry="0.93" transform="rotate(98 137.7 109.3)" fill="#c0608c" opacity="0.78"/><ellipse cx="151.7" cy="103.5" rx="1.10" ry="0.85" transform="rotate(36 151.7 103.5)" fill="#cc6484" opacity="0.58"/><ellipse cx="134.2" cy="128.4" rx="1.08" ry="0.91" transform="rotate(156 134.2 128.4)" fill="#cc6484" opacity="0.61"/><ellipse cx="154.9" cy="125.1" rx="1.13" ry="0.79" transform="rotate(89 154.9 125.1)" fill="#c0608c" opacity="0.58"/><ellipse cx="123.0" cy="161.5" rx="0.95" ry="0.92" transform="rotate(37 123.0 161.5)" fill="#cc6484" opacity="0.52"/><ellipse cx="134.8" cy="154.0" rx="0.71" ry="0.59" transform="rotate(120 134.8 154.0)" fill="#d4708c" opacity="0.77"/><ellipse cx="137.8" cy="163.9" rx="1.33" ry="1.00" transform="rotate(117 137.8 163.9)" fill="#c66a94" opacity="0.49"/><ellipse cx="129.5" cy="133.8" rx="1.30" ry="0.94" transform="rotate(33 129.5 133.8)" fill="#cc6484" opacity="0.77"/><ellipse cx="137.6" cy="144.2" rx="0.89" ry="0.54" transform="rotate(138 137.6 144.2)" fill="#c0608c" opacity="0.46"/><ellipse cx="166.4" cy="101.6" rx="0.96" ry="0.67" transform="rotate(30 166.4 101.6)" fill="#c66a94" opacity="0.64"/><ellipse cx="124.9" cy="148.1" rx="1.14" ry="1.01" transform="rotate(56 124.9 148.1)" fill="#c66a94" opacity="0.69"/><ellipse cx="164.4" cy="105.7" rx="0.91" ry="0.57" transform="rotate(161 164.4 105.7)" fill="#c66a94" opacity="0.51"/><ellipse cx="149.0" cy="111.7" rx="1.11" ry="0.90" transform="rotate(169 149.0 111.7)" fill="#d4708c" opacity="0.47"/><ellipse cx="152.4" cy="121.1" rx="1.12" ry="0.69" transform="rotate(107 152.4 121.1)" fill="#cc6484" opacity="0.77"/><ellipse cx="140.9" cy="151.6" rx="0.78" ry="0.65" transform="rotate(86 140.9 151.6)" fill="#d4708c" opacity="0.70"/><ellipse cx="164.9" cy="114.4" rx="0.90" ry="0.69" transform="rotate(111 164.9 114.4)" fill="#cc6484" opacity="0.51"/><ellipse cx="161.5" cy="148.0" rx="1.24" ry="0.81" transform="rotate(159 161.5 148.0)" fill="#c0608c" opacity="0.48"/><ellipse cx="147.6" cy="144.7" rx="1.24" ry="1.08" transform="rotate(6 147.6 144.7)" fill="#c66a94" opacity="0.73"/><ellipse cx="149.2" cy="108.2" rx="1.44" ry="1.07" transform="rotate(171 149.2 108.2)" fill="#c0608c" opacity="0.63"/><ellipse cx="163.6" cy="107.6" rx="0.94" ry="0.69" transform="rotate(120 163.6 107.6)" fill="#c66a94" opacity="0.63"/><ellipse cx="122.6" cy="126.7" rx="0.81" ry="0.69" transform="rotate(82 122.6 126.7)" fill="#c0608c" opacity="0.47"/><ellipse cx="134.6" cy="117.0" rx="1.16" ry="0.72" transform="rotate(67 134.6 117.0)" fill="#cc6484" opacity="0.54"/><ellipse cx="159.8" cy="160.7" rx="1.30" ry="0.89" transform="rotate(74 159.8 160.7)" fill="#c66a94" opacity="0.48"/><ellipse cx="128.6" cy="151.2" rx="1.26" ry="0.87" transform="rotate(150 128.6 151.2)" fill="#cc6484" opacity="0.71"/><ellipse cx="129.2" cy="113.4" rx="0.87" ry="0.68" transform="rotate(32 129.2 113.4)" fill="#d4708c" opacity="0.73"/><ellipse cx="129.7" cy="158.3" rx="0.98" ry="0.91" transform="rotate(160 129.7 158.3)" fill="#c66a94" opacity="0.61"/><ellipse cx="132.8" cy="147.2" rx="0.91" ry="0.73" transform="rotate(176 132.8 147.2)" fill="#c66a94" opacity="0.67"/><ellipse cx="143.8" cy="161.0" rx="1.16" ry="0.73" transform="rotate(137 143.8 161.0)" fill="#d4708c" opacity="0.79"/><ellipse cx="132.1" cy="143.0" rx="1.09" ry="0.89" transform="rotate(131 132.1 143.0)" fill="#c66a94" opacity="0.55"/><ellipse cx="151.9" cy="148.6" rx="1.19" ry="1.10" transform="rotate(146 151.9 148.6)" fill="#c0608c" opacity="0.56"/><ellipse cx="124.3" cy="113.1" rx="0.68" ry="0.58" transform="rotate(12 124.3 113.1)" fill="#d4708c" opacity="0.80"/><ellipse cx="143.0" cy="130.7" rx="0.98" ry="0.66" transform="rotate(148 143.0 130.7)" fill="#c0608c" opacity="0.65"/><ellipse cx="141.9" cy="138.0" rx="1.16" ry="0.72" transform="rotate(40 141.9 138.0)" fill="#c0608c" opacity="0.47"/><ellipse cx="129.9" cy="140.3" rx="1.19" ry="0.92" transform="rotate(38 129.9 140.3)" fill="#c0608c" opacity="0.53"/><ellipse cx="163.4" cy="147.6" rx="0.89" ry="0.71" transform="rotate(119 163.4 147.6)" fill="#cc6484" opacity="0.61"/><ellipse cx="122.6" cy="97.6" rx="0.96" ry="0.81" transform="rotate(39 122.6 97.6)" fill="#d4708c" opacity="0.59"/><ellipse cx="148.1" cy="132.9" rx="0.91" ry="0.74" transform="rotate(158 148.1 132.9)" fill="#d4708c" opacity="0.79"/><ellipse cx="161.0" cy="145.8" rx="1.32" ry="1.07" transform="rotate(1 161.0 145.8)" fill="#d4708c" opacity="0.51"/><ellipse cx="138.9" cy="119.8" rx="1.12" ry="0.79" transform="rotate(41 138.9 119.8)" fill="#cc6484" opacity="0.70"/><ellipse cx="148.7" cy="97.5" rx="1.49" ry="0.95" transform="rotate(53 148.7 97.5)" fill="#cc6484" opacity="0.71"/><ellipse cx="144.2" cy="143.7" rx="1.20" ry="1.17" transform="rotate(51 144.2 143.7)" fill="#c66a94" opacity="0.64"/><ellipse cx="184.8" cy="151.4" rx="1.31" ry="1.26" transform="rotate(153 184.8 151.4)" fill="#cc6c88" opacity="0.50"/><ellipse cx="182.8" cy="111.2" rx="1.77" ry="1.17" transform="rotate(51 182.8 111.2)" fill="#d4708c" opacity="0.77"/><ellipse cx="188.3" cy="133.5" rx="1.33" ry="1.30" transform="rotate(99 188.3 133.5)" fill="#d87c94" opacity="0.70"/><ellipse cx="179.9" cy="150.8" rx="1.60" ry="1.09" transform="rotate(7 179.9 150.8)" fill="#d4708c" opacity="0.46"/><ellipse cx="161.2" cy="114.2" rx="1.30" ry="1.28" transform="rotate(46 161.2 114.2)" fill="#d08098" opacity="0.77"/><ellipse cx="161.9" cy="121.2" rx="1.45" ry="0.92" transform="rotate(65 161.9 121.2)" fill="#cc6c88" opacity="0.74"/><ellipse cx="165.6" cy="140.6" rx="1.65" ry="1.29" transform="rotate(179 165.6 140.6)" fill="#d08098" opacity="0.70"/><ellipse cx="163.7" cy="110.9" rx="1.48" ry="1.24" transform="rotate(134 163.7 110.9)" fill="#d4708c" opacity="0.49"/><ellipse cx="196.4" cy="127.6" rx="1.46" ry="1.29" transform="rotate(18 196.4 127.6)" fill="#cc6c88" opacity="0.43"/><ellipse cx="197.6" cy="127.3" rx="1.76" ry="1.24" transform="rotate(62 197.6 127.3)" fill="#d08098" opacity="0.64"/><ellipse cx="177.7" cy="147.6" rx="1.61" ry="0.97" transform="rotate(105 177.7 147.6)" fill="#b088c0" opacity="0.45"/><ellipse cx="172.2" cy="109.7" rx="1.06" ry="0.71" transform="rotate(108 172.2 109.7)" fill="#d08098" opacity="0.71"/><ellipse cx="200.4" cy="164.0" rx="1.00" ry="0.95" transform="rotate(139 200.4 164.0)" fill="#c66a94" opacity="0.76"/><ellipse cx="166.9" cy="102.0" rx="1.38" ry="0.91" transform="rotate(162 166.9 102.0)" fill="#d08098" opacity="0.43"/><ellipse cx="171.7" cy="157.8" rx="1.29" ry="1.15" transform="rotate(26 171.7 157.8)" fill="#b088c0" opacity="0.54"/><ellipse cx="181.4" cy="159.8" rx="1.44" ry="1.02" transform="rotate(0 181.4 159.8)" fill="#c66a94" opacity="0.57"/><ellipse cx="166.2" cy="132.2" rx="0.83" ry="0.74" transform="rotate(7 166.2 132.2)" fill="#d4708c" opacity="0.48"/><ellipse cx="170.6" cy="144.8" rx="1.35" ry="1.29" transform="rotate(106 170.6 144.8)" fill="#d4708c" opacity="0.64"/><ellipse cx="168.3" cy="98.8" rx="1.17" ry="0.96" transform="rotate(176 168.3 98.8)" fill="#cc6c88" opacity="0.62"/><ellipse cx="181.4" cy="137.5" rx="1.13" ry="0.84" transform="rotate(10 181.4 137.5)" fill="#c66a94" opacity="0.52"/><ellipse cx="190.7" cy="135.6" rx="1.09" ry="0.88" transform="rotate(128 190.7 135.6)" fill="#c66a94" opacity="0.69"/><ellipse cx="201.8" cy="160.6" rx="1.39" ry="1.09" transform="rotate(154 201.8 160.6)" fill="#d4708c" opacity="0.78"/><ellipse cx="176.4" cy="149.0" rx="0.99" ry="0.79" transform="rotate(94 176.4 149.0)" fill="#d4708c" opacity="0.40"/><ellipse cx="185.3" cy="157.4" rx="1.55" ry="1.35" transform="rotate(103 185.3 157.4)" fill="#c66a94" opacity="0.65"/><ellipse cx="187.7" cy="159.1" rx="1.33" ry="0.98" transform="rotate(162 187.7 159.1)" fill="#b088c0" opacity="0.75"/><ellipse cx="197.3" cy="144.7" rx="1.44" ry="0.91" transform="rotate(37 197.3 144.7)" fill="#cc6c88" opacity="0.40"/><ellipse cx="193.9" cy="123.9" rx="1.72" ry="1.28" transform="rotate(177 193.9 123.9)" fill="#d87c94" opacity="0.57"/><ellipse cx="202.4" cy="161.0" rx="1.54" ry="0.95" transform="rotate(141 202.4 161.0)" fill="#b088c0" opacity="0.54"/><ellipse cx="171.4" cy="141.6" rx="1.09" ry="0.70" transform="rotate(65 171.4 141.6)" fill="#c66a94" opacity="0.69"/><ellipse cx="190.9" cy="114.2" rx="1.59" ry="0.99" transform="rotate(2 190.9 114.2)" fill="#cc6c88" opacity="0.65"/><ellipse cx="182.1" cy="136.0" rx="1.40" ry="0.96" transform="rotate(73 182.1 136.0)" fill="#c66a94" opacity="0.53"/><ellipse cx="163.1" cy="109.9" rx="1.81" ry="1.19" transform="rotate(143 163.1 109.9)" fill="#d08098" opacity="0.74"/><ellipse cx="163.3" cy="130.5" rx="1.78" ry="1.16" transform="rotate(122 163.3 130.5)" fill="#d4708c" opacity="0.57"/><ellipse cx="172.2" cy="147.1" rx="1.48" ry="1.00" transform="rotate(93 172.2 147.1)" fill="#d4708c" opacity="0.44"/><ellipse cx="162.1" cy="163.8" rx="0.95" ry="0.80" transform="rotate(108 162.1 163.8)" fill="#d87c94" opacity="0.71"/><ellipse cx="170.0" cy="148.4" rx="1.08" ry="0.85" transform="rotate(33 170.0 148.4)" fill="#d4708c" opacity="0.70"/><ellipse cx="193.2" cy="136.1" rx="1.12" ry="0.70" transform="rotate(136 193.2 136.1)" fill="#cc6c88" opacity="0.43"/><ellipse cx="161.7" cy="161.4" rx="2.00" ry="1.22" transform="rotate(55 161.7 161.4)" fill="#cc6c88" opacity="0.68"/><ellipse cx="161.2" cy="160.4" rx="1.52" ry="1.27" transform="rotate(120 161.2 160.4)" fill="#cc6c88" opacity="0.61"/><ellipse cx="162.8" cy="106.4" rx="1.30" ry="1.26" transform="rotate(45 162.8 106.4)" fill="#c66a94" opacity="0.41"/><ellipse cx="163.5" cy="163.9" rx="1.91" ry="1.19" transform="rotate(11 163.5 163.9)" fill="#d87c94" opacity="0.44"/><ellipse cx="199.6" cy="159.5" rx="1.57" ry="1.06" transform="rotate(107 199.6 159.5)" fill="#b088c0" opacity="0.64"/><ellipse cx="184.4" cy="127.2" rx="0.99" ry="0.77" transform="rotate(61 184.4 127.2)" fill="#b088c0" opacity="0.44"/><ellipse cx="185.4" cy="133.8" rx="1.06" ry="0.87" transform="rotate(140 185.4 133.8)" fill="#d08098" opacity="0.57"/><ellipse cx="196.3" cy="117.0" rx="1.33" ry="1.21" transform="rotate(50 196.3 117.0)" fill="#cc6c88" opacity="0.48"/><ellipse cx="176.5" cy="145.4" rx="1.66" ry="1.31" transform="rotate(49 176.5 145.4)" fill="#c66a94" opacity="0.76"/><ellipse cx="166.3" cy="116.7" rx="1.08" ry="0.68" transform="rotate(17 166.3 116.7)" fill="#d08098" opacity="0.62"/><ellipse cx="196.5" cy="127.0" rx="0.94" ry="0.81" transform="rotate(30 196.5 127.0)" fill="#d4708c" opacity="0.50"/><ellipse cx="203.4" cy="128.8" rx="1.48" ry="0.94" transform="rotate(12 203.4 128.8)" fill="#c66a94" opacity="0.78"/><ellipse cx="177.1" cy="131.0" rx="1.19" ry="1.10" transform="rotate(142 177.1 131.0)" fill="#d08098" opacity="0.71"/><ellipse cx="180.6" cy="145.5" rx="0.81" ry="0.78" transform="rotate(97 180.6 145.5)" fill="#cc6c88" opacity="0.71"/><ellipse cx="169.7" cy="145.1" rx="1.12" ry="0.93" transform="rotate(54 169.7 145.1)" fill="#b088c0" opacity="0.68"/><ellipse cx="185.2" cy="123.4" rx="1.64" ry="1.00" transform="rotate(91 185.2 123.4)" fill="#c66a94" opacity="0.46"/><ellipse cx="183.4" cy="124.6" rx="1.02" ry="0.67" transform="rotate(52 183.4 124.6)" fill="#c66a94" opacity="0.65"/><ellipse cx="179.8" cy="160.1" rx="0.95" ry="0.81" transform="rotate(102 179.8 160.1)" fill="#cc6c88" opacity="0.59"/><ellipse cx="179.8" cy="131.7" rx="1.49" ry="1.18" transform="rotate(127 179.8 131.7)" fill="#b088c0" opacity="0.67"/><ellipse cx="167.2" cy="117.8" rx="1.11" ry="0.98" transform="rotate(117 167.2 117.8)" fill="#d08098" opacity="0.74"/><ellipse cx="163.8" cy="122.0" rx="1.03" ry="0.86" transform="rotate(53 163.8 122.0)" fill="#d08098" opacity="0.49"/><ellipse cx="161.9" cy="101.7" rx="1.09" ry="0.66" transform="rotate(23 161.9 101.7)" fill="#b088c0" opacity="0.78"/><ellipse cx="178.6" cy="156.3" rx="0.94" ry="0.74" transform="rotate(87 178.6 156.3)" fill="#d4708c" opacity="0.41"/><ellipse cx="160.9" cy="144.4" rx="1.54" ry="1.09" transform="rotate(24 160.9 144.4)" fill="#d4708c" opacity="0.57"/><ellipse cx="173.3" cy="156.2" rx="1.45" ry="1.33" transform="rotate(180 173.3 156.2)" fill="#cc6c88" opacity="0.77"/><ellipse cx="184.2" cy="116.8" rx="0.93" ry="0.78" transform="rotate(1 184.2 116.8)" fill="#d87c94" opacity="0.72"/><ellipse cx="183.6" cy="163.9" rx="1.29" ry="1.13" transform="rotate(146 183.6 163.9)" fill="#d87c94" opacity="0.63"/><ellipse cx="171.7" cy="128.5" rx="1.56" ry="1.21" transform="rotate(154 171.7 128.5)" fill="#cc6c88" opacity="0.79"/><ellipse cx="189.4" cy="162.0" rx="1.35" ry="1.24" transform="rotate(174 189.4 162.0)" fill="#d08098" opacity="0.73"/><ellipse cx="183.2" cy="161.2" rx="1.00" ry="0.82" transform="rotate(0 183.2 161.2)" fill="#d87c94" opacity="0.61"/><ellipse cx="178.5" cy="142.1" rx="1.34" ry="0.99" transform="rotate(124 178.5 142.1)" fill="#d4708c" opacity="0.46"/><ellipse cx="185.4" cy="107.7" rx="1.25" ry="0.96" transform="rotate(133 185.4 107.7)" fill="#d87c94" opacity="0.59"/><ellipse cx="183.8" cy="119.4" rx="1.72" ry="1.12" transform="rotate(1 183.8 119.4)" fill="#c66a94" opacity="0.67"/><ellipse cx="180.4" cy="146.8" rx="1.12" ry="0.71" transform="rotate(103 180.4 146.8)" fill="#d87c94" opacity="0.74"/><ellipse cx="185.5" cy="116.0" rx="1.27" ry="1.04" transform="rotate(73 185.5 116.0)" fill="#b088c0" opacity="0.49"/><ellipse cx="174.0" cy="110.0" rx="1.23" ry="1.09" transform="rotate(90 174.0 110.0)" fill="#cc6c88" opacity="0.69"/><ellipse cx="165.2" cy="121.4" rx="1.31" ry="1.00" transform="rotate(43 165.2 121.4)" fill="#c66a94" opacity="0.57"/><ellipse cx="182.4" cy="155.1" rx="1.14" ry="0.82" transform="rotate(101 182.4 155.1)" fill="#d4708c" opacity="0.55"/><ellipse cx="184.1" cy="117.2" rx="1.64" ry="1.06" transform="rotate(105 184.1 117.2)" fill="#d87c94" opacity="0.73"/><ellipse cx="184.5" cy="104.0" rx="1.10" ry="0.83" transform="rotate(116 184.5 104.0)" fill="#d87c94" opacity="0.76"/><ellipse cx="191.8" cy="156.7" rx="1.32" ry="0.90" transform="rotate(150 191.8 156.7)" fill="#c66a94" opacity="0.56"/><ellipse cx="188.4" cy="134.5" rx="1.26" ry="1.17" transform="rotate(146 188.4 134.5)" fill="#d87c94" opacity="0.78"/><ellipse cx="197.9" cy="149.8" rx="1.61" ry="1.15" transform="rotate(80 197.9 149.8)" fill="#d4708c" opacity="0.74"/><ellipse cx="175.8" cy="109.4" rx="0.84" ry="0.71" transform="rotate(9 175.8 109.4)" fill="#d87c94" opacity="0.68"/><ellipse cx="172.5" cy="163.1" rx="1.62" ry="1.31" transform="rotate(6 172.5 163.1)" fill="#cc6c88" opacity="0.70"/><ellipse cx="192.8" cy="134.0" rx="1.47" ry="1.03" transform="rotate(76 192.8 134.0)" fill="#d08098" opacity="0.71"/><ellipse cx="166.3" cy="125.1" rx="1.56" ry="0.99" transform="rotate(107 166.3 125.1)" fill="#d87c94" opacity="0.76"/><ellipse cx="191.8" cy="105.8" rx="1.40" ry="1.31" transform="rotate(143 191.8 105.8)" fill="#d87c94" opacity="0.48"/><ellipse cx="194.7" cy="143.0" rx="1.34" ry="0.95" transform="rotate(64 194.7 143.0)" fill="#d4708c" opacity="0.55"/><ellipse cx="178.3" cy="107.1" rx="0.81" ry="0.76" transform="rotate(152 178.3 107.1)" fill="#b088c0" opacity="0.60"/><ellipse cx="181.9" cy="159.5" rx="1.77" ry="1.19" transform="rotate(115 181.9 159.5)" fill="#d4708c" opacity="0.76"/><ellipse cx="171.1" cy="131.2" rx="1.66" ry="1.03" transform="rotate(143 171.1 131.2)" fill="#c66a94" opacity="0.80"/><ellipse cx="196.9" cy="134.7" rx="1.32" ry="1.04" transform="rotate(72 196.9 134.7)" fill="#d87c94" opacity="0.54"/><ellipse cx="188.3" cy="109.6" rx="1.34" ry="0.97" transform="rotate(44 188.3 109.6)" fill="#d87c94" opacity="0.44"/><ellipse cx="174.3" cy="140.1" rx="1.00" ry="0.88" transform="rotate(42 174.3 140.1)" fill="#d08098" opacity="0.67"/><ellipse cx="197.0" cy="155.6" rx="1.68" ry="1.15" transform="rotate(131 197.0 155.6)" fill="#c66a94" opacity="0.77"/><ellipse cx="174.5" cy="129.8" rx="1.73" ry="1.12" transform="rotate(54 174.5 129.8)" fill="#b088c0" opacity="0.48"/><ellipse cx="162.9" cy="100.5" rx="1.72" ry="1.05" transform="rotate(90 162.9 100.5)" fill="#b088c0" opacity="0.56"/><ellipse cx="197.0" cy="130.2" rx="1.30" ry="0.81" transform="rotate(130 197.0 130.2)" fill="#d08098" opacity="0.42"/><ellipse cx="163.5" cy="121.2" rx="0.83" ry="0.79" transform="rotate(107 163.5 121.2)" fill="#b088c0" opacity="0.75"/><ellipse cx="202.8" cy="161.0" rx="1.78" ry="1.08" transform="rotate(157 202.8 161.0)" fill="#c66a94" opacity="0.56"/><ellipse cx="171.3" cy="127.2" rx="1.67" ry="1.18" transform="rotate(81 171.3 127.2)" fill="#d08098" opacity="0.44"/><ellipse cx="193.5" cy="112.4" rx="0.93" ry="0.86" transform="rotate(108 193.5 112.4)" fill="#cc6c88" opacity="0.44"/><ellipse cx="182.2" cy="136.7" rx="0.93" ry="0.75" transform="rotate(136 182.2 136.7)" fill="#cc6c88" opacity="0.67"/><ellipse cx="194.2" cy="147.6" rx="1.35" ry="0.87" transform="rotate(171 194.2 147.6)" fill="#d4708c" opacity="0.40"/><ellipse cx="205.9" cy="151.1" rx="0.94" ry="0.78" transform="rotate(13 205.9 151.1)" fill="#b088c0" opacity="0.75"/><ellipse cx="176.6" cy="147.7" rx="1.33" ry="0.98" transform="rotate(21 176.6 147.7)" fill="#cc6c88" opacity="0.64"/><ellipse cx="165.2" cy="159.9" rx="1.21" ry="0.74" transform="rotate(124 165.2 159.9)" fill="#cc6c88" opacity="0.54"/><ellipse cx="201.7" cy="125.2" rx="1.79" ry="1.28" transform="rotate(53 201.7 125.2)" fill="#d87c94" opacity="0.64"/><ellipse cx="179.7" cy="105.9" rx="0.92" ry="0.73" transform="rotate(177 179.7 105.9)" fill="#d87c94" opacity="0.73"/><ellipse cx="168.9" cy="160.2" rx="1.47" ry="1.37" transform="rotate(81 168.9 160.2)" fill="#c66a94" opacity="0.62"/><ellipse cx="198.5" cy="153.7" rx="1.07" ry="1.01" transform="rotate(12 198.5 153.7)" fill="#cc6c88" opacity="0.48"/><ellipse cx="167.7" cy="104.1" rx="1.76" ry="1.17" transform="rotate(155 167.7 104.1)" fill="#c66a94" opacity="0.48"/><ellipse cx="199.7" cy="134.3" rx="1.00" ry="0.99" transform="rotate(120 199.7 134.3)" fill="#b088c0" opacity="0.53"/><ellipse cx="179.7" cy="140.4" rx="1.74" ry="1.14" transform="rotate(23 179.7 140.4)" fill="#cc6c88" opacity="0.65"/><ellipse cx="201.5" cy="141.7" rx="0.85" ry="0.80" transform="rotate(162 201.5 141.7)" fill="#cc6c88" opacity="0.74"/><ellipse cx="174.1" cy="124.3" rx="1.31" ry="1.10" transform="rotate(161 174.1 124.3)" fill="#c66a94" opacity="0.78"/><ellipse cx="182.8" cy="135.1" rx="1.72" ry="1.28" transform="rotate(8 182.8 135.1)" fill="#cc6c88" opacity="0.70"/><ellipse cx="191.1" cy="153.3" rx="1.33" ry="1.24" transform="rotate(123 191.1 153.3)" fill="#c66a94" opacity="0.60"/><ellipse cx="204.2" cy="156.4" rx="1.47" ry="1.01" transform="rotate(65 204.2 156.4)" fill="#d4708c" opacity="0.69"/><ellipse cx="185.4" cy="127.6" rx="1.16" ry="0.70" transform="rotate(118 185.4 127.6)" fill="#cc6c88" opacity="0.76"/><ellipse cx="204.5" cy="150.7" rx="1.38" ry="0.96" transform="rotate(15 204.5 150.7)" fill="#b088c0" opacity="0.78"/><ellipse cx="160.3" cy="106.4" rx="1.10" ry="1.07" transform="rotate(79 160.3 106.4)" fill="#d4708c" opacity="0.53"/><circle cx="183.2" cy="106.9" r="0.96" fill="#e0a040" opacity="0.66"/><circle cx="174.7" cy="133.8" r="1.01" fill="#e0a040" opacity="0.79"/><circle cx="155.3" cy="155.2" r="1.04" fill="#e8b050" opacity="0.72"/><circle cx="194.3" cy="136.5" r="0.96" fill="#e8b050" opacity="0.90"/><circle cx="200.1" cy="138.5" r="1.09" fill="#e8b050" opacity="0.72"/><circle cx="163.4" cy="125.3" r="1.15" fill="#e8b050" opacity="0.83"/><circle cx="138.6" cy="118.3" r="0.74" fill="#e8b050" opacity="0.70"/><circle cx="206.0" cy="132.1" r="0.80" fill="#e8b050" opacity="0.90"/><circle cx="169.7" cy="99.9" r="0.77" fill="#e8b050" opacity="0.64"/><circle cx="126.7" cy="163.7" r="0.90" fill="#e8b050" opacity="0.64"/><circle cx="150.2" cy="121.7" r="1.07" fill="#e8b050" opacity="0.81"/></g><ellipse cx="143.9" cy="104.1" rx="0.48" ry="0.44" transform="rotate(84 143.9 104.1)" fill="#7e6cb4" opacity="0.61"/><ellipse cx="135.8" cy="132.9" rx="0.67" ry="0.49" transform="rotate(178 135.8 132.9)" fill="#9478bc" opacity="0.53"/><ellipse cx="142.1" cy="103.4" rx="0.54" ry="0.36" transform="rotate(16 142.1 103.4)" fill="#9474c0" opacity="0.51"/><ellipse cx="136.4" cy="153.4" rx="0.64" ry="0.54" transform="rotate(160 136.4 153.4)" fill="#9474c0" opacity="0.61"/><ellipse cx="129.1" cy="135.8" rx="0.66" ry="0.63" transform="rotate(44 129.1 135.8)" fill="#9474c0" opacity="0.67"/><ellipse cx="150.7" cy="151.3" rx="1.07" ry="0.66" transform="rotate(142 150.7 151.3)" fill="#8a70b8" opacity="0.54"/><ellipse cx="124.7" cy="149.8" rx="0.69" ry="0.57" transform="rotate(25 124.7 149.8)" fill="#9478bc" opacity="0.49"/><ellipse cx="138.6" cy="111.7" rx="0.96" ry="0.73" transform="rotate(90 138.6 111.7)" fill="#8a70b8" opacity="0.69"/><ellipse cx="133.3" cy="152.5" rx="1.02" ry="0.67" transform="rotate(106 133.3 152.5)" fill="#a07cb8" opacity="0.71"/><ellipse cx="158.6" cy="152.3" rx="0.94" ry="0.68" transform="rotate(118 158.6 152.3)" fill="#7e6cb4" opacity="0.68"/><ellipse cx="142.2" cy="136.4" rx="0.97" ry="0.67" transform="rotate(128 142.2 136.4)" fill="#9474c0" opacity="0.73"/><ellipse cx="154.9" cy="149.5" rx="0.79" ry="0.63" transform="rotate(16 154.9 149.5)" fill="#7e6cb4" opacity="0.70"/><ellipse cx="172.0" cy="153.0" rx="0.54" ry="0.33" transform="rotate(158 172.0 153.0)" fill="#a07cb8" opacity="0.63"/><ellipse cx="161.9" cy="124.5" rx="0.52" ry="0.42" transform="rotate(152 161.9 124.5)" fill="#9474c0" opacity="0.51"/><ellipse cx="144.8" cy="144.0" rx="0.85" ry="0.59" transform="rotate(7 144.8 144.0)" fill="#9478bc" opacity="0.48"/><ellipse cx="155.1" cy="130.5" rx="0.80" ry="0.52" transform="rotate(29 155.1 130.5)" fill="#9474c0" opacity="0.50"/><ellipse cx="143.1" cy="120.6" rx="0.66" ry="0.61" transform="rotate(136 143.1 120.6)" fill="#9474c0" opacity="0.65"/><ellipse cx="143.3" cy="124.9" rx="0.61" ry="0.50" transform="rotate(119 143.3 124.9)" fill="#7e6cb4" opacity="0.75"/><ellipse cx="152.6" cy="162.4" rx="0.88" ry="0.68" transform="rotate(135 152.6 162.4)" fill="#8a70b8" opacity="0.62"/><ellipse cx="124.9" cy="118.8" rx="0.98" ry="0.71" transform="rotate(104 124.9 118.8)" fill="#7e6cb4" opacity="0.49"/><ellipse cx="125.9" cy="123.3" rx="0.72" ry="0.63" transform="rotate(139 125.9 123.3)" fill="#7e6cb4" opacity="0.64"/><ellipse cx="124.2" cy="133.7" rx="0.59" ry="0.36" transform="rotate(65 124.2 133.7)" fill="#a07cb8" opacity="0.60"/><ellipse cx="163.6" cy="100.2" rx="1.04" ry="0.66" transform="rotate(29 163.6 100.2)" fill="#9478bc" opacity="0.61"/><ellipse cx="126.5" cy="116.9" rx="1.08" ry="0.69" transform="rotate(85 126.5 116.9)" fill="#9478bc" opacity="0.53"/><ellipse cx="156.3" cy="107.7" rx="0.49" ry="0.37" transform="rotate(101 156.3 107.7)" fill="#7e6cb4" opacity="0.68"/><ellipse cx="152.5" cy="158.5" rx="0.67" ry="0.45" transform="rotate(7 152.5 158.5)" fill="#8a70b8" opacity="0.52"/><ellipse cx="142.4" cy="101.7" rx="0.91" ry="0.63" transform="rotate(167 142.4 101.7)" fill="#a07cb8" opacity="0.71"/><ellipse cx="135.9" cy="108.8" rx="0.81" ry="0.65" transform="rotate(169 135.9 108.8)" fill="#8a70b8" opacity="0.69"/><ellipse cx="150.5" cy="101.4" rx="0.74" ry="0.54" transform="rotate(73 150.5 101.4)" fill="#9474c0" opacity="0.65"/><ellipse cx="170.2" cy="115.3" rx="0.92" ry="0.64" transform="rotate(136 170.2 115.3)" fill="#9478bc" opacity="0.49"/><ellipse cx="164.0" cy="157.2" rx="0.74" ry="0.69" transform="rotate(127 164.0 157.2)" fill="#a07cb8" opacity="0.72"/><ellipse cx="127.7" cy="137.4" rx="0.57" ry="0.48" transform="rotate(65 127.7 137.4)" fill="#9478bc" opacity="0.73"/><ellipse cx="124.0" cy="131.7" rx="0.99" ry="0.71" transform="rotate(25 124.0 131.7)" fill="#9478bc" opacity="0.44"/><ellipse cx="145.1" cy="101.0" rx="0.83" ry="0.54" transform="rotate(20 145.1 101.0)" fill="#8a70b8" opacity="0.45"/><ellipse cx="140.9" cy="139.2" rx="0.65" ry="0.48" transform="rotate(148 140.9 139.2)" fill="#9474c0" opacity="0.51"/><ellipse cx="145.7" cy="162.3" rx="0.70" ry="0.69" transform="rotate(91 145.7 162.3)" fill="#9478bc" opacity="0.69"/><ellipse cx="157.6" cy="101.2" rx="0.80" ry="0.65" transform="rotate(172 157.6 101.2)" fill="#9474c0" opacity="0.48"/><ellipse cx="156.4" cy="141.7" rx="0.47" ry="0.39" transform="rotate(178 156.4 141.7)" fill="#7e6cb4" opacity="0.75"/><ellipse cx="128.0" cy="129.0" rx="0.66" ry="0.55" transform="rotate(34 128.0 129.0)" fill="#9474c0" opacity="0.59"/><ellipse cx="155.8" cy="115.9" rx="0.92" ry="0.61" transform="rotate(142 155.8 115.9)" fill="#9474c0" opacity="0.45"/><ellipse cx="151.7" cy="125.0" rx="0.76" ry="0.62" transform="rotate(29 151.7 125.0)" fill="#9474c0" opacity="0.52"/><ellipse cx="125.7" cy="108.7" rx="0.88" ry="0.72" transform="rotate(154 125.7 108.7)" fill="#a07cb8" opacity="0.69"/><ellipse cx="152.6" cy="156.2" rx="0.51" ry="0.39" transform="rotate(148 152.6 156.2)" fill="#7e6cb4" opacity="0.69"/><ellipse cx="132.8" cy="104.3" rx="0.76" ry="0.54" transform="rotate(169 132.8 104.3)" fill="#9478bc" opacity="0.55"/><ellipse cx="138.2" cy="115.6" rx="0.83" ry="0.52" transform="rotate(79 138.2 115.6)" fill="#a07cb8" opacity="0.49"/><ellipse cx="133.6" cy="104.4" rx="0.82" ry="0.53" transform="rotate(141 133.6 104.4)" fill="#8a70b8" opacity="0.44"/><ellipse cx="161.0" cy="99.9" rx="0.70" ry="0.58" transform="rotate(101 161.0 99.9)" fill="#8a70b8" opacity="0.71"/><ellipse cx="160.8" cy="148.5" rx="0.45" ry="0.37" transform="rotate(19 160.8 148.5)" fill="#9478bc" opacity="0.73"/><ellipse cx="160.3" cy="136.2" rx="0.85" ry="0.62" transform="rotate(129 160.3 136.2)" fill="#a07cb8" opacity="0.68"/><ellipse cx="161.4" cy="156.0" rx="0.45" ry="0.43" transform="rotate(43 161.4 156.0)" fill="#a07cb8" opacity="0.63"/><ellipse cx="155.0" cy="149.8" rx="0.90" ry="0.56" transform="rotate(36 155.0 149.8)" fill="#8a70b8" opacity="0.52"/><ellipse cx="122.1" cy="128.3" rx="0.80" ry="0.78" transform="rotate(100 122.1 128.3)" fill="#9478bc" opacity="0.69"/><ellipse cx="161.3" cy="129.1" rx="0.94" ry="0.62" transform="rotate(29 161.3 129.1)" fill="#8a70b8" opacity="0.50"/><ellipse cx="165.0" cy="104.1" rx="0.77" ry="0.76" transform="rotate(117 165.0 104.1)" fill="#8a70b8" opacity="0.46"/><ellipse cx="129.2" cy="134.6" rx="0.74" ry="0.72" transform="rotate(98 129.2 134.6)" fill="#9474c0" opacity="0.46"/><ellipse cx="146.4" cy="123.6" rx="0.85" ry="0.64" transform="rotate(151 146.4 123.6)" fill="#8a70b8" opacity="0.50"/><ellipse cx="139.5" cy="144.4" rx="0.70" ry="0.66" transform="rotate(94 139.5 144.4)" fill="#8a70b8" opacity="0.64"/><ellipse cx="145.0" cy="117.7" rx="0.78" ry="0.52" transform="rotate(1 145.0 117.7)" fill="#9474c0" opacity="0.75"/><ellipse cx="128.3" cy="104.6" rx="0.90" ry="0.54" transform="rotate(166 128.3 104.6)" fill="#9474c0" opacity="0.56"/><ellipse cx="170.3" cy="111.1" rx="0.94" ry="0.61" transform="rotate(129 170.3 111.1)" fill="#8a70b8" opacity="0.73"/><ellipse cx="124.6" cy="142.6" rx="0.79" ry="0.49" transform="rotate(80 124.6 142.6)" fill="#8a70b8" opacity="0.50"/><ellipse cx="151.3" cy="118.7" rx="0.77" ry="0.50" transform="rotate(179 151.3 118.7)" fill="#a07cb8" opacity="0.68"/><ellipse cx="156.6" cy="98.4" rx="1.00" ry="0.67" transform="rotate(43 156.6 98.4)" fill="#7e6cb4" opacity="0.44"/><ellipse cx="150.8" cy="102.3" rx="0.46" ry="0.38" transform="rotate(12 150.8 102.3)" fill="#7e6cb4" opacity="0.58"/><ellipse cx="132.2" cy="127.7" rx="0.56" ry="0.35" transform="rotate(168 132.2 127.7)" fill="#9474c0" opacity="0.52"/><ellipse cx="165.6" cy="149.0" rx="0.90" ry="0.57" transform="rotate(2 165.6 149.0)" fill="#9478bc" opacity="0.53"/><ellipse cx="143.9" cy="145.0" rx="0.50" ry="0.45" transform="rotate(171 143.9 145.0)" fill="#a07cb8" opacity="0.64"/><ellipse cx="145.9" cy="123.2" rx="0.86" ry="0.76" transform="rotate(47 145.9 123.2)" fill="#8a70b8" opacity="0.66"/><ellipse cx="147.5" cy="101.3" rx="0.48" ry="0.36" transform="rotate(130 147.5 101.3)" fill="#7e6cb4" opacity="0.46"/><ellipse cx="143.4" cy="123.5" rx="0.55" ry="0.43" transform="rotate(58 143.4 123.5)" fill="#8a70b8" opacity="0.72"/><ellipse cx="139.3" cy="123.0" rx="0.55" ry="0.39" transform="rotate(50 139.3 123.0)" fill="#9478bc" opacity="0.70"/><ellipse cx="122.8" cy="109.7" rx="0.50" ry="0.43" transform="rotate(8 122.8 109.7)" fill="#9474c0" opacity="0.54"/><ellipse cx="143.3" cy="103.0" rx="0.56" ry="0.36" transform="rotate(23 143.3 103.0)" fill="#7e6cb4" opacity="0.44"/><ellipse cx="133.6" cy="149.8" rx="0.73" ry="0.47" transform="rotate(164 133.6 149.8)" fill="#9474c0" opacity="0.65"/><ellipse cx="135.9" cy="148.0" rx="0.53" ry="0.35" transform="rotate(154 135.9 148.0)" fill="#9478bc" opacity="0.72"/><ellipse cx="142.2" cy="156.8" rx="0.52" ry="0.34" transform="rotate(42 142.2 156.8)" fill="#8a70b8" opacity="0.65"/><ellipse cx="124.5" cy="126.4" rx="0.61" ry="0.57" transform="rotate(86 124.5 126.4)" fill="#a07cb8" opacity="0.47"/><ellipse cx="136.6" cy="112.5" rx="0.52" ry="0.41" transform="rotate(43 136.6 112.5)" fill="#8a70b8" opacity="0.53"/><ellipse cx="150.4" cy="100.8" rx="0.80" ry="0.51" transform="rotate(173 150.4 100.8)" fill="#9478bc" opacity="0.62"/><ellipse cx="136.3" cy="154.9" rx="0.59" ry="0.36" transform="rotate(141 136.3 154.9)" fill="#7e6cb4" opacity="0.59"/><ellipse cx="133.1" cy="151.1" rx="0.49" ry="0.40" transform="rotate(22 133.1 151.1)" fill="#7e6cb4" opacity="0.65"/><ellipse cx="122.9" cy="140.7" rx="0.41" ry="0.40" transform="rotate(117 122.9 140.7)" fill="#a07cb8" opacity="0.66"/><ellipse cx="152.6" cy="123.0" rx="0.60" ry="0.49" transform="rotate(162 152.6 123.0)" fill="#8a70b8" opacity="0.71"/><ellipse cx="137.3" cy="112.2" rx="1.03" ry="0.67" transform="rotate(51 137.3 112.2)" fill="#8a70b8" opacity="0.58"/><ellipse cx="148.4" cy="110.4" rx="0.55" ry="0.34" transform="rotate(42 148.4 110.4)" fill="#9478bc" opacity="0.44"/><ellipse cx="162.1" cy="131.3" rx="0.65" ry="0.57" transform="rotate(150 162.1 131.3)" fill="#9478bc" opacity="0.64"/><ellipse cx="139.0" cy="164.0" rx="0.52" ry="0.47" transform="rotate(74 139.0 164.0)" fill="#7e6cb4" opacity="0.45"/><ellipse cx="142.0" cy="153.1" rx="0.90" ry="0.66" transform="rotate(128 142.0 153.1)" fill="#9474c0" opacity="0.59"/><ellipse cx="133.6" cy="113.1" rx="1.11" ry="0.67" transform="rotate(24 133.6 113.1)" fill="#9478bc" opacity="0.73"/><ellipse cx="149.0" cy="147.5" rx="0.67" ry="0.52" transform="rotate(74 149.0 147.5)" fill="#8a70b8" opacity="0.63"/><ellipse cx="123.5" cy="116.4" rx="0.97" ry="0.73" transform="rotate(153 123.5 116.4)" fill="#9478bc" opacity="0.57"/><ellipse cx="131.8" cy="113.3" rx="0.88" ry="0.54" transform="rotate(35 131.8 113.3)" fill="#7e6cb4" opacity="0.73"/><ellipse cx="128.4" cy="157.1" rx="0.54" ry="0.43" transform="rotate(172 128.4 157.1)" fill="#7e6cb4" opacity="0.65"/><ellipse cx="143.6" cy="152.1" rx="0.47" ry="0.39" transform="rotate(166 143.6 152.1)" fill="#a07cb8" opacity="0.51"/><ellipse cx="159.4" cy="119.8" rx="0.90" ry="0.75" transform="rotate(175 159.4 119.8)" fill="#9478bc" opacity="0.59"/><ellipse cx="133.3" cy="147.1" rx="0.90" ry="0.60" transform="rotate(23 133.3 147.1)" fill="#a07cb8" opacity="0.65"/><ellipse cx="140.7" cy="111.4" rx="0.50" ry="0.36" transform="rotate(116 140.7 111.4)" fill="#9478bc" opacity="0.72"/><ellipse cx="161.4" cy="127.4" rx="0.73" ry="0.57" transform="rotate(32 161.4 127.4)" fill="#7e6cb4" opacity="0.67"/><ellipse cx="162.5" cy="98.2" rx="0.57" ry="0.41" transform="rotate(53 162.5 98.2)" fill="#7e6cb4" opacity="0.48"/><ellipse cx="127.4" cy="127.5" rx="0.72" ry="0.71" transform="rotate(96 127.4 127.5)" fill="#8a70b8" opacity="0.50"/><ellipse cx="122.4" cy="108.6" rx="0.53" ry="0.34" transform="rotate(141 122.4 108.6)" fill="#9478bc" opacity="0.50"/><ellipse cx="141.9" cy="98.6" rx="0.48" ry="0.40" transform="rotate(94 141.9 98.6)" fill="#9478bc" opacity="0.49"/><ellipse cx="148.9" cy="125.0" rx="0.55" ry="0.47" transform="rotate(48 148.9 125.0)" fill="#8a70b8" opacity="0.74"/><ellipse cx="127.3" cy="100.5" rx="0.53" ry="0.41" transform="rotate(34 127.3 100.5)" fill="#7e6cb4" opacity="0.55"/><ellipse cx="134.9" cy="143.4" rx="0.71" ry="0.68" transform="rotate(85 134.9 143.4)" fill="#9478bc" opacity="0.54"/><ellipse cx="127.5" cy="107.2" rx="0.63" ry="0.56" transform="rotate(17 127.5 107.2)" fill="#a07cb8" opacity="0.69"/><ellipse cx="138.2" cy="136.0" rx="0.79" ry="0.60" transform="rotate(94 138.2 136.0)" fill="#9478bc" opacity="0.68"/><ellipse cx="149.9" cy="100.8" rx="0.50" ry="0.36" transform="rotate(124 149.9 100.8)" fill="#9474c0" opacity="0.53"/><ellipse cx="148.1" cy="141.4" rx="0.52" ry="0.43" transform="rotate(127 148.1 141.4)" fill="#9478bc" opacity="0.59"/><ellipse cx="155.3" cy="132.0" rx="0.73" ry="0.71" transform="rotate(92 155.3 132.0)" fill="#7e6cb4" opacity="0.47"/><ellipse cx="134.7" cy="159.4" rx="0.77" ry="0.51" transform="rotate(129 134.7 159.4)" fill="#9478bc" opacity="0.54"/><ellipse cx="148.1" cy="102.0" rx="0.72" ry="0.62" transform="rotate(120 148.1 102.0)" fill="#a07cb8" opacity="0.59"/><ellipse cx="140.6" cy="118.3" rx="0.91" ry="0.60" transform="rotate(130 140.6 118.3)" fill="#7e6cb4" opacity="0.61"/><ellipse cx="148.4" cy="100.4" rx="0.57" ry="0.37" transform="rotate(170 148.4 100.4)" fill="#7e6cb4" opacity="0.48"/><ellipse cx="168.8" cy="101.2" rx="0.51" ry="0.36" transform="rotate(61 168.8 101.2)" fill="#8a70b8" opacity="0.71"/><ellipse cx="165.7" cy="106.7" rx="0.94" ry="0.59" transform="rotate(121 165.7 106.7)" fill="#8a70b8" opacity="0.45"/><ellipse cx="142.1" cy="122.9" rx="0.76" ry="0.66" transform="rotate(175 142.1 122.9)" fill="#7e6cb4" opacity="0.48"/><ellipse cx="131.8" cy="114.4" rx="1.06" ry="0.65" transform="rotate(109 131.8 114.4)" fill="#a07cb8" opacity="0.59"/><ellipse cx="146.3" cy="128.2" rx="0.96" ry="0.60" transform="rotate(88 146.3 128.2)" fill="#9478bc" opacity="0.68"/><ellipse cx="124.3" cy="131.4" rx="0.73" ry="0.66" transform="rotate(134 124.3 131.4)" fill="#9474c0" opacity="0.54"/><ellipse cx="150.7" cy="109.6" rx="0.74" ry="0.74" transform="rotate(137 150.7 109.6)" fill="#9478bc" opacity="0.62"/><ellipse cx="172.9" cy="157.3" rx="0.58" ry="0.50" transform="rotate(66 172.9 157.3)" fill="#7e6cb4" opacity="0.70"/><ellipse cx="153.5" cy="120.6" rx="0.55" ry="0.39" transform="rotate(136 153.5 120.6)" fill="#9478bc" opacity="0.44"/><ellipse cx="134.6" cy="117.6" rx="0.56" ry="0.51" transform="rotate(97 134.6 117.6)" fill="#a07cb8" opacity="0.71"/><ellipse cx="150.3" cy="152.0" rx="0.79" ry="0.73" transform="rotate(169 150.3 152.0)" fill="#7e6cb4" opacity="0.72"/><ellipse cx="126.0" cy="155.3" rx="0.69" ry="0.54" transform="rotate(135 126.0 155.3)" fill="#7e6cb4" opacity="0.59"/><ellipse cx="127.4" cy="104.9" rx="0.79" ry="0.76" transform="rotate(12 127.4 104.9)" fill="#8a70b8" opacity="0.51"/><ellipse cx="155.8" cy="150.8" rx="0.71" ry="0.45" transform="rotate(132 155.8 150.8)" fill="#9474c0" opacity="0.59"/><ellipse cx="148.2" cy="155.6" rx="0.59" ry="0.37" transform="rotate(12 148.2 155.6)" fill="#9474c0" opacity="0.76"/><ellipse cx="159.5" cy="97.8" rx="0.56" ry="0.45" transform="rotate(173 159.5 97.8)" fill="#9478bc" opacity="0.56"/><ellipse cx="124.9" cy="136.6" rx="0.74" ry="0.67" transform="rotate(52 124.9 136.6)" fill="#a07cb8" opacity="0.76"/><ellipse cx="152.8" cy="160.1" rx="0.49" ry="0.44" transform="rotate(54 152.8 160.1)" fill="#8a70b8" opacity="0.74"/><ellipse cx="149.6" cy="146.1" rx="0.84" ry="0.53" transform="rotate(109 149.6 146.1)" fill="#9474c0" opacity="0.44"/><ellipse cx="153.8" cy="152.7" rx="0.56" ry="0.42" transform="rotate(137 153.8 152.7)" fill="#8a70b8" opacity="0.73"/><ellipse cx="139.4" cy="98.6" rx="1.06" ry="0.66" transform="rotate(101 139.4 98.6)" fill="#9478bc" opacity="0.60"/><ellipse cx="134.1" cy="139.3" rx="0.71" ry="0.51" transform="rotate(42 134.1 139.3)" fill="#9474c0" opacity="0.66"/><ellipse cx="140.2" cy="139.1" rx="0.76" ry="0.69" transform="rotate(141 140.2 139.1)" fill="#7e6cb4" opacity="0.73"/><ellipse cx="167.2" cy="112.5" rx="0.53" ry="0.47" transform="rotate(105 167.2 112.5)" fill="#9478bc" opacity="0.73"/><ellipse cx="127.8" cy="150.4" rx="0.49" ry="0.43" transform="rotate(98 127.8 150.4)" fill="#a07cb8" opacity="0.49"/><ellipse cx="156.3" cy="145.4" rx="0.57" ry="0.45" transform="rotate(56 156.3 145.4)" fill="#a07cb8" opacity="0.55"/><ellipse cx="157.1" cy="153.3" rx="0.76" ry="0.59" transform="rotate(36 157.1 153.3)" fill="#a07cb8" opacity="0.74"/><ellipse cx="128.2" cy="144.0" rx="0.64" ry="0.53" transform="rotate(127 128.2 144.0)" fill="#7e6cb4" opacity="0.67"/><ellipse cx="155.5" cy="118.9" rx="0.56" ry="0.45" transform="rotate(33 155.5 118.9)" fill="#9478bc" opacity="0.62"/><ellipse cx="131.7" cy="157.1" rx="0.47" ry="0.37" transform="rotate(49 131.7 157.1)" fill="#7e6cb4" opacity="0.70"/><ellipse cx="165.8" cy="98.3" rx="0.86" ry="0.66" transform="rotate(60 165.8 98.3)" fill="#7e6cb4" opacity="0.64"/><ellipse cx="154.5" cy="137.8" rx="0.51" ry="0.49" transform="rotate(146 154.5 137.8)" fill="#7e6cb4" opacity="0.70"/><ellipse cx="146.2" cy="130.2" rx="0.56" ry="0.54" transform="rotate(145 146.2 130.2)" fill="#8a70b8" opacity="0.50"/><ellipse cx="134.3" cy="112.3" rx="0.61" ry="0.45" transform="rotate(166 134.3 112.3)" fill="#8a70b8" opacity="0.74"/><ellipse cx="129.5" cy="159.0" rx="0.54" ry="0.44" transform="rotate(17 129.5 159.0)" fill="#a07cb8" opacity="0.71"/><ellipse cx="126.7" cy="105.3" rx="0.73" ry="0.67" transform="rotate(33 126.7 105.3)" fill="#9478bc" opacity="0.48"/><ellipse cx="173.2" cy="142.1" rx="0.63" ry="0.50" transform="rotate(80 173.2 142.1)" fill="#a07cb8" opacity="0.54"/><ellipse cx="162.6" cy="98.6" rx="0.82" ry="0.75" transform="rotate(63 162.6 98.6)" fill="#9478bc" opacity="0.50"/><ellipse cx="155.3" cy="160.2" rx="0.93" ry="0.71" transform="rotate(124 155.3 160.2)" fill="#9474c0" opacity="0.61"/><ellipse cx="135.2" cy="140.3" rx="1.04" ry="0.67" transform="rotate(65 135.2 140.3)" fill="#9474c0" opacity="0.74"/><ellipse cx="170.2" cy="133.6" rx="1.00" ry="0.65" transform="rotate(8 170.2 133.6)" fill="#8a70b8" opacity="0.60"/><ellipse cx="158.0" cy="102.5" rx="0.71" ry="0.44" transform="rotate(16 158.0 102.5)" fill="#9474c0" opacity="0.58"/><ellipse cx="131.5" cy="155.4" rx="0.82" ry="0.64" transform="rotate(66 131.5 155.4)" fill="#7e6cb4" opacity="0.47"/><ellipse cx="125.0" cy="152.9" rx="0.48" ry="0.39" transform="rotate(166 125.0 152.9)" fill="#7e6cb4" opacity="0.53"/><ellipse cx="170.0" cy="151.2" rx="0.80" ry="0.50" transform="rotate(85 170.0 151.2)" fill="#7e6cb4" opacity="0.57"/><ellipse cx="132.0" cy="147.2" rx="0.91" ry="0.58" transform="rotate(133 132.0 147.2)" fill="#8a70b8" opacity="0.63"/><ellipse cx="159.4" cy="98.7" rx="0.90" ry="0.65" transform="rotate(158 159.4 98.7)" fill="#8a70b8" opacity="0.51"/><ellipse cx="128.8" cy="116.5" rx="0.84" ry="0.57" transform="rotate(116 128.8 116.5)" fill="#9478bc" opacity="0.65"/><ellipse cx="127.1" cy="107.8" rx="0.63" ry="0.47" transform="rotate(154 127.1 107.8)" fill="#8a70b8" opacity="0.64"/><ellipse cx="159.3" cy="103.6" rx="0.80" ry="0.70" transform="rotate(83 159.3 103.6)" fill="#8a70b8" opacity="0.68"/><ellipse cx="135.5" cy="142.8" rx="0.76" ry="0.48" transform="rotate(85 135.5 142.8)" fill="#9478bc" opacity="0.73"/><ellipse cx="163.8" cy="162.3" rx="0.74" ry="0.45" transform="rotate(177 163.8 162.3)" fill="#8a70b8" opacity="0.56"/><ellipse cx="133.8" cy="136.0" rx="0.72" ry="0.48" transform="rotate(57 133.8 136.0)" fill="#9474c0" opacity="0.50"/><ellipse cx="160.5" cy="161.1" rx="0.75" ry="0.47" transform="rotate(36 160.5 161.1)" fill="#7e6cb4" opacity="0.59"/><ellipse cx="137.8" cy="109.8" rx="0.69" ry="0.69" transform="rotate(100 137.8 109.8)" fill="#9474c0" opacity="0.46"/><ellipse cx="139.3" cy="131.0" rx="1.02" ry="0.64" transform="rotate(179 139.3 131.0)" fill="#8a70b8" opacity="0.66"/><ellipse cx="126.1" cy="125.6" rx="0.63" ry="0.48" transform="rotate(63 126.1 125.6)" fill="#9474c0" opacity="0.66"/><ellipse cx="170.1" cy="163.2" rx="0.54" ry="0.46" transform="rotate(158 170.1 163.2)" fill="#9478bc" opacity="0.74"/><ellipse cx="165.3" cy="118.7" rx="0.75" ry="0.49" transform="rotate(177 165.3 118.7)" fill="#8a70b8" opacity="0.46"/><ellipse cx="131.3" cy="147.0" rx="0.46" ry="0.45" transform="rotate(5 131.3 147.0)" fill="#7e6cb4" opacity="0.72"/><ellipse cx="126.6" cy="125.6" rx="0.67" ry="0.50" transform="rotate(65 126.6 125.6)" fill="#7e6cb4" opacity="0.67"/><ellipse cx="135.3" cy="107.0" rx="0.89" ry="0.66" transform="rotate(17 135.3 107.0)" fill="#9478bc" opacity="0.54"/><ellipse cx="163.7" cy="128.0" rx="0.76" ry="0.67" transform="rotate(136 163.7 128.0)" fill="#9478bc" opacity="0.58"/><ellipse cx="142.3" cy="152.2" rx="0.50" ry="0.40" transform="rotate(86 142.3 152.2)" fill="#a07cb8" opacity="0.63"/><ellipse cx="125.5" cy="162.4" rx="0.42" ry="0.41" transform="rotate(167 125.5 162.4)" fill="#9474c0" opacity="0.52"/><ellipse cx="138.7" cy="114.4" rx="0.83" ry="0.66" transform="rotate(56 138.7 114.4)" fill="#7e6cb4" opacity="0.65"/><ellipse cx="135.0" cy="117.5" rx="0.83" ry="0.75" transform="rotate(8 135.0 117.5)" fill="#9474c0" opacity="0.58"/><ellipse cx="132.3" cy="153.8" rx="0.46" ry="0.45" transform="rotate(9 132.3 153.8)" fill="#8a70b8" opacity="0.53"/><ellipse cx="156.0" cy="112.3" rx="0.68" ry="0.43" transform="rotate(1 156.0 112.3)" fill="#a07cb8" opacity="0.47"/><ellipse cx="140.7" cy="123.7" rx="0.48" ry="0.40" transform="rotate(48 140.7 123.7)" fill="#7e6cb4" opacity="0.76"/><ellipse cx="127.9" cy="133.4" rx="0.99" ry="0.69" transform="rotate(46 127.9 133.4)" fill="#8a70b8" opacity="0.56"/><ellipse cx="130.3" cy="159.0" rx="0.77" ry="0.50" transform="rotate(85 130.3 159.0)" fill="#8a70b8" opacity="0.74"/><ellipse cx="133.9" cy="129.4" rx="0.95" ry="0.58" transform="rotate(8 133.9 129.4)" fill="#9478bc" opacity="0.63"/><ellipse cx="149.1" cy="100.6" rx="0.93" ry="0.60" transform="rotate(73 149.1 100.6)" fill="#7e6cb4" opacity="0.49"/><ellipse cx="137.1" cy="105.8" rx="0.61" ry="0.55" transform="rotate(157 137.1 105.8)" fill="#9478bc" opacity="0.64"/><ellipse cx="125.6" cy="120.7" rx="1.05" ry="0.71" transform="rotate(101 125.6 120.7)" fill="#7e6cb4" opacity="0.71"/><ellipse cx="148.1" cy="110.7" rx="0.55" ry="0.40" transform="rotate(40 148.1 110.7)" fill="#7e6cb4" opacity="0.60"/><ellipse cx="145.3" cy="130.7" rx="0.69" ry="0.51" transform="rotate(50 145.3 130.7)" fill="#9474c0" opacity="0.50"/><ellipse cx="165.5" cy="113.7" rx="0.68" ry="0.57" transform="rotate(149 165.5 113.7)" fill="#a07cb8" opacity="0.61"/><ellipse cx="124.7" cy="114.2" rx="0.87" ry="0.60" transform="rotate(82 124.7 114.2)" fill="#a07cb8" opacity="0.72"/><ellipse cx="129.2" cy="121.1" rx="0.94" ry="0.66" transform="rotate(114 129.2 121.1)" fill="#a07cb8" opacity="0.65"/><ellipse cx="152.3" cy="99.2" rx="0.67" ry="0.59" transform="rotate(61 152.3 99.2)" fill="#7e6cb4" opacity="0.70"/><ellipse cx="131.1" cy="150.3" rx="0.81" ry="0.51" transform="rotate(8 131.1 150.3)" fill="#7e6cb4" opacity="0.50"/><ellipse cx="133.0" cy="119.7" rx="0.89" ry="0.75" transform="rotate(175 133.0 119.7)" fill="#7e6cb4" opacity="0.57"/><ellipse cx="137.4" cy="107.6" rx="1.05" ry="0.67" transform="rotate(160 137.4 107.6)" fill="#9478bc" opacity="0.55"/><ellipse cx="157.9" cy="109.9" rx="0.61" ry="0.52" transform="rotate(92 157.9 109.9)" fill="#8a70b8" opacity="0.48"/><ellipse cx="154.9" cy="109.5" rx="0.79" ry="0.66" transform="rotate(122 154.9 109.5)" fill="#8a70b8" opacity="0.68"/><ellipse cx="138.8" cy="154.3" rx="0.66" ry="0.42" transform="rotate(22 138.8 154.3)" fill="#9474c0" opacity="0.69"/><ellipse cx="170.0" cy="131.6" rx="0.46" ry="0.41" transform="rotate(56 170.0 131.6)" fill="#a07cb8" opacity="0.48"/><ellipse cx="157.0" cy="121.3" rx="0.59" ry="0.38" transform="rotate(44 157.0 121.3)" fill="#a07cb8" opacity="0.52"/><ellipse cx="126.6" cy="122.5" rx="0.80" ry="0.59" transform="rotate(70 126.6 122.5)" fill="#9474c0" opacity="0.71"/><ellipse cx="129.6" cy="127.9" rx="0.42" ry="0.38" transform="rotate(1 129.6 127.9)" fill="#8a70b8" opacity="0.73"/><ellipse cx="156.5" cy="127.5" rx="0.57" ry="0.52" transform="rotate(92 156.5 127.5)" fill="#7e6cb4" opacity="0.75"/><ellipse cx="163.5" cy="121.9" rx="0.54" ry="0.45" transform="rotate(111 163.5 121.9)" fill="#a07cb8" opacity="0.55"/><ellipse cx="149.6" cy="153.6" rx="0.57" ry="0.57" transform="rotate(180 149.6 153.6)" fill="#7e6cb4" opacity="0.51"/><ellipse cx="138.6" cy="132.6" rx="0.59" ry="0.46" transform="rotate(150 138.6 132.6)" fill="#9478bc" opacity="0.69"/><ellipse cx="153.5" cy="146.1" rx="0.61" ry="0.43" transform="rotate(89 153.5 146.1)" fill="#7e6cb4" opacity="0.66"/><ellipse cx="161.7" cy="110.2" rx="0.83" ry="0.59" transform="rotate(25 161.7 110.2)" fill="#9478bc" opacity="0.52"/><ellipse cx="148.4" cy="133.9" rx="0.66" ry="0.56" transform="rotate(54 148.4 133.9)" fill="#9474c0" opacity="0.48"/><ellipse cx="138.9" cy="162.2" rx="1.02" ry="0.69" transform="rotate(58 138.9 162.2)" fill="#9478bc" opacity="0.65"/><ellipse cx="132.6" cy="154.1" rx="0.78" ry="0.55" transform="rotate(19 132.6 154.1)" fill="#9478bc" opacity="0.70"/><ellipse cx="173.4" cy="99.2" rx="1.07" ry="0.69" transform="rotate(32 173.4 99.2)" fill="#9478bc" opacity="0.53"/><ellipse cx="139.1" cy="157.2" rx="0.55" ry="0.34" transform="rotate(4 139.1 157.2)" fill="#7e6cb4" opacity="0.56"/><ellipse cx="129.3" cy="110.7" rx="0.65" ry="0.64" transform="rotate(11 129.3 110.7)" fill="#7e6cb4" opacity="0.62"/><ellipse cx="146.1" cy="117.6" rx="0.90" ry="0.58" transform="rotate(26 146.1 117.6)" fill="#a07cb8" opacity="0.64"/><ellipse cx="160.3" cy="110.2" rx="0.65" ry="0.45" transform="rotate(71 160.3 110.2)" fill="#9474c0" opacity="0.52"/><ellipse cx="140.8" cy="111.6" rx="0.65" ry="0.50" transform="rotate(112 140.8 111.6)" fill="#9474c0" opacity="0.55"/><ellipse cx="155.7" cy="107.7" rx="1.01" ry="0.68" transform="rotate(77 155.7 107.7)" fill="#a07cb8" opacity="0.49"/><ellipse cx="137.5" cy="162.0" rx="1.05" ry="0.69" transform="rotate(17 137.5 162.0)" fill="#9478bc" opacity="0.55"/><ellipse cx="145.2" cy="139.6" rx="0.62" ry="0.52" transform="rotate(145 145.2 139.6)" fill="#9474c0" opacity="0.71"/><ellipse cx="133.6" cy="134.0" rx="1.03" ry="0.66" transform="rotate(142 133.6 134.0)" fill="#9478bc" opacity="0.53"/><ellipse cx="130.5" cy="124.6" rx="0.53" ry="0.42" transform="rotate(50 130.5 124.6)" fill="#9478bc" opacity="0.65"/><ellipse cx="130.4" cy="145.4" rx="0.54" ry="0.42" transform="rotate(91 130.4 145.4)" fill="#9474c0" opacity="0.61"/><ellipse cx="125.2" cy="148.4" rx="0.86" ry="0.52" transform="rotate(113 125.2 148.4)" fill="#9478bc" opacity="0.71"/><ellipse cx="151.1" cy="104.0" rx="0.85" ry="0.78" transform="rotate(99 151.1 104.0)" fill="#9478bc" opacity="0.66"/><ellipse cx="142.9" cy="102.6" rx="0.43" ry="0.43" transform="rotate(165 142.9 102.6)" fill="#a07cb8" opacity="0.50"/><ellipse cx="140.7" cy="113.3" rx="0.59" ry="0.55" transform="rotate(135 140.7 113.3)" fill="#9478bc" opacity="0.72"/><ellipse cx="160.0" cy="129.9" rx="0.63" ry="0.43" transform="rotate(74 160.0 129.9)" fill="#7e6cb4" opacity="0.45"/><ellipse cx="128.1" cy="160.5" rx="0.70" ry="0.52" transform="rotate(136 128.1 160.5)" fill="#a07cb8" opacity="0.63"/><ellipse cx="145.1" cy="152.5" rx="0.90" ry="0.67" transform="rotate(83 145.1 152.5)" fill="#9478bc" opacity="0.65"/><ellipse cx="153.0" cy="156.0" rx="0.53" ry="0.34" transform="rotate(85 153.0 156.0)" fill="#a07cb8" opacity="0.64"/><ellipse cx="133.0" cy="117.1" rx="0.81" ry="0.65" transform="rotate(0 133.0 117.1)" fill="#9478bc" opacity="0.49"/><ellipse cx="146.9" cy="122.6" rx="0.64" ry="0.59" transform="rotate(121 146.9 122.6)" fill="#9478bc" opacity="0.55"/><ellipse cx="146.1" cy="150.0" rx="0.80" ry="0.55" transform="rotate(12 146.1 150.0)" fill="#9478bc" opacity="0.48"/><ellipse cx="155.2" cy="130.6" rx="0.53" ry="0.40" transform="rotate(80 155.2 130.6)" fill="#9474c0" opacity="0.59"/><ellipse cx="131.0" cy="159.0" rx="0.63" ry="0.41" transform="rotate(71 131.0 159.0)" fill="#a07cb8" opacity="0.65"/><ellipse cx="125.5" cy="127.1" rx="0.59" ry="0.43" transform="rotate(65 125.5 127.1)" fill="#a07cb8" opacity="0.56"/><ellipse cx="144.9" cy="153.1" rx="0.47" ry="0.37" transform="rotate(165 144.9 153.1)" fill="#8a70b8" opacity="0.45"/><ellipse cx="147.4" cy="136.3" rx="0.50" ry="0.38" transform="rotate(147 147.4 136.3)" fill="#8a70b8" opacity="0.57"/><ellipse cx="129.5" cy="98.8" rx="0.82" ry="0.59" transform="rotate(13 129.5 98.8)" fill="#8a70b8" opacity="0.62"/><ellipse cx="146.3" cy="161.9" rx="0.65" ry="0.63" transform="rotate(134 146.3 161.9)" fill="#7e6cb4" opacity="0.71"/><ellipse cx="130.2" cy="160.3" rx="0.66" ry="0.63" transform="rotate(125 130.2 160.3)" fill="#8a70b8" opacity="0.47"/><ellipse cx="163.7" cy="109.5" rx="0.62" ry="0.46" transform="rotate(115 163.7 109.5)" fill="#9474c0" opacity="0.54"/><ellipse cx="164.8" cy="103.3" rx="0.64" ry="0.49" transform="rotate(91 164.8 103.3)" fill="#7e6cb4" opacity="0.48"/><ellipse cx="143.6" cy="151.6" rx="0.63" ry="0.41" transform="rotate(100 143.6 151.6)" fill="#9474c0" opacity="0.65"/><ellipse cx="128.7" cy="154.8" rx="0.58" ry="0.46" transform="rotate(31 128.7 154.8)" fill="#9474c0" opacity="0.74"/><ellipse cx="137.5" cy="140.0" rx="0.66" ry="0.53" transform="rotate(123 137.5 140.0)" fill="#9478bc" opacity="0.75"/><ellipse cx="138.4" cy="141.7" rx="0.99" ry="0.72" transform="rotate(93 138.4 141.7)" fill="#7e6cb4" opacity="0.57"/><ellipse cx="137.8" cy="160.6" rx="0.96" ry="0.62" transform="rotate(43 137.8 160.6)" fill="#9474c0" opacity="0.59"/><ellipse cx="152.9" cy="150.5" rx="0.79" ry="0.72" transform="rotate(102 152.9 150.5)" fill="#9478bc" opacity="0.49"/><ellipse cx="139.8" cy="119.5" rx="0.61" ry="0.39" transform="rotate(59 139.8 119.5)" fill="#9474c0" opacity="0.51"/><ellipse cx="155.2" cy="97.8" rx="0.69" ry="0.49" transform="rotate(142 155.2 97.8)" fill="#8a70b8" opacity="0.58"/><ellipse cx="129.9" cy="160.3" rx="0.63" ry="0.43" transform="rotate(105 129.9 160.3)" fill="#9474c0" opacity="0.47"/><ellipse cx="164.3" cy="113.5" rx="0.81" ry="0.79" transform="rotate(152 164.3 113.5)" fill="#7e6cb4" opacity="0.62"/><ellipse cx="134.3" cy="123.7" rx="0.63" ry="0.56" transform="rotate(127 134.3 123.7)" fill="#7e6cb4" opacity="0.57"/><ellipse cx="172.3" cy="158.8" rx="0.76" ry="0.57" transform="rotate(91 172.3 158.8)" fill="#7e6cb4" opacity="0.46"/><ellipse cx="125.2" cy="114.0" rx="1.08" ry="0.67" transform="rotate(140 125.2 114.0)" fill="#7e6cb4" opacity="0.65"/><ellipse cx="159.4" cy="127.9" rx="0.56" ry="0.51" transform="rotate(20 159.4 127.9)" fill="#8a70b8" opacity="0.66"/><ellipse cx="139.6" cy="111.0" rx="0.55" ry="0.43" transform="rotate(143 139.6 111.0)" fill="#7e6cb4" opacity="0.76"/><ellipse cx="175.1" cy="108.6" rx="0.47" ry="0.46" transform="rotate(159 175.1 108.6)" fill="#8a70b8" opacity="0.46"/><ellipse cx="141.5" cy="106.3" rx="0.67" ry="0.52" transform="rotate(71 141.5 106.3)" fill="#7e6cb4" opacity="0.54"/><ellipse cx="150.2" cy="97.8" rx="0.49" ry="0.38" transform="rotate(89 150.2 97.8)" fill="#a07cb8" opacity="0.71"/><ellipse cx="153.4" cy="103.6" rx="0.61" ry="0.49" transform="rotate(173 153.4 103.6)" fill="#a07cb8" opacity="0.64"/><ellipse cx="130.2" cy="141.1" rx="0.60" ry="0.56" transform="rotate(108 130.2 141.1)" fill="#9474c0" opacity="0.63"/><ellipse cx="125.8" cy="155.9" rx="0.69" ry="0.43" transform="rotate(45 125.8 155.9)" fill="#8a70b8" opacity="0.70"/><ellipse cx="167.6" cy="159.2" rx="0.98" ry="0.69" transform="rotate(77 167.6 159.2)" fill="#9474c0" opacity="0.70"/><ellipse cx="134.3" cy="146.2" rx="1.06" ry="0.66" transform="rotate(3 134.3 146.2)" fill="#8a70b8" opacity="0.67"/><ellipse cx="148.9" cy="155.7" rx="0.77" ry="0.70" transform="rotate(47 148.9 155.7)" fill="#8a70b8" opacity="0.73"/><ellipse cx="158.9" cy="156.4" rx="0.56" ry="0.41" transform="rotate(139 158.9 156.4)" fill="#a07cb8" opacity="0.50"/><ellipse cx="144.7" cy="130.0" rx="0.56" ry="0.42" transform="rotate(167 144.7 130.0)" fill="#8a70b8" opacity="0.57"/><ellipse cx="127.4" cy="119.1" rx="0.45" ry="0.44" transform="rotate(158 127.4 119.1)" fill="#7e6cb4" opacity="0.61"/><ellipse cx="147.8" cy="157.5" rx="1.01" ry="0.68" transform="rotate(139 147.8 157.5)" fill="#7e6cb4" opacity="0.47"/><ellipse cx="175.2" cy="152.8" rx="0.59" ry="0.50" transform="rotate(123 175.2 152.8)" fill="#9478bc" opacity="0.73"/><ellipse cx="145.2" cy="113.9" rx="0.49" ry="0.43" transform="rotate(126 145.2 113.9)" fill="#7e6cb4" opacity="0.72"/><ellipse cx="145.7" cy="148.7" rx="0.76" ry="0.72" transform="rotate(72 145.7 148.7)" fill="#9478bc" opacity="0.58"/><ellipse cx="137.1" cy="110.9" rx="0.43" ry="0.37" transform="rotate(119 137.1 110.9)" fill="#a07cb8" opacity="0.47"/><ellipse cx="124.6" cy="119.8" rx="0.88" ry="0.66" transform="rotate(126 124.6 119.8)" fill="#7e6cb4" opacity="0.69"/><ellipse cx="132.7" cy="122.8" rx="0.58" ry="0.48" transform="rotate(51 132.7 122.8)" fill="#8a70b8" opacity="0.51"/><ellipse cx="153.9" cy="158.7" rx="0.68" ry="0.54" transform="rotate(89 153.9 158.7)" fill="#9474c0" opacity="0.58"/><ellipse cx="155.2" cy="112.5" rx="0.92" ry="0.56" transform="rotate(87 155.2 112.5)" fill="#9474c0" opacity="0.58"/><ellipse cx="154.1" cy="153.2" rx="0.71" ry="0.48" transform="rotate(15 154.1 153.2)" fill="#8a70b8" opacity="0.62"/><ellipse cx="155.0" cy="107.5" rx="0.53" ry="0.41" transform="rotate(164 155.0 107.5)" fill="#7e6cb4" opacity="0.58"/><ellipse cx="156.7" cy="163.4" rx="1.00" ry="0.65" transform="rotate(38 156.7 163.4)" fill="#a07cb8" opacity="0.56"/><ellipse cx="138.5" cy="150.6" rx="0.46" ry="0.41" transform="rotate(67 138.5 150.6)" fill="#9478bc" opacity="0.54"/><ellipse cx="158.4" cy="123.1" rx="0.61" ry="0.48" transform="rotate(177 158.4 123.1)" fill="#8a70b8" opacity="0.63"/><ellipse cx="156.7" cy="120.5" rx="0.65" ry="0.39" transform="rotate(59 156.7 120.5)" fill="#9474c0" opacity="0.60"/><ellipse cx="154.4" cy="164.0" rx="0.44" ry="0.39" transform="rotate(10 154.4 164.0)" fill="#a07cb8" opacity="0.62"/><ellipse cx="135.4" cy="120.2" rx="0.86" ry="0.72" transform="rotate(162 135.4 120.2)" fill="#9478bc" opacity="0.60"/><ellipse cx="156.4" cy="102.1" rx="0.53" ry="0.43" transform="rotate(165 156.4 102.1)" fill="#9478bc" opacity="0.66"/><ellipse cx="125.7" cy="129.6" rx="0.98" ry="0.59" transform="rotate(48 125.7 129.6)" fill="#7e6cb4" opacity="0.56"/><ellipse cx="161.3" cy="107.7" rx="0.83" ry="0.77" transform="rotate(129 161.3 107.7)" fill="#7e6cb4" opacity="0.68"/><ellipse cx="147.5" cy="121.3" rx="0.56" ry="0.46" transform="rotate(112 147.5 121.3)" fill="#8a70b8" opacity="0.62"/><ellipse cx="148.8" cy="97.6" rx="0.63" ry="0.55" transform="rotate(127 148.8 97.6)" fill="#7e6cb4" opacity="0.54"/><ellipse cx="147.1" cy="145.4" rx="0.91" ry="0.63" transform="rotate(166 147.1 145.4)" fill="#9474c0" opacity="0.55"/><ellipse cx="129.0" cy="155.0" rx="0.82" ry="0.66" transform="rotate(139 129.0 155.0)" fill="#9474c0" opacity="0.61"/><ellipse cx="148.5" cy="111.0" rx="0.63" ry="0.62" transform="rotate(139 148.5 111.0)" fill="#9478bc" opacity="0.60"/><ellipse cx="140.3" cy="128.6" rx="0.59" ry="0.46" transform="rotate(132 140.3 128.6)" fill="#9478bc" opacity="0.64"/><ellipse cx="148.1" cy="120.0" rx="0.57" ry="0.52" transform="rotate(132 148.1 120.0)" fill="#9478bc" opacity="0.62"/><ellipse cx="131.8" cy="147.3" rx="0.50" ry="0.40" transform="rotate(116 131.8 147.3)" fill="#7e6cb4" opacity="0.68"/><ellipse cx="160.2" cy="156.8" rx="0.85" ry="0.60" transform="rotate(175 160.2 156.8)" fill="#9474c0" opacity="0.55"/><ellipse cx="150.7" cy="145.9" rx="0.56" ry="0.48" transform="rotate(38 150.7 145.9)" fill="#9474c0" opacity="0.73"/><ellipse cx="131.8" cy="121.6" rx="0.64" ry="0.40" transform="rotate(90 131.8 121.6)" fill="#7e6cb4" opacity="0.47"/><ellipse cx="152.8" cy="131.7" rx="0.54" ry="0.36" transform="rotate(101 152.8 131.7)" fill="#a07cb8" opacity="0.73"/><ellipse cx="161.9" cy="119.1" rx="0.84" ry="0.73" transform="rotate(45 161.9 119.1)" fill="#9474c0" opacity="0.66"/><ellipse cx="142.7" cy="110.2" rx="0.53" ry="0.41" transform="rotate(120 142.7 110.2)" fill="#a07cb8" opacity="0.55"/><ellipse cx="138.2" cy="139.0" rx="0.92" ry="0.75" transform="rotate(15 138.2 139.0)" fill="#9478bc" opacity="0.45"/><ellipse cx="151.3" cy="129.5" rx="0.81" ry="0.74" transform="rotate(68 151.3 129.5)" fill="#8a70b8" opacity="0.61"/><ellipse cx="147.5" cy="136.0" rx="0.49" ry="0.39" transform="rotate(172 147.5 136.0)" fill="#a07cb8" opacity="0.55"/><ellipse cx="150.9" cy="161.7" rx="0.66" ry="0.40" transform="rotate(124 150.9 161.7)" fill="#9474c0" opacity="0.60"/><ellipse cx="160.7" cy="161.7" rx="0.74" ry="0.70" transform="rotate(141 160.7 161.7)" fill="#7e6cb4" opacity="0.75"/><ellipse cx="156.5" cy="147.3" rx="0.93" ry="0.72" transform="rotate(49 156.5 147.3)" fill="#a07cb8" opacity="0.70"/><ellipse cx="150.8" cy="151.6" rx="0.63" ry="0.40" transform="rotate(122 150.8 151.6)" fill="#9478bc" opacity="0.47"/><ellipse cx="157.7" cy="162.3" rx="1.06" ry="0.69" transform="rotate(8 157.7 162.3)" fill="#8a70b8" opacity="0.61"/><ellipse cx="132.6" cy="132.3" rx="0.80" ry="0.78" transform="rotate(166 132.6 132.3)" fill="#7e6cb4" opacity="0.53"/><ellipse cx="144.7" cy="99.8" rx="0.82" ry="0.81" transform="rotate(114 144.7 99.8)" fill="#9478bc" opacity="0.52"/><ellipse cx="152.4" cy="157.2" rx="0.71" ry="0.67" transform="rotate(172 152.4 157.2)" fill="#9474c0" opacity="0.76"/><ellipse cx="134.2" cy="131.3" rx="0.46" ry="0.44" transform="rotate(21 134.2 131.3)" fill="#a07cb8" opacity="0.53"/><ellipse cx="141.4" cy="112.3" rx="0.56" ry="0.43" transform="rotate(158 141.4 112.3)" fill="#8a70b8" opacity="0.73"/><ellipse cx="147.3" cy="145.9" rx="0.74" ry="0.57" transform="rotate(8 147.3 145.9)" fill="#9474c0" opacity="0.59"/><ellipse cx="131.9" cy="147.1" rx="0.65" ry="0.59" transform="rotate(123 131.9 147.1)" fill="#9474c0" opacity="0.63"/><ellipse cx="126.0" cy="115.0" rx="0.67" ry="0.62" transform="rotate(77 126.0 115.0)" fill="#a07cb8" opacity="0.62"/><ellipse cx="157.4" cy="126.0" rx="0.60" ry="0.52" transform="rotate(54 157.4 126.0)" fill="#a07cb8" opacity="0.49"/><ellipse cx="131.6" cy="130.2" rx="0.44" ry="0.44" transform="rotate(157 131.6 130.2)" fill="#8a70b8" opacity="0.52"/><ellipse cx="143.4" cy="143.8" rx="0.63" ry="0.57" transform="rotate(145 143.4 143.8)" fill="#a07cb8" opacity="0.48"/><ellipse cx="140.1" cy="145.5" rx="0.81" ry="0.56" transform="rotate(1 140.1 145.5)" fill="#9474c0" opacity="0.48"/><ellipse cx="156.3" cy="130.7" rx="0.92" ry="0.76" transform="rotate(103 156.3 130.7)" fill="#9474c0" opacity="0.51"/><ellipse cx="149.3" cy="126.5" rx="0.64" ry="0.40" transform="rotate(171 149.3 126.5)" fill="#9474c0" opacity="0.55"/><ellipse cx="149.5" cy="137.6" rx="0.68" ry="0.51" transform="rotate(152 149.5 137.6)" fill="#9474c0" opacity="0.50"/><ellipse cx="159.6" cy="118.6" rx="1.03" ry="0.65" transform="rotate(93 159.6 118.6)" fill="#9474c0" opacity="0.64"/><ellipse cx="143.4" cy="136.3" rx="0.92" ry="0.64" transform="rotate(38 143.4 136.3)" fill="#9478bc" opacity="0.53"/><ellipse cx="152.7" cy="100.2" rx="0.80" ry="0.60" transform="rotate(123 152.7 100.2)" fill="#9478bc" opacity="0.75"/><ellipse cx="154.0" cy="115.2" rx="1.01" ry="0.66" transform="rotate(92 154.0 115.2)" fill="#7e6cb4" opacity="0.76"/><ellipse cx="131.2" cy="116.9" rx="0.85" ry="0.56" transform="rotate(122 131.2 116.9)" fill="#7e6cb4" opacity="0.70"/><ellipse cx="123.9" cy="134.9" rx="0.46" ry="0.41" transform="rotate(88 123.9 134.9)" fill="#9474c0" opacity="0.72"/><ellipse cx="145.0" cy="137.9" rx="0.82" ry="0.67" transform="rotate(34 145.0 137.9)" fill="#8a70b8" opacity="0.64"/><ellipse cx="158.6" cy="159.4" rx="0.49" ry="0.44" transform="rotate(157 158.6 159.4)" fill="#9474c0" opacity="0.60"/><ellipse cx="131.3" cy="108.7" rx="0.84" ry="0.52" transform="rotate(75 131.3 108.7)" fill="#a07cb8" opacity="0.48"/><ellipse cx="129.2" cy="140.6" rx="0.42" ry="0.39" transform="rotate(53 129.2 140.6)" fill="#8a70b8" opacity="0.69"/><ellipse cx="135.0" cy="141.2" rx="0.48" ry="0.43" transform="rotate(55 135.0 141.2)" fill="#9478bc" opacity="0.58"/><ellipse cx="133.4" cy="118.7" rx="0.68" ry="0.49" transform="rotate(82 133.4 118.7)" fill="#8a70b8" opacity="0.61"/><ellipse cx="168.5" cy="139.1" rx="0.85" ry="0.54" transform="rotate(58 168.5 139.1)" fill="#9474c0" opacity="0.47"/><ellipse cx="156.2" cy="133.1" rx="0.93" ry="0.59" transform="rotate(57 156.2 133.1)" fill="#a07cb8" opacity="0.69"/><ellipse cx="134.2" cy="148.0" rx="0.75" ry="0.47" transform="rotate(82 134.2 148.0)" fill="#7e6cb4" opacity="0.65"/><ellipse cx="126.7" cy="144.7" rx="0.83" ry="0.61" transform="rotate(65 126.7 144.7)" fill="#7e6cb4" opacity="0.68"/><ellipse cx="145.0" cy="156.3" rx="0.66" ry="0.46" transform="rotate(78 145.0 156.3)" fill="#8a70b8" opacity="0.66"/><ellipse cx="125.4" cy="159.1" rx="0.95" ry="0.70" transform="rotate(16 125.4 159.1)" fill="#9478bc" opacity="0.57"/><ellipse cx="133.7" cy="142.1" rx="0.75" ry="0.72" transform="rotate(2 133.7 142.1)" fill="#8a70b8" opacity="0.74"/><ellipse cx="141.9" cy="149.2" rx="0.74" ry="0.56" transform="rotate(162 141.9 149.2)" fill="#9478bc" opacity="0.49"/><ellipse cx="145.3" cy="161.4" rx="0.89" ry="0.59" transform="rotate(166 145.3 161.4)" fill="#7e6cb4" opacity="0.62"/><ellipse cx="124.9" cy="126.2" rx="0.86" ry="0.57" transform="rotate(95 124.9 126.2)" fill="#9478bc" opacity="0.62"/><ellipse cx="150.4" cy="144.8" rx="0.56" ry="0.54" transform="rotate(22 150.4 144.8)" fill="#8a70b8" opacity="0.65"/><ellipse cx="128.4" cy="135.2" rx="0.59" ry="0.46" transform="rotate(97 128.4 135.2)" fill="#a07cb8" opacity="0.65"/><ellipse cx="166.5" cy="133.1" rx="0.77" ry="0.74" transform="rotate(22 166.5 133.1)" fill="#9478bc" opacity="0.70"/><ellipse cx="151.0" cy="105.5" rx="0.88" ry="0.77" transform="rotate(40 151.0 105.5)" fill="#9478bc" opacity="0.75"/><ellipse cx="124.0" cy="115.3" rx="0.81" ry="0.53" transform="rotate(70 124.0 115.3)" fill="#7e6cb4" opacity="0.73"/><ellipse cx="164.6" cy="98.8" rx="0.90" ry="0.73" transform="rotate(110 164.6 98.8)" fill="#9478bc" opacity="0.51"/><ellipse cx="140.5" cy="130.6" rx="0.67" ry="0.41" transform="rotate(46 140.5 130.6)" fill="#a07cb8" opacity="0.61"/><ellipse cx="124.1" cy="160.4" rx="0.77" ry="0.57" transform="rotate(128 124.1 160.4)" fill="#7e6cb4" opacity="0.46"/><ellipse cx="154.1" cy="135.6" rx="0.98" ry="0.60" transform="rotate(46 154.1 135.6)" fill="#7e6cb4" opacity="0.57"/><ellipse cx="152.8" cy="136.0" rx="0.94" ry="0.59" transform="rotate(13 152.8 136.0)" fill="#a07cb8" opacity="0.47"/><ellipse cx="128.6" cy="163.8" rx="0.80" ry="0.50" transform="rotate(96 128.6 163.8)" fill="#9478bc" opacity="0.75"/><ellipse cx="145.1" cy="131.7" rx="0.85" ry="0.63" transform="rotate(153 145.1 131.7)" fill="#7e6cb4" opacity="0.57"/><ellipse cx="138.7" cy="154.5" rx="0.81" ry="0.54" transform="rotate(149 138.7 154.5)" fill="#9474c0" opacity="0.46"/><ellipse cx="150.9" cy="124.4" rx="0.53" ry="0.51" transform="rotate(128 150.9 124.4)" fill="#9478bc" opacity="0.44"/><ellipse cx="133.1" cy="114.1" rx="1.05" ry="0.64" transform="rotate(5 133.1 114.1)" fill="#9478bc" opacity="0.67"/><ellipse cx="144.1" cy="113.2" rx="0.63" ry="0.56" transform="rotate(41 144.1 113.2)" fill="#8a70b8" opacity="0.64"/><ellipse cx="130.3" cy="136.2" rx="0.76" ry="0.50" transform="rotate(85 130.3 136.2)" fill="#a07cb8" opacity="0.74"/><ellipse cx="135.2" cy="122.5" rx="0.84" ry="0.53" transform="rotate(19 135.2 122.5)" fill="#8a70b8" opacity="0.58"/><ellipse cx="132.8" cy="138.0" rx="0.62" ry="0.57" transform="rotate(156 132.8 138.0)" fill="#a07cb8" opacity="0.56"/><ellipse cx="163.7" cy="159.3" rx="0.53" ry="0.39" transform="rotate(59 163.7 159.3)" fill="#9474c0" opacity="0.76"/><ellipse cx="140.7" cy="139.2" rx="0.59" ry="0.45" transform="rotate(97 140.7 139.2)" fill="#a07cb8" opacity="0.60"/><ellipse cx="131.9" cy="109.1" rx="0.82" ry="0.79" transform="rotate(7 131.9 109.1)" fill="#a07cb8" opacity="0.44"/><ellipse cx="158.3" cy="98.8" rx="0.75" ry="0.62" transform="rotate(59 158.3 98.8)" fill="#9478bc" opacity="0.68"/><ellipse cx="139.6" cy="140.5" rx="0.79" ry="0.78" transform="rotate(45 139.6 140.5)" fill="#9478bc" opacity="0.69"/><ellipse cx="148.9" cy="156.1" rx="0.52" ry="0.36" transform="rotate(171 148.9 156.1)" fill="#7e6cb4" opacity="0.44"/><ellipse cx="124.1" cy="161.4" rx="0.99" ry="0.64" transform="rotate(3 124.1 161.4)" fill="#a07cb8" opacity="0.55"/><ellipse cx="171.4" cy="107.6" rx="0.71" ry="0.61" transform="rotate(166 171.4 107.6)" fill="#c0608c" opacity="0.31"/><ellipse cx="151.3" cy="101.5" rx="0.95" ry="0.61" transform="rotate(142 151.3 101.5)" fill="#c66a94" opacity="0.35"/><ellipse cx="165.6" cy="143.5" rx="0.76" ry="0.51" transform="rotate(167 165.6 143.5)" fill="#cc6484" opacity="0.44"/><ellipse cx="150.7" cy="163.2" rx="0.71" ry="0.46" transform="rotate(36 150.7 163.2)" fill="#cc6484" opacity="0.34"/><ellipse cx="147.5" cy="97.5" rx="0.94" ry="0.65" transform="rotate(160 147.5 97.5)" fill="#cc6484" opacity="0.39"/><ellipse cx="148.0" cy="153.8" rx="0.68" ry="0.54" transform="rotate(16 148.0 153.8)" fill="#c0608c" opacity="0.43"/><ellipse cx="130.9" cy="133.3" rx="0.86" ry="0.62" transform="rotate(37 130.9 133.3)" fill="#c66a94" opacity="0.39"/><ellipse cx="141.1" cy="134.8" rx="0.54" ry="0.44" transform="rotate(82 141.1 134.8)" fill="#cc6484" opacity="0.37"/><ellipse cx="140.3" cy="112.2" rx="0.92" ry="0.62" transform="rotate(98 140.3 112.2)" fill="#d4708c" opacity="0.37"/><ellipse cx="135.5" cy="107.7" rx="0.67" ry="0.44" transform="rotate(123 135.5 107.7)" fill="#cc6484" opacity="0.34"/><ellipse cx="144.1" cy="118.9" rx="0.67" ry="0.51" transform="rotate(1 144.1 118.9)" fill="#d4708c" opacity="0.39"/><ellipse cx="141.6" cy="157.3" rx="0.47" ry="0.44" transform="rotate(90 141.6 157.3)" fill="#c0608c" opacity="0.42"/><ellipse cx="123.4" cy="153.1" rx="0.74" ry="0.69" transform="rotate(80 123.4 153.1)" fill="#c66a94" opacity="0.42"/><ellipse cx="131.8" cy="134.8" rx="0.78" ry="0.69" transform="rotate(73 131.8 134.8)" fill="#c0608c" opacity="0.30"/><ellipse cx="131.7" cy="124.9" rx="0.56" ry="0.51" transform="rotate(24 131.7 124.9)" fill="#c0608c" opacity="0.40"/><ellipse cx="145.3" cy="139.9" rx="0.78" ry="0.48" transform="rotate(37 145.3 139.9)" fill="#cc6484" opacity="0.34"/><ellipse cx="137.5" cy="123.2" rx="0.65" ry="0.62" transform="rotate(39 137.5 123.2)" fill="#d4708c" opacity="0.37"/><ellipse cx="129.9" cy="134.9" rx="0.50" ry="0.36" transform="rotate(95 129.9 134.9)" fill="#d4708c" opacity="0.29"/><ellipse cx="150.6" cy="160.4" rx="0.64" ry="0.48" transform="rotate(129 150.6 160.4)" fill="#cc6484" opacity="0.40"/><ellipse cx="158.9" cy="112.5" rx="0.53" ry="0.42" transform="rotate(127 158.9 112.5)" fill="#c66a94" opacity="0.34"/><ellipse cx="163.6" cy="160.0" rx="0.54" ry="0.49" transform="rotate(150 163.6 160.0)" fill="#c66a94" opacity="0.37"/><ellipse cx="147.1" cy="129.8" rx="0.80" ry="0.66" transform="rotate(90 147.1 129.8)" fill="#c0608c" opacity="0.33"/><ellipse cx="123.5" cy="134.5" rx="0.54" ry="0.45" transform="rotate(74 123.5 134.5)" fill="#d4708c" opacity="0.40"/><ellipse cx="149.8" cy="105.8" rx="0.73" ry="0.53" transform="rotate(149 149.8 105.8)" fill="#c66a94" opacity="0.37"/><ellipse cx="150.1" cy="99.4" rx="0.64" ry="0.54" transform="rotate(75 150.1 99.4)" fill="#c66a94" opacity="0.42"/><ellipse cx="163.2" cy="122.2" rx="0.50" ry="0.42" transform="rotate(88 163.2 122.2)" fill="#cc6484" opacity="0.29"/><ellipse cx="139.7" cy="150.3" rx="0.55" ry="0.51" transform="rotate(160 139.7 150.3)" fill="#d4708c" opacity="0.40"/><ellipse cx="152.0" cy="151.6" rx="0.94" ry="0.61" transform="rotate(164 152.0 151.6)" fill="#c0608c" opacity="0.32"/><ellipse cx="132.6" cy="152.6" rx="0.47" ry="0.43" transform="rotate(86 132.6 152.6)" fill="#c0608c" opacity="0.41"/><ellipse cx="161.4" cy="104.2" rx="0.89" ry="0.64" transform="rotate(155 161.4 104.2)" fill="#cc6484" opacity="0.35"/><ellipse cx="142.2" cy="106.2" rx="0.59" ry="0.59" transform="rotate(38 142.2 106.2)" fill="#c0608c" opacity="0.27"/><ellipse cx="148.7" cy="128.1" rx="0.61" ry="0.41" transform="rotate(163 148.7 128.1)" fill="#cc6484" opacity="0.30"/><ellipse cx="133.6" cy="130.9" rx="0.79" ry="0.66" transform="rotate(58 133.6 130.9)" fill="#c0608c" opacity="0.28"/><ellipse cx="153.8" cy="109.2" rx="0.90" ry="0.65" transform="rotate(17 153.8 109.2)" fill="#c0608c" opacity="0.25"/><ellipse cx="140.8" cy="155.8" rx="0.51" ry="0.34" transform="rotate(174 140.8 155.8)" fill="#c66a94" opacity="0.37"/><ellipse cx="165.8" cy="103.6" rx="0.70" ry="0.66" transform="rotate(104 165.8 103.6)" fill="#cc6484" opacity="0.35"/><ellipse cx="159.5" cy="118.9" rx="0.71" ry="0.59" transform="rotate(42 159.5 118.9)" fill="#c66a94" opacity="0.32"/><ellipse cx="149.9" cy="120.7" rx="0.74" ry="0.64" transform="rotate(88 149.9 120.7)" fill="#c0608c" opacity="0.43"/><ellipse cx="140.0" cy="143.4" rx="0.43" ry="0.42" transform="rotate(32 140.0 143.4)" fill="#c66a94" opacity="0.43"/><ellipse cx="170.2" cy="111.0" rx="0.50" ry="0.37" transform="rotate(110 170.2 111.0)" fill="#d4708c" opacity="0.42"/><ellipse cx="122.5" cy="137.6" rx="0.72" ry="0.63" transform="rotate(118 122.5 137.6)" fill="#c66a94" opacity="0.27"/><ellipse cx="128.7" cy="104.2" rx="0.93" ry="0.57" transform="rotate(105 128.7 104.2)" fill="#c0608c" opacity="0.32"/><ellipse cx="142.0" cy="134.9" rx="0.59" ry="0.47" transform="rotate(108 142.0 134.9)" fill="#c0608c" opacity="0.34"/><ellipse cx="157.5" cy="100.5" rx="0.59" ry="0.59" transform="rotate(91 157.5 100.5)" fill="#c66a94" opacity="0.38"/><ellipse cx="148.4" cy="137.1" rx="0.60" ry="0.52" transform="rotate(92 148.4 137.1)" fill="#c66a94" opacity="0.30"/><ellipse cx="166.7" cy="112.0" rx="0.59" ry="0.54" transform="rotate(54 166.7 112.0)" fill="#d4708c" opacity="0.31"/><ellipse cx="144.1" cy="117.0" rx="0.56" ry="0.41" transform="rotate(19 144.1 117.0)" fill="#c66a94" opacity="0.38"/><ellipse cx="140.2" cy="114.2" rx="0.75" ry="0.55" transform="rotate(165 140.2 114.2)" fill="#c0608c" opacity="0.43"/><ellipse cx="161.4" cy="131.7" rx="0.61" ry="0.51" transform="rotate(173 161.4 131.7)" fill="#c0608c" opacity="0.32"/><ellipse cx="129.3" cy="98.3" rx="0.52" ry="0.50" transform="rotate(6 129.3 98.3)" fill="#cc6484" opacity="0.39"/><ellipse cx="164.0" cy="99.4" rx="0.72" ry="0.67" transform="rotate(163 164.0 99.4)" fill="#cc6484" opacity="0.26"/><ellipse cx="167.8" cy="108.0" rx="0.99" ry="0.61" transform="rotate(74 167.8 108.0)" fill="#c66a94" opacity="0.30"/><ellipse cx="152.2" cy="104.9" rx="0.72" ry="0.67" transform="rotate(104 152.2 104.9)" fill="#c0608c" opacity="0.42"/><ellipse cx="137.3" cy="119.2" rx="0.73" ry="0.47" transform="rotate(39 137.3 119.2)" fill="#c66a94" opacity="0.42"/><ellipse cx="134.0" cy="104.1" rx="0.70" ry="0.54" transform="rotate(15 134.0 104.1)" fill="#c0608c" opacity="0.43"/><ellipse cx="167.3" cy="157.5" rx="0.58" ry="0.45" transform="rotate(50 167.3 157.5)" fill="#d4708c" opacity="0.38"/><ellipse cx="157.3" cy="144.9" rx="0.50" ry="0.40" transform="rotate(137 157.3 144.9)" fill="#c0608c" opacity="0.32"/><ellipse cx="162.2" cy="101.0" rx="0.73" ry="0.56" transform="rotate(157 162.2 101.0)" fill="#c66a94" opacity="0.26"/><ellipse cx="125.3" cy="163.7" rx="0.67" ry="0.59" transform="rotate(79 125.3 163.7)" fill="#cc6484" opacity="0.34"/><ellipse cx="131.6" cy="107.6" rx="0.75" ry="0.56" transform="rotate(136 131.6 107.6)" fill="#d4708c" opacity="0.41"/><ellipse cx="152.4" cy="102.2" rx="0.76" ry="0.57" transform="rotate(81 152.4 102.2)" fill="#c0608c" opacity="0.33"/><ellipse cx="126.4" cy="101.9" rx="0.52" ry="0.34" transform="rotate(11 126.4 101.9)" fill="#d4708c" opacity="0.41"/><ellipse cx="123.9" cy="138.8" rx="0.57" ry="0.47" transform="rotate(13 123.9 138.8)" fill="#cc6484" opacity="0.27"/><ellipse cx="164.1" cy="161.1" rx="0.68" ry="0.44" transform="rotate(130 164.1 161.1)" fill="#d4708c" opacity="0.41"/><ellipse cx="148.1" cy="121.8" rx="0.67" ry="0.44" transform="rotate(100 148.1 121.8)" fill="#d4708c" opacity="0.29"/><ellipse cx="137.8" cy="145.3" rx="0.93" ry="0.66" transform="rotate(11 137.8 145.3)" fill="#c66a94" opacity="0.29"/><ellipse cx="168.0" cy="152.2" rx="0.62" ry="0.60" transform="rotate(87 168.0 152.2)" fill="#cc6484" opacity="0.41"/><ellipse cx="167.2" cy="100.5" rx="0.74" ry="0.60" transform="rotate(154 167.2 100.5)" fill="#cc6484" opacity="0.32"/><ellipse cx="166.8" cy="139.2" rx="0.69" ry="0.48" transform="rotate(180 166.8 139.2)" fill="#d4708c" opacity="0.37"/><ellipse cx="139.3" cy="132.5" rx="0.72" ry="0.45" transform="rotate(25 139.3 132.5)" fill="#c66a94" opacity="0.26"/><ellipse cx="157.4" cy="147.6" rx="0.71" ry="0.46" transform="rotate(11 157.4 147.6)" fill="#c0608c" opacity="0.40"/><ellipse cx="165.1" cy="144.2" rx="0.73" ry="0.71" transform="rotate(122 165.1 144.2)" fill="#cc6484" opacity="0.39"/><ellipse cx="152.6" cy="159.1" rx="0.56" ry="0.52" transform="rotate(161 152.6 159.1)" fill="#d4708c" opacity="0.35"/><ellipse cx="163.3" cy="139.6" rx="0.57" ry="0.41" transform="rotate(77 163.3 139.6)" fill="#d4708c" opacity="0.39"/><ellipse cx="129.2" cy="104.5" rx="0.57" ry="0.39" transform="rotate(42 129.2 104.5)" fill="#cc6484" opacity="0.42"/><ellipse cx="160.9" cy="143.9" rx="0.83" ry="0.58" transform="rotate(77 160.9 143.9)" fill="#c66a94" opacity="0.40"/><ellipse cx="129.7" cy="121.4" rx="0.67" ry="0.45" transform="rotate(156 129.7 121.4)" fill="#c66a94" opacity="0.26"/><ellipse cx="153.3" cy="121.9" rx="0.48" ry="0.46" transform="rotate(159 153.3 121.9)" fill="#cc6484" opacity="0.41"/><ellipse cx="142.0" cy="122.1" rx="0.55" ry="0.54" transform="rotate(23 142.0 122.1)" fill="#cc6484" opacity="0.41"/><ellipse cx="134.2" cy="133.7" rx="0.56" ry="0.36" transform="rotate(53 134.2 133.7)" fill="#c0608c" opacity="0.36"/><ellipse cx="170.4" cy="115.5" rx="0.51" ry="0.42" transform="rotate(14 170.4 115.5)" fill="#cc6484" opacity="0.35"/><ellipse cx="162.9" cy="132.0" rx="0.48" ry="0.43" transform="rotate(9 162.9 132.0)" fill="#cc6484" opacity="0.35"/><ellipse cx="140.2" cy="106.3" rx="0.89" ry="0.67" transform="rotate(58 140.2 106.3)" fill="#c0608c" opacity="0.32"/><ellipse cx="154.7" cy="152.8" rx="0.92" ry="0.65" transform="rotate(94 154.7 152.8)" fill="#c66a94" opacity="0.44"/><ellipse cx="123.1" cy="161.2" rx="0.95" ry="0.59" transform="rotate(15 123.1 161.2)" fill="#c66a94" opacity="0.29"/><ellipse cx="132.3" cy="150.1" rx="0.58" ry="0.53" transform="rotate(124 132.3 150.1)" fill="#c66a94" opacity="0.38"/><ellipse cx="173.9" cy="144.7" rx="0.65" ry="0.41" transform="rotate(149 173.9 144.7)" fill="#c66a94" opacity="0.32"/><ellipse cx="150.4" cy="152.1" rx="0.76" ry="0.65" transform="rotate(78 150.4 152.1)" fill="#c0608c" opacity="0.43"/><ellipse cx="125.1" cy="136.5" rx="0.52" ry="0.51" transform="rotate(65 125.1 136.5)" fill="#c0608c" opacity="0.40"/><ellipse cx="137.7" cy="109.3" rx="0.86" ry="0.58" transform="rotate(98 137.7 109.3)" fill="#c0608c" opacity="0.43"/><ellipse cx="151.7" cy="103.5" rx="0.68" ry="0.53" transform="rotate(36 151.7 103.5)" fill="#cc6484" opacity="0.32"/><ellipse cx="134.2" cy="128.4" rx="0.67" ry="0.57" transform="rotate(156 134.2 128.4)" fill="#cc6484" opacity="0.33"/><ellipse cx="154.9" cy="125.1" rx="0.70" ry="0.49" transform="rotate(89 154.9 125.1)" fill="#c0608c" opacity="0.32"/><ellipse cx="123.0" cy="161.5" rx="0.59" ry="0.57" transform="rotate(37 123.0 161.5)" fill="#cc6484" opacity="0.29"/><ellipse cx="134.8" cy="154.0" rx="0.44" ry="0.36" transform="rotate(120 134.8 154.0)" fill="#d4708c" opacity="0.42"/><ellipse cx="137.8" cy="163.9" rx="0.82" ry="0.62" transform="rotate(117 137.8 163.9)" fill="#c66a94" opacity="0.27"/><ellipse cx="129.5" cy="133.8" rx="0.81" ry="0.58" transform="rotate(33 129.5 133.8)" fill="#cc6484" opacity="0.42"/><ellipse cx="137.6" cy="144.2" rx="0.55" ry="0.34" transform="rotate(138 137.6 144.2)" fill="#c0608c" opacity="0.25"/><ellipse cx="166.4" cy="101.6" rx="0.60" ry="0.42" transform="rotate(30 166.4 101.6)" fill="#c66a94" opacity="0.35"/><ellipse cx="124.9" cy="148.1" rx="0.71" ry="0.63" transform="rotate(56 124.9 148.1)" fill="#c66a94" opacity="0.38"/><ellipse cx="164.4" cy="105.7" rx="0.57" ry="0.35" transform="rotate(161 164.4 105.7)" fill="#c66a94" opacity="0.28"/><ellipse cx="149.0" cy="111.7" rx="0.69" ry="0.56" transform="rotate(169 149.0 111.7)" fill="#d4708c" opacity="0.26"/><ellipse cx="152.4" cy="121.1" rx="0.69" ry="0.43" transform="rotate(107 152.4 121.1)" fill="#cc6484" opacity="0.43"/><ellipse cx="140.9" cy="151.6" rx="0.48" ry="0.40" transform="rotate(86 140.9 151.6)" fill="#d4708c" opacity="0.39"/><ellipse cx="164.9" cy="114.4" rx="0.56" ry="0.43" transform="rotate(111 164.9 114.4)" fill="#cc6484" opacity="0.28"/><ellipse cx="161.5" cy="148.0" rx="0.77" ry="0.50" transform="rotate(159 161.5 148.0)" fill="#c0608c" opacity="0.26"/><ellipse cx="147.6" cy="144.7" rx="0.77" ry="0.67" transform="rotate(6 147.6 144.7)" fill="#c66a94" opacity="0.40"/><ellipse cx="149.2" cy="108.2" rx="0.89" ry="0.66" transform="rotate(171 149.2 108.2)" fill="#c0608c" opacity="0.35"/><ellipse cx="163.6" cy="107.6" rx="0.58" ry="0.43" transform="rotate(120 163.6 107.6)" fill="#c66a94" opacity="0.35"/><ellipse cx="122.6" cy="126.7" rx="0.50" ry="0.42" transform="rotate(82 122.6 126.7)" fill="#c0608c" opacity="0.26"/><ellipse cx="134.6" cy="117.0" rx="0.72" ry="0.45" transform="rotate(67 134.6 117.0)" fill="#cc6484" opacity="0.30"/><ellipse cx="159.8" cy="160.7" rx="0.81" ry="0.55" transform="rotate(74 159.8 160.7)" fill="#c66a94" opacity="0.26"/><ellipse cx="128.6" cy="151.2" rx="0.78" ry="0.54" transform="rotate(150 128.6 151.2)" fill="#cc6484" opacity="0.39"/><ellipse cx="129.2" cy="113.4" rx="0.54" ry="0.42" transform="rotate(32 129.2 113.4)" fill="#d4708c" opacity="0.40"/><ellipse cx="129.7" cy="158.3" rx="0.61" ry="0.56" transform="rotate(160 129.7 158.3)" fill="#c66a94" opacity="0.33"/><ellipse cx="132.8" cy="147.2" rx="0.57" ry="0.46" transform="rotate(176 132.8 147.2)" fill="#c66a94" opacity="0.37"/><ellipse cx="143.8" cy="161.0" rx="0.72" ry="0.45" transform="rotate(137 143.8 161.0)" fill="#d4708c" opacity="0.43"/><ellipse cx="132.1" cy="143.0" rx="0.68" ry="0.55" transform="rotate(131 132.1 143.0)" fill="#c66a94" opacity="0.30"/><ellipse cx="151.9" cy="148.6" rx="0.74" ry="0.68" transform="rotate(146 151.9 148.6)" fill="#c0608c" opacity="0.31"/><ellipse cx="124.3" cy="113.1" rx="0.42" ry="0.36" transform="rotate(12 124.3 113.1)" fill="#d4708c" opacity="0.44"/><ellipse cx="143.0" cy="130.7" rx="0.61" ry="0.41" transform="rotate(148 143.0 130.7)" fill="#c0608c" opacity="0.36"/><ellipse cx="141.9" cy="138.0" rx="0.72" ry="0.44" transform="rotate(40 141.9 138.0)" fill="#c0608c" opacity="0.26"/><ellipse cx="129.9" cy="140.3" rx="0.74" ry="0.57" transform="rotate(38 129.9 140.3)" fill="#c0608c" opacity="0.29"/><ellipse cx="163.4" cy="147.6" rx="0.55" ry="0.44" transform="rotate(119 163.4 147.6)" fill="#cc6484" opacity="0.34"/><ellipse cx="122.6" cy="97.6" rx="0.59" ry="0.50" transform="rotate(39 122.6 97.6)" fill="#d4708c" opacity="0.33"/><ellipse cx="148.1" cy="132.9" rx="0.56" ry="0.46" transform="rotate(158 148.1 132.9)" fill="#d4708c" opacity="0.43"/><ellipse cx="161.0" cy="145.8" rx="0.82" ry="0.67" transform="rotate(1 161.0 145.8)" fill="#d4708c" opacity="0.28"/><ellipse cx="138.9" cy="119.8" rx="0.69" ry="0.49" transform="rotate(41 138.9 119.8)" fill="#cc6484" opacity="0.38"/><ellipse cx="148.7" cy="97.5" rx="0.92" ry="0.59" transform="rotate(53 148.7 97.5)" fill="#cc6484" opacity="0.39"/><ellipse cx="144.2" cy="143.7" rx="0.75" ry="0.72" transform="rotate(51 144.2 143.7)" fill="#c66a94" opacity="0.35"/><ellipse cx="184.8" cy="151.4" rx="0.81" ry="0.78" transform="rotate(153 184.8 151.4)" fill="#cc6c88" opacity="0.27"/><ellipse cx="182.8" cy="111.2" rx="1.10" ry="0.73" transform="rotate(51 182.8 111.2)" fill="#d4708c" opacity="0.42"/><ellipse cx="188.3" cy="133.5" rx="0.82" ry="0.81" transform="rotate(99 188.3 133.5)" fill="#d87c94" opacity="0.38"/><ellipse cx="179.9" cy="150.8" rx="0.99" ry="0.68" transform="rotate(7 179.9 150.8)" fill="#d4708c" opacity="0.25"/><ellipse cx="161.2" cy="114.2" rx="0.80" ry="0.79" transform="rotate(46 161.2 114.2)" fill="#d08098" opacity="0.42"/><ellipse cx="161.9" cy="121.2" rx="0.90" ry="0.57" transform="rotate(65 161.9 121.2)" fill="#cc6c88" opacity="0.40"/><ellipse cx="165.6" cy="140.6" rx="1.03" ry="0.80" transform="rotate(179 165.6 140.6)" fill="#d08098" opacity="0.38"/><ellipse cx="163.7" cy="110.9" rx="0.92" ry="0.77" transform="rotate(134 163.7 110.9)" fill="#d4708c" opacity="0.27"/><ellipse cx="196.4" cy="127.6" rx="0.90" ry="0.80" transform="rotate(18 196.4 127.6)" fill="#cc6c88" opacity="0.24"/><ellipse cx="197.6" cy="127.3" rx="1.09" ry="0.77" transform="rotate(62 197.6 127.3)" fill="#d08098" opacity="0.35"/><ellipse cx="177.7" cy="147.6" rx="1.00" ry="0.60" transform="rotate(105 177.7 147.6)" fill="#b088c0" opacity="0.25"/><ellipse cx="172.2" cy="109.7" rx="0.66" ry="0.44" transform="rotate(108 172.2 109.7)" fill="#d08098" opacity="0.39"/><ellipse cx="200.4" cy="164.0" rx="0.62" ry="0.59" transform="rotate(139 200.4 164.0)" fill="#c66a94" opacity="0.42"/><ellipse cx="166.9" cy="102.0" rx="0.86" ry="0.56" transform="rotate(162 166.9 102.0)" fill="#d08098" opacity="0.24"/><ellipse cx="171.7" cy="157.8" rx="0.80" ry="0.71" transform="rotate(26 171.7 157.8)" fill="#b088c0" opacity="0.30"/><ellipse cx="181.4" cy="159.8" rx="0.89" ry="0.63" transform="rotate(0 181.4 159.8)" fill="#c66a94" opacity="0.31"/><ellipse cx="166.2" cy="132.2" rx="0.52" ry="0.46" transform="rotate(7 166.2 132.2)" fill="#d4708c" opacity="0.26"/><ellipse cx="170.6" cy="144.8" rx="0.84" ry="0.80" transform="rotate(106 170.6 144.8)" fill="#d4708c" opacity="0.35"/><ellipse cx="168.3" cy="98.8" rx="0.73" ry="0.59" transform="rotate(176 168.3 98.8)" fill="#cc6c88" opacity="0.34"/><ellipse cx="181.4" cy="137.5" rx="0.70" ry="0.52" transform="rotate(10 181.4 137.5)" fill="#c66a94" opacity="0.29"/><ellipse cx="190.7" cy="135.6" rx="0.68" ry="0.55" transform="rotate(128 190.7 135.6)" fill="#c66a94" opacity="0.38"/><ellipse cx="201.8" cy="160.6" rx="0.86" ry="0.67" transform="rotate(154 201.8 160.6)" fill="#d4708c" opacity="0.43"/><ellipse cx="176.4" cy="149.0" rx="0.61" ry="0.49" transform="rotate(94 176.4 149.0)" fill="#d4708c" opacity="0.22"/><ellipse cx="185.3" cy="157.4" rx="0.96" ry="0.84" transform="rotate(103 185.3 157.4)" fill="#c66a94" opacity="0.36"/><ellipse cx="187.7" cy="159.1" rx="0.82" ry="0.61" transform="rotate(162 187.7 159.1)" fill="#b088c0" opacity="0.41"/><ellipse cx="197.3" cy="144.7" rx="0.90" ry="0.57" transform="rotate(37 197.3 144.7)" fill="#cc6c88" opacity="0.22"/><ellipse cx="193.9" cy="123.9" rx="1.07" ry="0.80" transform="rotate(177 193.9 123.9)" fill="#d87c94" opacity="0.31"/><ellipse cx="202.4" cy="161.0" rx="0.96" ry="0.59" transform="rotate(141 202.4 161.0)" fill="#b088c0" opacity="0.30"/><ellipse cx="171.4" cy="141.6" rx="0.68" ry="0.44" transform="rotate(65 171.4 141.6)" fill="#c66a94" opacity="0.38"/><ellipse cx="190.9" cy="114.2" rx="0.99" ry="0.62" transform="rotate(2 190.9 114.2)" fill="#cc6c88" opacity="0.36"/><ellipse cx="182.1" cy="136.0" rx="0.87" ry="0.60" transform="rotate(73 182.1 136.0)" fill="#c66a94" opacity="0.29"/><ellipse cx="163.1" cy="109.9" rx="1.12" ry="0.74" transform="rotate(143 163.1 109.9)" fill="#d08098" opacity="0.41"/><ellipse cx="163.3" cy="130.5" rx="1.10" ry="0.72" transform="rotate(122 163.3 130.5)" fill="#d4708c" opacity="0.31"/><ellipse cx="172.2" cy="147.1" rx="0.92" ry="0.62" transform="rotate(93 172.2 147.1)" fill="#d4708c" opacity="0.24"/><ellipse cx="162.1" cy="163.8" rx="0.59" ry="0.49" transform="rotate(108 162.1 163.8)" fill="#d87c94" opacity="0.39"/><ellipse cx="170.0" cy="148.4" rx="0.67" ry="0.53" transform="rotate(33 170.0 148.4)" fill="#d4708c" opacity="0.39"/><ellipse cx="193.2" cy="136.1" rx="0.69" ry="0.43" transform="rotate(136 193.2 136.1)" fill="#cc6c88" opacity="0.23"/><ellipse cx="161.7" cy="161.4" rx="1.24" ry="0.75" transform="rotate(55 161.7 161.4)" fill="#cc6c88" opacity="0.37"/><ellipse cx="161.2" cy="160.4" rx="0.94" ry="0.79" transform="rotate(120 161.2 160.4)" fill="#cc6c88" opacity="0.34"/><ellipse cx="162.8" cy="106.4" rx="0.81" ry="0.78" transform="rotate(45 162.8 106.4)" fill="#c66a94" opacity="0.23"/><ellipse cx="163.5" cy="163.9" rx="1.18" ry="0.74" transform="rotate(11 163.5 163.9)" fill="#d87c94" opacity="0.24"/><ellipse cx="199.6" cy="159.5" rx="0.98" ry="0.66" transform="rotate(107 199.6 159.5)" fill="#b088c0" opacity="0.35"/><ellipse cx="184.4" cy="127.2" rx="0.61" ry="0.48" transform="rotate(61 184.4 127.2)" fill="#b088c0" opacity="0.24"/><ellipse cx="185.4" cy="133.8" rx="0.66" ry="0.54" transform="rotate(140 185.4 133.8)" fill="#d08098" opacity="0.32"/><ellipse cx="196.3" cy="117.0" rx="0.83" ry="0.75" transform="rotate(50 196.3 117.0)" fill="#cc6c88" opacity="0.26"/><ellipse cx="176.5" cy="145.4" rx="1.03" ry="0.81" transform="rotate(49 176.5 145.4)" fill="#c66a94" opacity="0.42"/><ellipse cx="166.3" cy="116.7" rx="0.67" ry="0.42" transform="rotate(17 166.3 116.7)" fill="#d08098" opacity="0.34"/><ellipse cx="196.5" cy="127.0" rx="0.58" ry="0.50" transform="rotate(30 196.5 127.0)" fill="#d4708c" opacity="0.27"/><ellipse cx="203.4" cy="128.8" rx="0.92" ry="0.58" transform="rotate(12 203.4 128.8)" fill="#c66a94" opacity="0.43"/><ellipse cx="177.1" cy="131.0" rx="0.74" ry="0.68" transform="rotate(142 177.1 131.0)" fill="#d08098" opacity="0.39"/><ellipse cx="180.6" cy="145.5" rx="0.50" ry="0.48" transform="rotate(97 180.6 145.5)" fill="#cc6c88" opacity="0.39"/><ellipse cx="169.7" cy="145.1" rx="0.69" ry="0.58" transform="rotate(54 169.7 145.1)" fill="#b088c0" opacity="0.38"/><ellipse cx="185.2" cy="123.4" rx="1.02" ry="0.62" transform="rotate(91 185.2 123.4)" fill="#c66a94" opacity="0.25"/><ellipse cx="183.4" cy="124.6" rx="0.63" ry="0.41" transform="rotate(52 183.4 124.6)" fill="#c66a94" opacity="0.36"/><ellipse cx="179.8" cy="160.1" rx="0.59" ry="0.50" transform="rotate(102 179.8 160.1)" fill="#cc6c88" opacity="0.33"/><ellipse cx="179.8" cy="131.7" rx="0.92" ry="0.73" transform="rotate(127 179.8 131.7)" fill="#b088c0" opacity="0.37"/><ellipse cx="167.2" cy="117.8" rx="0.69" ry="0.61" transform="rotate(117 167.2 117.8)" fill="#d08098" opacity="0.41"/><ellipse cx="163.8" cy="122.0" rx="0.64" ry="0.53" transform="rotate(53 163.8 122.0)" fill="#d08098" opacity="0.27"/><ellipse cx="161.9" cy="101.7" rx="0.68" ry="0.41" transform="rotate(23 161.9 101.7)" fill="#b088c0" opacity="0.43"/><ellipse cx="178.6" cy="156.3" rx="0.58" ry="0.46" transform="rotate(87 178.6 156.3)" fill="#d4708c" opacity="0.22"/><ellipse cx="160.9" cy="144.4" rx="0.96" ry="0.68" transform="rotate(24 160.9 144.4)" fill="#d4708c" opacity="0.31"/><ellipse cx="173.3" cy="156.2" rx="0.90" ry="0.82" transform="rotate(180 173.3 156.2)" fill="#cc6c88" opacity="0.42"/><ellipse cx="184.2" cy="116.8" rx="0.58" ry="0.48" transform="rotate(1 184.2 116.8)" fill="#d87c94" opacity="0.39"/><ellipse cx="183.6" cy="163.9" rx="0.80" ry="0.70" transform="rotate(146 183.6 163.9)" fill="#d87c94" opacity="0.35"/><ellipse cx="171.7" cy="128.5" rx="0.97" ry="0.75" transform="rotate(154 171.7 128.5)" fill="#cc6c88" opacity="0.44"/><ellipse cx="189.4" cy="162.0" rx="0.84" ry="0.77" transform="rotate(174 189.4 162.0)" fill="#d08098" opacity="0.40"/><ellipse cx="183.2" cy="161.2" rx="0.62" ry="0.51" transform="rotate(0 183.2 161.2)" fill="#d87c94" opacity="0.34"/><ellipse cx="178.5" cy="142.1" rx="0.83" ry="0.61" transform="rotate(124 178.5 142.1)" fill="#d4708c" opacity="0.25"/><ellipse cx="185.4" cy="107.7" rx="0.77" ry="0.59" transform="rotate(133 185.4 107.7)" fill="#d87c94" opacity="0.32"/><ellipse cx="183.8" cy="119.4" rx="1.07" ry="0.70" transform="rotate(1 183.8 119.4)" fill="#c66a94" opacity="0.37"/><ellipse cx="180.4" cy="146.8" rx="0.69" ry="0.44" transform="rotate(103 180.4 146.8)" fill="#d87c94" opacity="0.41"/><ellipse cx="185.5" cy="116.0" rx="0.79" ry="0.64" transform="rotate(73 185.5 116.0)" fill="#b088c0" opacity="0.27"/><ellipse cx="174.0" cy="110.0" rx="0.76" ry="0.67" transform="rotate(90 174.0 110.0)" fill="#cc6c88" opacity="0.38"/><ellipse cx="165.2" cy="121.4" rx="0.81" ry="0.62" transform="rotate(43 165.2 121.4)" fill="#c66a94" opacity="0.31"/><ellipse cx="182.4" cy="155.1" rx="0.70" ry="0.51" transform="rotate(101 182.4 155.1)" fill="#d4708c" opacity="0.30"/><ellipse cx="184.1" cy="117.2" rx="1.02" ry="0.66" transform="rotate(105 184.1 117.2)" fill="#d87c94" opacity="0.40"/><ellipse cx="184.5" cy="104.0" rx="0.68" ry="0.51" transform="rotate(116 184.5 104.0)" fill="#d87c94" opacity="0.42"/><ellipse cx="191.8" cy="156.7" rx="0.82" ry="0.56" transform="rotate(150 191.8 156.7)" fill="#c66a94" opacity="0.31"/><ellipse cx="188.4" cy="134.5" rx="0.78" ry="0.72" transform="rotate(146 188.4 134.5)" fill="#d87c94" opacity="0.43"/><ellipse cx="197.9" cy="149.8" rx="1.00" ry="0.71" transform="rotate(80 197.9 149.8)" fill="#d4708c" opacity="0.41"/><ellipse cx="175.8" cy="109.4" rx="0.52" ry="0.44" transform="rotate(9 175.8 109.4)" fill="#d87c94" opacity="0.37"/><ellipse cx="172.5" cy="163.1" rx="1.01" ry="0.82" transform="rotate(6 172.5 163.1)" fill="#cc6c88" opacity="0.38"/><ellipse cx="192.8" cy="134.0" rx="0.91" ry="0.64" transform="rotate(76 192.8 134.0)" fill="#d08098" opacity="0.39"/><ellipse cx="166.3" cy="125.1" rx="0.97" ry="0.61" transform="rotate(107 166.3 125.1)" fill="#d87c94" opacity="0.42"/><ellipse cx="191.8" cy="105.8" rx="0.87" ry="0.81" transform="rotate(143 191.8 105.8)" fill="#d87c94" opacity="0.26"/><ellipse cx="194.7" cy="143.0" rx="0.83" ry="0.59" transform="rotate(64 194.7 143.0)" fill="#d4708c" opacity="0.30"/><ellipse cx="178.3" cy="107.1" rx="0.50" ry="0.47" transform="rotate(152 178.3 107.1)" fill="#b088c0" opacity="0.33"/><ellipse cx="181.9" cy="159.5" rx="1.10" ry="0.74" transform="rotate(115 181.9 159.5)" fill="#d4708c" opacity="0.42"/><ellipse cx="171.1" cy="131.2" rx="1.03" ry="0.64" transform="rotate(143 171.1 131.2)" fill="#c66a94" opacity="0.44"/><ellipse cx="196.9" cy="134.7" rx="0.82" ry="0.64" transform="rotate(72 196.9 134.7)" fill="#d87c94" opacity="0.30"/><ellipse cx="188.3" cy="109.6" rx="0.83" ry="0.60" transform="rotate(44 188.3 109.6)" fill="#d87c94" opacity="0.24"/><ellipse cx="174.3" cy="140.1" rx="0.62" ry="0.55" transform="rotate(42 174.3 140.1)" fill="#d08098" opacity="0.37"/><ellipse cx="197.0" cy="155.6" rx="1.04" ry="0.71" transform="rotate(131 197.0 155.6)" fill="#c66a94" opacity="0.42"/><ellipse cx="174.5" cy="129.8" rx="1.08" ry="0.69" transform="rotate(54 174.5 129.8)" fill="#b088c0" opacity="0.26"/><ellipse cx="162.9" cy="100.5" rx="1.06" ry="0.65" transform="rotate(90 162.9 100.5)" fill="#b088c0" opacity="0.31"/><ellipse cx="197.0" cy="130.2" rx="0.81" ry="0.50" transform="rotate(130 197.0 130.2)" fill="#d08098" opacity="0.23"/><ellipse cx="163.5" cy="121.2" rx="0.51" ry="0.49" transform="rotate(107 163.5 121.2)" fill="#b088c0" opacity="0.41"/><ellipse cx="202.8" cy="161.0" rx="1.10" ry="0.67" transform="rotate(157 202.8 161.0)" fill="#c66a94" opacity="0.31"/><ellipse cx="171.3" cy="127.2" rx="1.04" ry="0.73" transform="rotate(81 171.3 127.2)" fill="#d08098" opacity="0.24"/><ellipse cx="193.5" cy="112.4" rx="0.57" ry="0.53" transform="rotate(108 193.5 112.4)" fill="#cc6c88" opacity="0.24"/><ellipse cx="182.2" cy="136.7" rx="0.57" ry="0.46" transform="rotate(136 182.2 136.7)" fill="#cc6c88" opacity="0.37"/><ellipse cx="194.2" cy="147.6" rx="0.83" ry="0.54" transform="rotate(171 194.2 147.6)" fill="#d4708c" opacity="0.22"/><ellipse cx="205.9" cy="151.1" rx="0.58" ry="0.48" transform="rotate(13 205.9 151.1)" fill="#b088c0" opacity="0.41"/><ellipse cx="176.6" cy="147.7" rx="0.82" ry="0.61" transform="rotate(21 176.6 147.7)" fill="#cc6c88" opacity="0.35"/><ellipse cx="165.2" cy="159.9" rx="0.75" ry="0.46" transform="rotate(124 165.2 159.9)" fill="#cc6c88" opacity="0.30"/><ellipse cx="201.7" cy="125.2" rx="1.11" ry="0.79" transform="rotate(53 201.7 125.2)" fill="#d87c94" opacity="0.35"/><ellipse cx="179.7" cy="105.9" rx="0.57" ry="0.45" transform="rotate(177 179.7 105.9)" fill="#d87c94" opacity="0.40"/><ellipse cx="168.9" cy="160.2" rx="0.91" ry="0.85" transform="rotate(81 168.9 160.2)" fill="#c66a94" opacity="0.34"/><ellipse cx="198.5" cy="153.7" rx="0.66" ry="0.63" transform="rotate(12 198.5 153.7)" fill="#cc6c88" opacity="0.26"/><ellipse cx="167.7" cy="104.1" rx="1.09" ry="0.73" transform="rotate(155 167.7 104.1)" fill="#c66a94" opacity="0.27"/><ellipse cx="199.7" cy="134.3" rx="0.62" ry="0.61" transform="rotate(120 199.7 134.3)" fill="#b088c0" opacity="0.29"/><ellipse cx="179.7" cy="140.4" rx="1.08" ry="0.71" transform="rotate(23 179.7 140.4)" fill="#cc6c88" opacity="0.36"/><ellipse cx="201.5" cy="141.7" rx="0.52" ry="0.50" transform="rotate(162 201.5 141.7)" fill="#cc6c88" opacity="0.41"/><ellipse cx="174.1" cy="124.3" rx="0.81" ry="0.68" transform="rotate(161 174.1 124.3)" fill="#c66a94" opacity="0.43"/><ellipse cx="182.8" cy="135.1" rx="1.07" ry="0.79" transform="rotate(8 182.8 135.1)" fill="#cc6c88" opacity="0.38"/><ellipse cx="191.1" cy="153.3" rx="0.83" ry="0.77" transform="rotate(123 191.1 153.3)" fill="#c66a94" opacity="0.33"/><ellipse cx="204.2" cy="156.4" rx="0.91" ry="0.63" transform="rotate(65 204.2 156.4)" fill="#d4708c" opacity="0.38"/><ellipse cx="185.4" cy="127.6" rx="0.72" ry="0.43" transform="rotate(118 185.4 127.6)" fill="#cc6c88" opacity="0.42"/><ellipse cx="204.5" cy="150.7" rx="0.86" ry="0.59" transform="rotate(15 204.5 150.7)" fill="#b088c0" opacity="0.43"/><ellipse cx="160.3" cy="106.4" rx="0.68" ry="0.67" transform="rotate(79 160.3 106.4)" fill="#d4708c" opacity="0.29"/><circle cx="183.2" cy="106.9" r="0.60" fill="#e0a040" opacity="0.36"/><circle cx="174.7" cy="133.8" r="0.62" fill="#e0a040" opacity="0.43"/><circle cx="155.3" cy="155.2" r="0.64" fill="#e8b050" opacity="0.39"/><circle cx="194.3" cy="136.5" r="0.60" fill="#e8b050" opacity="0.49"/><circle cx="200.1" cy="138.5" r="0.68" fill="#e8b050" opacity="0.40"/><circle cx="163.4" cy="125.3" r="0.71" fill="#e8b050" opacity="0.46"/><circle cx="138.6" cy="118.3" r="0.46" fill="#e8b050" opacity="0.39"/><circle cx="206.0" cy="132.1" r="0.49" fill="#e8b050" opacity="0.49"/><circle cx="169.7" cy="99.9" r="0.48" fill="#e8b050" opacity="0.35"/><circle cx="126.7" cy="163.7" r="0.56" fill="#e8b050" opacity="0.35"/><circle cx="150.2" cy="121.7" r="0.66" fill="#e8b050" opacity="0.44"/><g filter="url(#bl4)"><circle cx="205.0" cy="130.1" r="1.25" fill="#d87c94" opacity="0.63"/><circle cx="203.5" cy="123.4" r="0.79" fill="#d87c94" opacity="0.63"/><circle cx="189.9" cy="105.7" r="0.88" fill="#d4708c" opacity="0.60"/><circle cx="187.1" cy="102.7" r="1.08" fill="#cc6484" opacity="0.77"/><circle cx="180.7" cy="100.3" r="1.01" fill="#cc6484" opacity="0.72"/><circle cx="195.9" cy="110.9" r="1.03" fill="#d4708c" opacity="0.70"/><circle cx="175.5" cy="99.5" r="0.86" fill="#d87c94" opacity="0.59"/><circle cx="185.4" cy="102.3" r="1.00" fill="#d4708c" opacity="0.57"/><circle cx="192.3" cy="108.0" r="0.92" fill="#d4708c" opacity="0.75"/><circle cx="189.2" cy="105.3" r="1.28" fill="#c86890" opacity="0.73"/><circle cx="202.6" cy="122.8" r="1.05" fill="#cc6484" opacity="0.84"/><circle cx="203.8" cy="123.9" r="0.82" fill="#d4708c" opacity="0.53"/><circle cx="192.6" cy="108.0" r="1.26" fill="#d4708c" opacity="0.54"/><circle cx="195.7" cy="112.2" r="0.96" fill="#c86890" opacity="0.56"/><circle cx="176.2" cy="98.4" r="1.15" fill="#d4708c" opacity="0.73"/><circle cx="201.5" cy="119.0" r="1.11" fill="#d87c94" opacity="0.77"/><circle cx="201.8" cy="120.6" r="0.75" fill="#d4708c" opacity="0.54"/><circle cx="177.9" cy="99.8" r="0.73" fill="#cc6484" opacity="0.75"/><circle cx="193.3" cy="109.2" r="0.95" fill="#cc6484" opacity="0.85"/><circle cx="203.0" cy="122.6" r="0.90" fill="#d4708c" opacity="0.57"/><circle cx="196.1" cy="110.7" r="0.93" fill="#d87c94" opacity="0.69"/><circle cx="195.5" cy="109.8" r="0.88" fill="#c86890" opacity="0.78"/><circle cx="204.2" cy="124.7" r="0.73" fill="#d87c94" opacity="0.83"/><circle cx="199.6" cy="115.7" r="1.26" fill="#d87c94" opacity="0.57"/><circle cx="205.1" cy="127.4" r="0.89" fill="#d4708c" opacity="0.64"/><circle cx="196.9" cy="112.4" r="1.18" fill="#d87c94" opacity="0.57"/><circle cx="182.5" cy="100.8" r="0.94" fill="#c86890" opacity="0.57"/><circle cx="182.8" cy="102.4" r="0.77" fill="#cc6484" opacity="0.80"/><circle cx="176.4" cy="98.5" r="1.25" fill="#cc6484" opacity="0.67"/><circle cx="199.7" cy="116.7" r="0.83" fill="#cc6484" opacity="0.55"/><circle cx="205.3" cy="127.7" r="0.76" fill="#d4708c" opacity="0.83"/><circle cx="192.0" cy="106.9" r="1.24" fill="#c86890" opacity="0.55"/><circle cx="176.1" cy="98.2" r="1.20" fill="#d87c94" opacity="0.77"/><circle cx="204.1" cy="126.5" r="1.13" fill="#d87c94" opacity="0.82"/><circle cx="188.6" cy="104.0" r="1.18" fill="#cc6484" opacity="0.64"/><circle cx="173.7" cy="98.7" r="0.83" fill="#d4708c" opacity="0.57"/><circle cx="180.7" cy="100.2" r="0.94" fill="#d4708c" opacity="0.79"/><circle cx="176.5" cy="100.5" r="1.26" fill="#d4708c" opacity="0.60"/><circle cx="189.9" cy="105.4" r="1.26" fill="#d4708c" opacity="0.57"/><circle cx="186.7" cy="103.6" r="1.15" fill="#cc6484" opacity="0.55"/><circle cx="185.2" cy="103.3" r="0.84" fill="#d87c94" opacity="0.51"/><circle cx="197.3" cy="113.0" r="1.27" fill="#d87c94" opacity="0.52"/><circle cx="188.5" cy="103.9" r="1.15" fill="#cc6484" opacity="0.54"/><circle cx="203.1" cy="124.5" r="0.97" fill="#d4708c" opacity="0.78"/><circle cx="197.9" cy="112.8" r="1.01" fill="#d4708c" opacity="0.64"/><circle cx="198.9" cy="118.0" r="0.75" fill="#cc6484" opacity="0.63"/></g><circle cx="205.0" cy="130.1" r="0.75" fill="#d87c94" opacity="0.32"/><circle cx="203.5" cy="123.4" r="0.48" fill="#d87c94" opacity="0.32"/><circle cx="189.9" cy="105.7" r="0.53" fill="#d4708c" opacity="0.30"/><circle cx="187.1" cy="102.7" r="0.65" fill="#cc6484" opacity="0.38"/><circle cx="180.7" cy="100.3" r="0.61" fill="#cc6484" opacity="0.36"/><circle cx="195.9" cy="110.9" r="0.62" fill="#d4708c" opacity="0.35"/><circle cx="175.5" cy="99.5" r="0.52" fill="#d87c94" opacity="0.29"/><circle cx="185.4" cy="102.3" r="0.60" fill="#d4708c" opacity="0.29"/><circle cx="192.3" cy="108.0" r="0.55" fill="#d4708c" opacity="0.38"/><circle cx="189.2" cy="105.3" r="0.77" fill="#c86890" opacity="0.36"/><circle cx="202.6" cy="122.8" r="0.63" fill="#cc6484" opacity="0.42"/><circle cx="203.8" cy="123.9" r="0.49" fill="#d4708c" opacity="0.26"/><circle cx="192.6" cy="108.0" r="0.76" fill="#d4708c" opacity="0.27"/><circle cx="195.7" cy="112.2" r="0.58" fill="#c86890" opacity="0.28"/><circle cx="176.2" cy="98.4" r="0.69" fill="#d4708c" opacity="0.37"/><circle cx="201.5" cy="119.0" r="0.66" fill="#d87c94" opacity="0.38"/><circle cx="201.8" cy="120.6" r="0.45" fill="#d4708c" opacity="0.27"/><circle cx="177.9" cy="99.8" r="0.44" fill="#cc6484" opacity="0.37"/><circle cx="193.3" cy="109.2" r="0.57" fill="#cc6484" opacity="0.42"/><circle cx="203.0" cy="122.6" r="0.54" fill="#d4708c" opacity="0.28"/><circle cx="196.1" cy="110.7" r="0.56" fill="#d87c94" opacity="0.35"/><circle cx="195.5" cy="109.8" r="0.53" fill="#c86890" opacity="0.39"/><circle cx="204.2" cy="124.7" r="0.44" fill="#d87c94" opacity="0.41"/><circle cx="199.6" cy="115.7" r="0.75" fill="#d87c94" opacity="0.29"/><circle cx="205.1" cy="127.4" r="0.53" fill="#d4708c" opacity="0.32"/><circle cx="196.9" cy="112.4" r="0.71" fill="#d87c94" opacity="0.29"/><circle cx="182.5" cy="100.8" r="0.57" fill="#c86890" opacity="0.29"/><circle cx="182.8" cy="102.4" r="0.46" fill="#cc6484" opacity="0.40"/><circle cx="176.4" cy="98.5" r="0.75" fill="#cc6484" opacity="0.34"/><circle cx="199.7" cy="116.7" r="0.50" fill="#cc6484" opacity="0.28"/><circle cx="205.3" cy="127.7" r="0.45" fill="#d4708c" opacity="0.42"/><circle cx="192.0" cy="106.9" r="0.75" fill="#c86890" opacity="0.28"/><circle cx="176.1" cy="98.2" r="0.72" fill="#d87c94" opacity="0.38"/><circle cx="204.1" cy="126.5" r="0.68" fill="#d87c94" opacity="0.41"/><circle cx="188.6" cy="104.0" r="0.71" fill="#cc6484" opacity="0.32"/><circle cx="173.7" cy="98.7" r="0.50" fill="#d4708c" opacity="0.28"/><circle cx="180.7" cy="100.2" r="0.56" fill="#d4708c" opacity="0.39"/><circle cx="176.5" cy="100.5" r="0.76" fill="#d4708c" opacity="0.30"/><circle cx="189.9" cy="105.4" r="0.75" fill="#d4708c" opacity="0.29"/><circle cx="186.7" cy="103.6" r="0.69" fill="#cc6484" opacity="0.27"/><circle cx="185.2" cy="103.3" r="0.50" fill="#d87c94" opacity="0.26"/><circle cx="197.3" cy="113.0" r="0.76" fill="#d87c94" opacity="0.26"/><circle cx="188.5" cy="103.9" r="0.69" fill="#cc6484" opacity="0.27"/><circle cx="203.1" cy="124.5" r="0.58" fill="#d4708c" opacity="0.39"/><circle cx="197.9" cy="112.8" r="0.60" fill="#d4708c" opacity="0.32"/><circle cx="198.9" cy="118.0" r="0.45" fill="#cc6484" opacity="0.31"/>
<rect x="122" y="96" width="85" height="69" filter="url(#nzp)" opacity="0.1"/><rect x="122" y="96" width="85" height="69" filter="url(#nz)" opacity="0.06"/>
</g>
<rect x="181.9" y="154.1" width="23.20" height="2.10" rx="0.6" fill="#000" filter="url(#bl3)"/><text x="194.4" y="162.4" font-size="6.0" text-anchor="middle" fill="#6a7284" filter="url(#bl3)">50µm</text>
<text x="171.8" y="118.2" font-size="7" font-weight="bold" text-anchor="middle" fill="#15151c" textLength="10.2" lengthAdjust="spacingAndGlyphs" filter="url(#bl3)">(w)</text>
<g filter="url(#bl3)"><path d="M173.8 121.0L170.1 125.2" stroke="#15151c" stroke-width="1.5"/><path d="M167.4 128.4L168.3 123.7L172.0 126.8Z" fill="#15151c"/></g>
<text x="176.2" y="142.6" font-size="7" font-weight="bold" text-anchor="middle" fill="#15151c" textLength="10.2" lengthAdjust="spacingAndGlyphs" filter="url(#bl3)">(w)</text>
<g filter="url(#bl3)"><path d="M175.4 145.0L171.1 149.4" stroke="#15151c" stroke-width="1.5"/><path d="M168.2 152.4L169.4 147.7L172.8 151.1Z" fill="#15151c"/></g>
<g clip-path="url(#c6)">
<rect x="207" y="96" width="85" height="69" fill="#c5d9f1"/>
<ellipse cx="209" cy="164" rx="16" ry="12" fill="#aeb4de" filter="url(#bl5)" opacity="0.8"/>
<g filter="url(#bl4)"><ellipse cx="223.0" cy="127.9" rx="2.57" ry="1.08" transform="rotate(165 223.0 127.9)" fill="#dc6c84" opacity="0.51"/><ellipse cx="266.6" cy="121.6" rx="2.06" ry="0.95" transform="rotate(17 266.6 121.6)" fill="#d65c78" opacity="0.66"/><ellipse cx="257.7" cy="118.2" rx="2.27" ry="1.03" transform="rotate(137 257.7 118.2)" fill="#cc6890" opacity="0.64"/><ellipse cx="283.5" cy="142.7" rx="1.14" ry="0.87" transform="rotate(124 283.5 142.7)" fill="#d66880" opacity="0.83"/><ellipse cx="275.0" cy="114.8" rx="2.42" ry="1.11" transform="rotate(16 275.0 114.8)" fill="#d4647e" opacity="0.72"/><ellipse cx="269.1" cy="140.0" rx="1.89" ry="1.06" transform="rotate(145 269.1 140.0)" fill="#d4647e" opacity="0.63"/><ellipse cx="242.6" cy="157.2" rx="1.78" ry="0.74" transform="rotate(32 242.6 157.2)" fill="#d66880" opacity="0.79"/><ellipse cx="209.1" cy="150.8" rx="2.28" ry="1.09" transform="rotate(98 209.1 150.8)" fill="#de7c92" opacity="0.61"/><ellipse cx="264.7" cy="102.7" rx="1.54" ry="0.89" transform="rotate(65 264.7 102.7)" fill="#d65c78" opacity="0.76"/><ellipse cx="217.0" cy="106.9" rx="1.79" ry="0.83" transform="rotate(174 217.0 106.9)" fill="#de7c92" opacity="0.80"/><ellipse cx="288.2" cy="123.7" rx="1.88" ry="1.33" transform="rotate(94 288.2 123.7)" fill="#de7c92" opacity="0.56"/><ellipse cx="278.2" cy="103.6" rx="1.44" ry="1.42" transform="rotate(121 278.2 103.6)" fill="#cc6890" opacity="0.49"/><ellipse cx="259.2" cy="161.5" rx="1.94" ry="0.87" transform="rotate(16 259.2 161.5)" fill="#d65c78" opacity="0.74"/><ellipse cx="209.6" cy="160.1" rx="1.15" ry="0.90" transform="rotate(2 209.6 160.1)" fill="#d65c78" opacity="0.61"/><ellipse cx="243.6" cy="137.2" rx="1.04" ry="0.82" transform="rotate(162 243.6 137.2)" fill="#d65c78" opacity="0.68"/><ellipse cx="272.2" cy="128.3" rx="1.18" ry="0.87" transform="rotate(64 272.2 128.3)" fill="#d66880" opacity="0.73"/><ellipse cx="249.8" cy="112.9" rx="1.29" ry="1.05" transform="rotate(32 249.8 112.9)" fill="#cc6890" opacity="0.73"/><ellipse cx="283.9" cy="100.2" rx="1.81" ry="1.23" transform="rotate(33 283.9 100.2)" fill="#de7c92" opacity="0.67"/><ellipse cx="280.6" cy="101.4" rx="2.54" ry="1.08" transform="rotate(35 280.6 101.4)" fill="#d65c78" opacity="0.77"/><ellipse cx="275.4" cy="110.5" rx="1.41" ry="1.30" transform="rotate(179 275.4 110.5)" fill="#d65c78" opacity="0.58"/><ellipse cx="262.6" cy="120.4" rx="1.67" ry="0.95" transform="rotate(164 262.6 120.4)" fill="#d66880" opacity="0.73"/><ellipse cx="221.3" cy="120.0" rx="2.12" ry="1.02" transform="rotate(20 221.3 120.0)" fill="#cc6890" opacity="0.64"/><ellipse cx="261.1" cy="119.1" rx="1.74" ry="1.13" transform="rotate(95 261.1 119.1)" fill="#d4647e" opacity="0.65"/><ellipse cx="241.2" cy="129.1" rx="1.86" ry="0.88" transform="rotate(46 241.2 129.1)" fill="#cc6890" opacity="0.48"/><ellipse cx="267.6" cy="129.8" rx="1.16" ry="1.13" transform="rotate(73 267.6 129.8)" fill="#d65c78" opacity="0.83"/><ellipse cx="233.7" cy="163.9" rx="1.42" ry="1.41" transform="rotate(72 233.7 163.9)" fill="#d66880" opacity="0.84"/><ellipse cx="252.3" cy="100.6" rx="2.42" ry="1.08" transform="rotate(93 252.3 100.6)" fill="#dc6c84" opacity="0.49"/><ellipse cx="270.0" cy="153.8" rx="1.71" ry="0.93" transform="rotate(15 270.0 153.8)" fill="#de7c92" opacity="0.72"/><ellipse cx="288.8" cy="104.1" rx="1.59" ry="0.79" transform="rotate(162 288.8 104.1)" fill="#d4647e" opacity="0.45"/><ellipse cx="236.6" cy="103.9" rx="0.96" ry="0.89" transform="rotate(68 236.6 103.9)" fill="#d4647e" opacity="0.67"/><ellipse cx="269.0" cy="103.7" rx="1.69" ry="0.80" transform="rotate(78 269.0 103.7)" fill="#dc6c84" opacity="0.59"/><ellipse cx="240.4" cy="139.8" rx="1.38" ry="0.70" transform="rotate(38 240.4 139.8)" fill="#cc6890" opacity="0.50"/><ellipse cx="263.5" cy="118.8" rx="1.26" ry="0.73" transform="rotate(70 263.5 118.8)" fill="#d4647e" opacity="0.59"/><ellipse cx="236.6" cy="159.0" rx="1.79" ry="1.11" transform="rotate(66 236.6 159.0)" fill="#de7c92" opacity="0.58"/><ellipse cx="280.0" cy="121.6" rx="1.75" ry="1.11" transform="rotate(179 280.0 121.6)" fill="#dc6c84" opacity="0.62"/><ellipse cx="271.9" cy="131.1" rx="1.38" ry="0.80" transform="rotate(168 271.9 131.1)" fill="#de7c92" opacity="0.59"/><ellipse cx="265.6" cy="152.2" rx="1.31" ry="1.18" transform="rotate(116 265.6 152.2)" fill="#d66880" opacity="0.50"/><ellipse cx="261.7" cy="100.0" rx="1.42" ry="1.01" transform="rotate(179 261.7 100.0)" fill="#dc6c84" opacity="0.66"/><ellipse cx="272.1" cy="142.5" rx="1.76" ry="1.24" transform="rotate(3 272.1 142.5)" fill="#cc6890" opacity="0.47"/><ellipse cx="241.7" cy="142.4" rx="2.12" ry="0.95" transform="rotate(150 241.7 142.4)" fill="#d4647e" opacity="0.47"/><ellipse cx="257.4" cy="128.2" rx="2.44" ry="1.03" transform="rotate(78 257.4 128.2)" fill="#d65c78" opacity="0.64"/><ellipse cx="259.2" cy="116.9" rx="1.41" ry="1.23" transform="rotate(2 259.2 116.9)" fill="#de7c92" opacity="0.61"/><ellipse cx="277.3" cy="128.4" rx="1.79" ry="0.91" transform="rotate(86 277.3 128.4)" fill="#d65c78" opacity="0.82"/><ellipse cx="270.9" cy="129.8" rx="1.54" ry="1.20" transform="rotate(116 270.9 129.8)" fill="#d65c78" opacity="0.68"/><ellipse cx="261.1" cy="163.0" rx="1.23" ry="0.78" transform="rotate(42 261.1 163.0)" fill="#d4647e" opacity="0.75"/><ellipse cx="277.1" cy="142.2" rx="1.17" ry="0.97" transform="rotate(136 277.1 142.2)" fill="#cc6890" opacity="0.64"/><ellipse cx="263.3" cy="100.6" rx="1.25" ry="1.10" transform="rotate(15 263.3 100.6)" fill="#d66880" opacity="0.66"/><ellipse cx="214.2" cy="118.9" rx="2.08" ry="1.09" transform="rotate(150 214.2 118.9)" fill="#d66880" opacity="0.52"/><ellipse cx="262.3" cy="97.7" rx="1.56" ry="0.94" transform="rotate(123 262.3 97.7)" fill="#de7c92" opacity="0.50"/><ellipse cx="252.3" cy="119.1" rx="1.47" ry="0.66" transform="rotate(8 252.3 119.1)" fill="#cc6890" opacity="0.52"/><ellipse cx="232.0" cy="139.3" rx="2.00" ry="0.90" transform="rotate(33 232.0 139.3)" fill="#d65c78" opacity="0.75"/><ellipse cx="267.8" cy="122.4" rx="2.17" ry="1.01" transform="rotate(143 267.8 122.4)" fill="#cc6890" opacity="0.54"/><ellipse cx="217.7" cy="104.2" rx="1.75" ry="1.23" transform="rotate(160 217.7 104.2)" fill="#cc6890" opacity="0.81"/><ellipse cx="220.0" cy="105.3" rx="1.34" ry="1.18" transform="rotate(126 220.0 105.3)" fill="#dc6c84" opacity="0.53"/><ellipse cx="265.7" cy="148.0" rx="1.31" ry="0.74" transform="rotate(15 265.7 148.0)" fill="#dc6c84" opacity="0.47"/><ellipse cx="267.4" cy="133.7" rx="2.42" ry="1.13" transform="rotate(91 267.4 133.7)" fill="#de7c92" opacity="0.71"/><ellipse cx="232.1" cy="101.1" rx="2.02" ry="1.05" transform="rotate(20 232.1 101.1)" fill="#cc6890" opacity="0.75"/><ellipse cx="236.6" cy="161.9" rx="1.57" ry="0.66" transform="rotate(79 236.6 161.9)" fill="#cc6890" opacity="0.81"/><ellipse cx="220.9" cy="130.0" rx="1.44" ry="1.05" transform="rotate(78 220.9 130.0)" fill="#de7c92" opacity="0.83"/><ellipse cx="282.4" cy="110.9" rx="1.77" ry="0.89" transform="rotate(49 282.4 110.9)" fill="#cc6890" opacity="0.54"/><ellipse cx="242.0" cy="128.5" rx="1.76" ry="0.77" transform="rotate(29 242.0 128.5)" fill="#cc6890" opacity="0.83"/><ellipse cx="210.1" cy="126.5" rx="1.89" ry="1.12" transform="rotate(44 210.1 126.5)" fill="#d66880" opacity="0.77"/><ellipse cx="282.8" cy="133.1" rx="1.28" ry="0.89" transform="rotate(167 282.8 133.1)" fill="#de7c92" opacity="0.61"/><ellipse cx="290.5" cy="128.4" rx="1.79" ry="1.34" transform="rotate(28 290.5 128.4)" fill="#d65c78" opacity="0.69"/><ellipse cx="249.9" cy="131.7" rx="1.83" ry="1.15" transform="rotate(176 249.9 131.7)" fill="#dc6c84" opacity="0.57"/><ellipse cx="233.4" cy="133.2" rx="1.64" ry="1.12" transform="rotate(60 233.4 133.2)" fill="#d4647e" opacity="0.50"/><ellipse cx="267.8" cy="122.5" rx="1.75" ry="1.16" transform="rotate(27 267.8 122.5)" fill="#d66880" opacity="0.73"/><ellipse cx="238.2" cy="118.8" rx="1.19" ry="0.73" transform="rotate(127 238.2 118.8)" fill="#de7c92" opacity="0.66"/><ellipse cx="213.5" cy="105.4" rx="1.79" ry="1.13" transform="rotate(77 213.5 105.4)" fill="#d65c78" opacity="0.74"/><ellipse cx="234.3" cy="109.6" rx="1.81" ry="0.88" transform="rotate(83 234.3 109.6)" fill="#d66880" opacity="0.62"/><ellipse cx="267.8" cy="163.4" rx="1.91" ry="1.12" transform="rotate(170 267.8 163.4)" fill="#d66880" opacity="0.59"/><ellipse cx="227.2" cy="127.5" rx="2.08" ry="1.23" transform="rotate(131 227.2 127.5)" fill="#d66880" opacity="0.71"/><ellipse cx="264.1" cy="156.1" rx="2.11" ry="1.07" transform="rotate(51 264.1 156.1)" fill="#dc6c84" opacity="0.55"/><ellipse cx="257.4" cy="148.9" rx="1.04" ry="0.80" transform="rotate(55 257.4 148.9)" fill="#dc6c84" opacity="0.66"/><ellipse cx="254.0" cy="146.7" rx="1.61" ry="0.75" transform="rotate(63 254.0 146.7)" fill="#d65c78" opacity="0.52"/><ellipse cx="215.3" cy="116.8" rx="1.49" ry="1.27" transform="rotate(110 215.3 116.8)" fill="#cc6890" opacity="0.69"/><ellipse cx="261.7" cy="112.8" rx="1.85" ry="1.07" transform="rotate(29 261.7 112.8)" fill="#dc6c84" opacity="0.46"/><ellipse cx="249.6" cy="129.3" rx="1.30" ry="0.88" transform="rotate(125 249.6 129.3)" fill="#dc6c84" opacity="0.70"/><ellipse cx="271.1" cy="142.5" rx="1.73" ry="0.75" transform="rotate(179 271.1 142.5)" fill="#d4647e" opacity="0.62"/><ellipse cx="236.6" cy="109.8" rx="1.24" ry="0.91" transform="rotate(5 236.6 109.8)" fill="#de7c92" opacity="0.63"/><ellipse cx="266.1" cy="125.9" rx="1.31" ry="0.86" transform="rotate(87 266.1 125.9)" fill="#cc6890" opacity="0.61"/><ellipse cx="219.8" cy="103.8" rx="1.42" ry="0.92" transform="rotate(72 219.8 103.8)" fill="#d4647e" opacity="0.84"/><ellipse cx="226.4" cy="101.7" rx="2.27" ry="1.07" transform="rotate(165 226.4 101.7)" fill="#cc6890" opacity="0.78"/><ellipse cx="227.2" cy="100.5" rx="1.33" ry="0.78" transform="rotate(41 227.2 100.5)" fill="#cc6890" opacity="0.75"/><ellipse cx="210.3" cy="133.0" rx="1.85" ry="0.90" transform="rotate(33 210.3 133.0)" fill="#d65c78" opacity="0.51"/><ellipse cx="274.4" cy="148.0" rx="1.67" ry="0.93" transform="rotate(58 274.4 148.0)" fill="#de7c92" opacity="0.47"/><ellipse cx="246.0" cy="99.0" rx="0.96" ry="0.84" transform="rotate(75 246.0 99.0)" fill="#d4647e" opacity="0.61"/><ellipse cx="261.6" cy="99.1" rx="1.57" ry="1.31" transform="rotate(101 261.6 99.1)" fill="#d4647e" opacity="0.54"/><ellipse cx="272.5" cy="99.1" rx="1.96" ry="1.25" transform="rotate(134 272.5 99.1)" fill="#cc6890" opacity="0.67"/><ellipse cx="235.6" cy="108.4" rx="2.18" ry="0.96" transform="rotate(150 235.6 108.4)" fill="#dc6c84" opacity="0.56"/><ellipse cx="284.4" cy="106.4" rx="1.14" ry="0.69" transform="rotate(93 284.4 106.4)" fill="#a878b8" opacity="0.51"/><ellipse cx="268.4" cy="104.0" rx="0.84" ry="0.79" transform="rotate(85 268.4 104.0)" fill="#c07098" opacity="0.50"/><ellipse cx="235.7" cy="149.8" rx="0.92" ry="0.81" transform="rotate(128 235.7 149.8)" fill="#c07098" opacity="0.52"/><ellipse cx="254.4" cy="115.2" rx="0.77" ry="0.70" transform="rotate(110 254.4 115.2)" fill="#c07098" opacity="0.57"/><ellipse cx="262.4" cy="161.2" rx="1.60" ry="0.88" transform="rotate(98 262.4 161.2)" fill="#b070a8" opacity="0.52"/><ellipse cx="211.6" cy="105.0" rx="1.13" ry="0.68" transform="rotate(164 211.6 105.0)" fill="#b070a8" opacity="0.69"/><ellipse cx="232.2" cy="118.6" rx="1.70" ry="0.77" transform="rotate(167 232.2 118.6)" fill="#a878b8" opacity="0.45"/><ellipse cx="257.1" cy="152.4" rx="1.30" ry="0.72" transform="rotate(20 257.1 152.4)" fill="#a878b8" opacity="0.71"/><ellipse cx="284.9" cy="125.1" rx="0.91" ry="0.89" transform="rotate(77 284.9 125.1)" fill="#a878b8" opacity="0.55"/><ellipse cx="252.9" cy="148.8" rx="1.07" ry="0.59" transform="rotate(123 252.9 148.8)" fill="#b070a8" opacity="0.57"/><ellipse cx="223.2" cy="118.9" rx="0.89" ry="0.70" transform="rotate(172 223.2 118.9)" fill="#c07098" opacity="0.71"/><ellipse cx="212.7" cy="107.0" rx="1.03" ry="0.84" transform="rotate(142 212.7 107.0)" fill="#c07098" opacity="0.55"/><ellipse cx="267.6" cy="120.1" rx="1.31" ry="0.87" transform="rotate(159 267.6 120.1)" fill="#c07098" opacity="0.56"/><ellipse cx="231.7" cy="143.4" rx="1.23" ry="0.75" transform="rotate(85 231.7 143.4)" fill="#a878b8" opacity="0.77"/><ellipse cx="210.5" cy="126.6" rx="1.15" ry="1.01" transform="rotate(107 210.5 126.6)" fill="#b070a8" opacity="0.55"/><ellipse cx="236.0" cy="133.9" rx="1.18" ry="0.82" transform="rotate(50 236.0 133.9)" fill="#b070a8" opacity="0.45"/><ellipse cx="249.9" cy="144.7" rx="1.14" ry="0.82" transform="rotate(172 249.9 144.7)" fill="#a878b8" opacity="0.73"/><ellipse cx="215.5" cy="157.7" rx="0.85" ry="0.54" transform="rotate(95 215.5 157.7)" fill="#c07098" opacity="0.67"/><ellipse cx="239.1" cy="113.7" rx="1.45" ry="0.71" transform="rotate(165 239.1 113.7)" fill="#b070a8" opacity="0.51"/><ellipse cx="225.7" cy="123.2" rx="1.77" ry="0.74" transform="rotate(61 225.7 123.2)" fill="#c07098" opacity="0.54"/><ellipse cx="230.4" cy="121.9" rx="1.54" ry="0.68" transform="rotate(145 230.4 121.9)" fill="#a878b8" opacity="0.50"/><ellipse cx="255.3" cy="117.2" rx="0.82" ry="0.52" transform="rotate(52 255.3 117.2)" fill="#b070a8" opacity="0.64"/><ellipse cx="209.7" cy="136.0" rx="1.80" ry="0.79" transform="rotate(148 209.7 136.0)" fill="#c07098" opacity="0.55"/><ellipse cx="264.3" cy="116.2" rx="1.02" ry="0.52" transform="rotate(172 264.3 116.2)" fill="#b070a8" opacity="0.44"/><ellipse cx="241.3" cy="159.4" rx="1.74" ry="0.82" transform="rotate(110 241.3 159.4)" fill="#a878b8" opacity="0.62"/><ellipse cx="281.6" cy="109.2" rx="1.21" ry="0.66" transform="rotate(97 281.6 109.2)" fill="#b070a8" opacity="0.59"/><ellipse cx="225.9" cy="153.2" rx="1.93" ry="0.81" transform="rotate(66 225.9 153.2)" fill="#b070a8" opacity="0.77"/><ellipse cx="253.1" cy="124.7" rx="1.25" ry="0.89" transform="rotate(166 253.1 124.7)" fill="#b070a8" opacity="0.67"/><ellipse cx="223.8" cy="154.9" rx="1.20" ry="0.61" transform="rotate(139 223.8 154.9)" fill="#a878b8" opacity="0.72"/><ellipse cx="225.6" cy="159.5" rx="1.29" ry="0.55" transform="rotate(175 225.6 159.5)" fill="#c07098" opacity="0.64"/><ellipse cx="254.9" cy="119.7" rx="1.24" ry="0.80" transform="rotate(34 254.9 119.7)" fill="#c07098" opacity="0.54"/><ellipse cx="213.8" cy="125.3" rx="1.13" ry="0.65" transform="rotate(31 213.8 125.3)" fill="#c07098" opacity="0.44"/><ellipse cx="231.4" cy="116.9" rx="1.10" ry="0.66" transform="rotate(176 231.4 116.9)" fill="#a878b8" opacity="0.71"/><ellipse cx="254.8" cy="97.8" rx="1.19" ry="0.71" transform="rotate(63 254.8 97.8)" fill="#c07098" opacity="0.61"/><ellipse cx="223.4" cy="111.3" rx="0.93" ry="0.54" transform="rotate(16 223.4 111.3)" fill="#a878b8" opacity="0.41"/><ellipse cx="284.6" cy="113.2" rx="1.14" ry="0.73" transform="rotate(143 284.6 113.2)" fill="#a878b8" opacity="0.65"/><ellipse cx="264.4" cy="105.1" rx="1.15" ry="0.76" transform="rotate(162 264.4 105.1)" fill="#a878b8" opacity="0.46"/><ellipse cx="238.3" cy="141.5" rx="1.08" ry="0.72" transform="rotate(153 238.3 141.5)" fill="#a878b8" opacity="0.67"/><ellipse cx="233.3" cy="118.3" rx="1.19" ry="0.85" transform="rotate(15 233.3 118.3)" fill="#b070a8" opacity="0.79"/><ellipse cx="225.9" cy="97.3" rx="0.83" ry="0.69" transform="rotate(45 225.9 97.3)" fill="#c07098" opacity="0.46"/></g><ellipse cx="223.0" cy="127.9" rx="1.54" ry="0.65" transform="rotate(165 223.0 127.9)" fill="#dc6c84" opacity="0.23"/><ellipse cx="266.6" cy="121.6" rx="1.24" ry="0.57" transform="rotate(17 266.6 121.6)" fill="#d65c78" opacity="0.30"/><ellipse cx="257.7" cy="118.2" rx="1.36" ry="0.62" transform="rotate(137 257.7 118.2)" fill="#cc6890" opacity="0.29"/><ellipse cx="283.5" cy="142.7" rx="0.68" ry="0.52" transform="rotate(124 283.5 142.7)" fill="#d66880" opacity="0.37"/><ellipse cx="275.0" cy="114.8" rx="1.45" ry="0.66" transform="rotate(16 275.0 114.8)" fill="#d4647e" opacity="0.32"/><ellipse cx="269.1" cy="140.0" rx="1.13" ry="0.64" transform="rotate(145 269.1 140.0)" fill="#d4647e" opacity="0.28"/><ellipse cx="242.6" cy="157.2" rx="1.07" ry="0.44" transform="rotate(32 242.6 157.2)" fill="#d66880" opacity="0.36"/><ellipse cx="209.1" cy="150.8" rx="1.37" ry="0.65" transform="rotate(98 209.1 150.8)" fill="#de7c92" opacity="0.27"/><ellipse cx="264.7" cy="102.7" rx="0.92" ry="0.53" transform="rotate(65 264.7 102.7)" fill="#d65c78" opacity="0.34"/><ellipse cx="217.0" cy="106.9" rx="1.07" ry="0.50" transform="rotate(174 217.0 106.9)" fill="#de7c92" opacity="0.36"/><ellipse cx="288.2" cy="123.7" rx="1.13" ry="0.80" transform="rotate(94 288.2 123.7)" fill="#de7c92" opacity="0.25"/><ellipse cx="278.2" cy="103.6" rx="0.86" ry="0.85" transform="rotate(121 278.2 103.6)" fill="#cc6890" opacity="0.22"/><ellipse cx="259.2" cy="161.5" rx="1.16" ry="0.52" transform="rotate(16 259.2 161.5)" fill="#d65c78" opacity="0.33"/><ellipse cx="209.6" cy="160.1" rx="0.69" ry="0.54" transform="rotate(2 209.6 160.1)" fill="#d65c78" opacity="0.28"/><ellipse cx="243.6" cy="137.2" rx="0.62" ry="0.49" transform="rotate(162 243.6 137.2)" fill="#d65c78" opacity="0.31"/><ellipse cx="272.2" cy="128.3" rx="0.71" ry="0.52" transform="rotate(64 272.2 128.3)" fill="#d66880" opacity="0.33"/><ellipse cx="249.8" cy="112.9" rx="0.78" ry="0.63" transform="rotate(32 249.8 112.9)" fill="#cc6890" opacity="0.33"/><ellipse cx="283.9" cy="100.2" rx="1.09" ry="0.74" transform="rotate(33 283.9 100.2)" fill="#de7c92" opacity="0.30"/><ellipse cx="280.6" cy="101.4" rx="1.52" ry="0.65" transform="rotate(35 280.6 101.4)" fill="#d65c78" opacity="0.35"/><ellipse cx="275.4" cy="110.5" rx="0.85" ry="0.78" transform="rotate(179 275.4 110.5)" fill="#d65c78" opacity="0.26"/><ellipse cx="262.6" cy="120.4" rx="1.00" ry="0.57" transform="rotate(164 262.6 120.4)" fill="#d66880" opacity="0.33"/><ellipse cx="221.3" cy="120.0" rx="1.27" ry="0.61" transform="rotate(20 221.3 120.0)" fill="#cc6890" opacity="0.29"/><ellipse cx="261.1" cy="119.1" rx="1.04" ry="0.68" transform="rotate(95 261.1 119.1)" fill="#d4647e" opacity="0.29"/><ellipse cx="241.2" cy="129.1" rx="1.11" ry="0.53" transform="rotate(46 241.2 129.1)" fill="#cc6890" opacity="0.21"/><ellipse cx="267.6" cy="129.8" rx="0.70" ry="0.68" transform="rotate(73 267.6 129.8)" fill="#d65c78" opacity="0.37"/><ellipse cx="233.7" cy="163.9" rx="0.85" ry="0.85" transform="rotate(72 233.7 163.9)" fill="#d66880" opacity="0.38"/><ellipse cx="252.3" cy="100.6" rx="1.45" ry="0.65" transform="rotate(93 252.3 100.6)" fill="#dc6c84" opacity="0.22"/><ellipse cx="270.0" cy="153.8" rx="1.02" ry="0.56" transform="rotate(15 270.0 153.8)" fill="#de7c92" opacity="0.32"/><ellipse cx="288.8" cy="104.1" rx="0.95" ry="0.47" transform="rotate(162 288.8 104.1)" fill="#d4647e" opacity="0.20"/><ellipse cx="236.6" cy="103.9" rx="0.58" ry="0.53" transform="rotate(68 236.6 103.9)" fill="#d4647e" opacity="0.30"/><ellipse cx="269.0" cy="103.7" rx="1.02" ry="0.48" transform="rotate(78 269.0 103.7)" fill="#dc6c84" opacity="0.27"/><ellipse cx="240.4" cy="139.8" rx="0.83" ry="0.42" transform="rotate(38 240.4 139.8)" fill="#cc6890" opacity="0.23"/><ellipse cx="263.5" cy="118.8" rx="0.76" ry="0.44" transform="rotate(70 263.5 118.8)" fill="#d4647e" opacity="0.26"/><ellipse cx="236.6" cy="159.0" rx="1.07" ry="0.67" transform="rotate(66 236.6 159.0)" fill="#de7c92" opacity="0.26"/><ellipse cx="280.0" cy="121.6" rx="1.05" ry="0.67" transform="rotate(179 280.0 121.6)" fill="#dc6c84" opacity="0.28"/><ellipse cx="271.9" cy="131.1" rx="0.83" ry="0.48" transform="rotate(168 271.9 131.1)" fill="#de7c92" opacity="0.26"/><ellipse cx="265.6" cy="152.2" rx="0.78" ry="0.71" transform="rotate(116 265.6 152.2)" fill="#d66880" opacity="0.23"/><ellipse cx="261.7" cy="100.0" rx="0.85" ry="0.61" transform="rotate(179 261.7 100.0)" fill="#dc6c84" opacity="0.30"/><ellipse cx="272.1" cy="142.5" rx="1.06" ry="0.75" transform="rotate(3 272.1 142.5)" fill="#cc6890" opacity="0.21"/><ellipse cx="241.7" cy="142.4" rx="1.27" ry="0.57" transform="rotate(150 241.7 142.4)" fill="#d4647e" opacity="0.21"/><ellipse cx="257.4" cy="128.2" rx="1.47" ry="0.62" transform="rotate(78 257.4 128.2)" fill="#d65c78" opacity="0.29"/><ellipse cx="259.2" cy="116.9" rx="0.84" ry="0.74" transform="rotate(2 259.2 116.9)" fill="#de7c92" opacity="0.28"/><ellipse cx="277.3" cy="128.4" rx="1.07" ry="0.54" transform="rotate(86 277.3 128.4)" fill="#d65c78" opacity="0.37"/><ellipse cx="270.9" cy="129.8" rx="0.92" ry="0.72" transform="rotate(116 270.9 129.8)" fill="#d65c78" opacity="0.31"/><ellipse cx="261.1" cy="163.0" rx="0.74" ry="0.47" transform="rotate(42 261.1 163.0)" fill="#d4647e" opacity="0.34"/><ellipse cx="277.1" cy="142.2" rx="0.70" ry="0.58" transform="rotate(136 277.1 142.2)" fill="#cc6890" opacity="0.29"/><ellipse cx="263.3" cy="100.6" rx="0.75" ry="0.66" transform="rotate(15 263.3 100.6)" fill="#d66880" opacity="0.30"/><ellipse cx="214.2" cy="118.9" rx="1.25" ry="0.65" transform="rotate(150 214.2 118.9)" fill="#d66880" opacity="0.24"/><ellipse cx="262.3" cy="97.7" rx="0.94" ry="0.56" transform="rotate(123 262.3 97.7)" fill="#de7c92" opacity="0.23"/><ellipse cx="252.3" cy="119.1" rx="0.88" ry="0.40" transform="rotate(8 252.3 119.1)" fill="#cc6890" opacity="0.24"/><ellipse cx="232.0" cy="139.3" rx="1.20" ry="0.54" transform="rotate(33 232.0 139.3)" fill="#d65c78" opacity="0.34"/><ellipse cx="267.8" cy="122.4" rx="1.30" ry="0.61" transform="rotate(143 267.8 122.4)" fill="#cc6890" opacity="0.24"/><ellipse cx="217.7" cy="104.2" rx="1.05" ry="0.74" transform="rotate(160 217.7 104.2)" fill="#cc6890" opacity="0.36"/><ellipse cx="220.0" cy="105.3" rx="0.81" ry="0.71" transform="rotate(126 220.0 105.3)" fill="#dc6c84" opacity="0.24"/><ellipse cx="265.7" cy="148.0" rx="0.79" ry="0.44" transform="rotate(15 265.7 148.0)" fill="#dc6c84" opacity="0.21"/><ellipse cx="267.4" cy="133.7" rx="1.45" ry="0.68" transform="rotate(91 267.4 133.7)" fill="#de7c92" opacity="0.32"/><ellipse cx="232.1" cy="101.1" rx="1.21" ry="0.63" transform="rotate(20 232.1 101.1)" fill="#cc6890" opacity="0.34"/><ellipse cx="236.6" cy="161.9" rx="0.94" ry="0.39" transform="rotate(79 236.6 161.9)" fill="#cc6890" opacity="0.36"/><ellipse cx="220.9" cy="130.0" rx="0.86" ry="0.63" transform="rotate(78 220.9 130.0)" fill="#de7c92" opacity="0.37"/><ellipse cx="282.4" cy="110.9" rx="1.06" ry="0.54" transform="rotate(49 282.4 110.9)" fill="#cc6890" opacity="0.24"/><ellipse cx="242.0" cy="128.5" rx="1.05" ry="0.46" transform="rotate(29 242.0 128.5)" fill="#cc6890" opacity="0.37"/><ellipse cx="210.1" cy="126.5" rx="1.14" ry="0.67" transform="rotate(44 210.1 126.5)" fill="#d66880" opacity="0.35"/><ellipse cx="282.8" cy="133.1" rx="0.77" ry="0.53" transform="rotate(167 282.8 133.1)" fill="#de7c92" opacity="0.28"/><ellipse cx="290.5" cy="128.4" rx="1.07" ry="0.80" transform="rotate(28 290.5 128.4)" fill="#d65c78" opacity="0.31"/><ellipse cx="249.9" cy="131.7" rx="1.10" ry="0.69" transform="rotate(176 249.9 131.7)" fill="#dc6c84" opacity="0.26"/><ellipse cx="233.4" cy="133.2" rx="0.98" ry="0.67" transform="rotate(60 233.4 133.2)" fill="#d4647e" opacity="0.23"/><ellipse cx="267.8" cy="122.5" rx="1.05" ry="0.70" transform="rotate(27 267.8 122.5)" fill="#d66880" opacity="0.33"/><ellipse cx="238.2" cy="118.8" rx="0.71" ry="0.44" transform="rotate(127 238.2 118.8)" fill="#de7c92" opacity="0.30"/><ellipse cx="213.5" cy="105.4" rx="1.07" ry="0.68" transform="rotate(77 213.5 105.4)" fill="#d65c78" opacity="0.33"/><ellipse cx="234.3" cy="109.6" rx="1.09" ry="0.53" transform="rotate(83 234.3 109.6)" fill="#d66880" opacity="0.28"/><ellipse cx="267.8" cy="163.4" rx="1.15" ry="0.67" transform="rotate(170 267.8 163.4)" fill="#d66880" opacity="0.27"/><ellipse cx="227.2" cy="127.5" rx="1.25" ry="0.74" transform="rotate(131 227.2 127.5)" fill="#d66880" opacity="0.32"/><ellipse cx="264.1" cy="156.1" rx="1.27" ry="0.64" transform="rotate(51 264.1 156.1)" fill="#dc6c84" opacity="0.25"/><ellipse cx="257.4" cy="148.9" rx="0.62" ry="0.48" transform="rotate(55 257.4 148.9)" fill="#dc6c84" opacity="0.30"/><ellipse cx="254.0" cy="146.7" rx="0.97" ry="0.45" transform="rotate(63 254.0 146.7)" fill="#d65c78" opacity="0.23"/><ellipse cx="215.3" cy="116.8" rx="0.90" ry="0.76" transform="rotate(110 215.3 116.8)" fill="#cc6890" opacity="0.31"/><ellipse cx="261.7" cy="112.8" rx="1.11" ry="0.64" transform="rotate(29 261.7 112.8)" fill="#dc6c84" opacity="0.20"/><ellipse cx="249.6" cy="129.3" rx="0.78" ry="0.53" transform="rotate(125 249.6 129.3)" fill="#dc6c84" opacity="0.31"/><ellipse cx="271.1" cy="142.5" rx="1.04" ry="0.45" transform="rotate(179 271.1 142.5)" fill="#d4647e" opacity="0.28"/><ellipse cx="236.6" cy="109.8" rx="0.74" ry="0.55" transform="rotate(5 236.6 109.8)" fill="#de7c92" opacity="0.28"/><ellipse cx="266.1" cy="125.9" rx="0.78" ry="0.52" transform="rotate(87 266.1 125.9)" fill="#cc6890" opacity="0.28"/><ellipse cx="219.8" cy="103.8" rx="0.85" ry="0.55" transform="rotate(72 219.8 103.8)" fill="#d4647e" opacity="0.38"/><ellipse cx="226.4" cy="101.7" rx="1.36" ry="0.64" transform="rotate(165 226.4 101.7)" fill="#cc6890" opacity="0.35"/><ellipse cx="227.2" cy="100.5" rx="0.80" ry="0.47" transform="rotate(41 227.2 100.5)" fill="#cc6890" opacity="0.34"/><ellipse cx="210.3" cy="133.0" rx="1.11" ry="0.54" transform="rotate(33 210.3 133.0)" fill="#d65c78" opacity="0.23"/><ellipse cx="274.4" cy="148.0" rx="1.00" ry="0.56" transform="rotate(58 274.4 148.0)" fill="#de7c92" opacity="0.21"/><ellipse cx="246.0" cy="99.0" rx="0.58" ry="0.50" transform="rotate(75 246.0 99.0)" fill="#d4647e" opacity="0.28"/><ellipse cx="261.6" cy="99.1" rx="0.94" ry="0.79" transform="rotate(101 261.6 99.1)" fill="#d4647e" opacity="0.24"/><ellipse cx="272.5" cy="99.1" rx="1.17" ry="0.75" transform="rotate(134 272.5 99.1)" fill="#cc6890" opacity="0.30"/><ellipse cx="235.6" cy="108.4" rx="1.31" ry="0.58" transform="rotate(150 235.6 108.4)" fill="#dc6c84" opacity="0.25"/><ellipse cx="284.4" cy="106.4" rx="0.68" ry="0.41" transform="rotate(93 284.4 106.4)" fill="#a878b8" opacity="0.25"/><ellipse cx="268.4" cy="104.0" rx="0.51" ry="0.47" transform="rotate(85 268.4 104.0)" fill="#c07098" opacity="0.25"/><ellipse cx="235.7" cy="149.8" rx="0.55" ry="0.49" transform="rotate(128 235.7 149.8)" fill="#c07098" opacity="0.26"/><ellipse cx="254.4" cy="115.2" rx="0.46" ry="0.42" transform="rotate(110 254.4 115.2)" fill="#c07098" opacity="0.28"/><ellipse cx="262.4" cy="161.2" rx="0.96" ry="0.53" transform="rotate(98 262.4 161.2)" fill="#b070a8" opacity="0.26"/><ellipse cx="211.6" cy="105.0" rx="0.68" ry="0.41" transform="rotate(164 211.6 105.0)" fill="#b070a8" opacity="0.34"/><ellipse cx="232.2" cy="118.6" rx="1.02" ry="0.46" transform="rotate(167 232.2 118.6)" fill="#a878b8" opacity="0.22"/><ellipse cx="257.1" cy="152.4" rx="0.78" ry="0.43" transform="rotate(20 257.1 152.4)" fill="#a878b8" opacity="0.36"/><ellipse cx="284.9" cy="125.1" rx="0.54" ry="0.53" transform="rotate(77 284.9 125.1)" fill="#a878b8" opacity="0.27"/><ellipse cx="252.9" cy="148.8" rx="0.64" ry="0.35" transform="rotate(123 252.9 148.8)" fill="#b070a8" opacity="0.29"/><ellipse cx="223.2" cy="118.9" rx="0.54" ry="0.42" transform="rotate(172 223.2 118.9)" fill="#c07098" opacity="0.35"/><ellipse cx="212.7" cy="107.0" rx="0.62" ry="0.50" transform="rotate(142 212.7 107.0)" fill="#c07098" opacity="0.28"/><ellipse cx="267.6" cy="120.1" rx="0.78" ry="0.52" transform="rotate(159 267.6 120.1)" fill="#c07098" opacity="0.28"/><ellipse cx="231.7" cy="143.4" rx="0.74" ry="0.45" transform="rotate(85 231.7 143.4)" fill="#a878b8" opacity="0.38"/><ellipse cx="210.5" cy="126.6" rx="0.69" ry="0.61" transform="rotate(107 210.5 126.6)" fill="#b070a8" opacity="0.27"/><ellipse cx="236.0" cy="133.9" rx="0.71" ry="0.49" transform="rotate(50 236.0 133.9)" fill="#b070a8" opacity="0.22"/><ellipse cx="249.9" cy="144.7" rx="0.69" ry="0.49" transform="rotate(172 249.9 144.7)" fill="#a878b8" opacity="0.37"/><ellipse cx="215.5" cy="157.7" rx="0.51" ry="0.32" transform="rotate(95 215.5 157.7)" fill="#c07098" opacity="0.34"/><ellipse cx="239.1" cy="113.7" rx="0.87" ry="0.42" transform="rotate(165 239.1 113.7)" fill="#b070a8" opacity="0.25"/><ellipse cx="225.7" cy="123.2" rx="1.06" ry="0.44" transform="rotate(61 225.7 123.2)" fill="#c07098" opacity="0.27"/><ellipse cx="230.4" cy="121.9" rx="0.92" ry="0.41" transform="rotate(145 230.4 121.9)" fill="#a878b8" opacity="0.25"/><ellipse cx="255.3" cy="117.2" rx="0.49" ry="0.31" transform="rotate(52 255.3 117.2)" fill="#b070a8" opacity="0.32"/><ellipse cx="209.7" cy="136.0" rx="1.08" ry="0.47" transform="rotate(148 209.7 136.0)" fill="#c07098" opacity="0.27"/><ellipse cx="264.3" cy="116.2" rx="0.61" ry="0.31" transform="rotate(172 264.3 116.2)" fill="#b070a8" opacity="0.22"/><ellipse cx="241.3" cy="159.4" rx="1.04" ry="0.49" transform="rotate(110 241.3 159.4)" fill="#a878b8" opacity="0.31"/><ellipse cx="281.6" cy="109.2" rx="0.73" ry="0.40" transform="rotate(97 281.6 109.2)" fill="#b070a8" opacity="0.29"/><ellipse cx="225.9" cy="153.2" rx="1.16" ry="0.49" transform="rotate(66 225.9 153.2)" fill="#b070a8" opacity="0.39"/><ellipse cx="253.1" cy="124.7" rx="0.75" ry="0.53" transform="rotate(166 253.1 124.7)" fill="#b070a8" opacity="0.34"/><ellipse cx="223.8" cy="154.9" rx="0.72" ry="0.37" transform="rotate(139 223.8 154.9)" fill="#a878b8" opacity="0.36"/><ellipse cx="225.6" cy="159.5" rx="0.78" ry="0.33" transform="rotate(175 225.6 159.5)" fill="#c07098" opacity="0.32"/><ellipse cx="254.9" cy="119.7" rx="0.74" ry="0.48" transform="rotate(34 254.9 119.7)" fill="#c07098" opacity="0.27"/><ellipse cx="213.8" cy="125.3" rx="0.68" ry="0.39" transform="rotate(31 213.8 125.3)" fill="#c07098" opacity="0.22"/><ellipse cx="231.4" cy="116.9" rx="0.66" ry="0.40" transform="rotate(176 231.4 116.9)" fill="#a878b8" opacity="0.35"/><ellipse cx="254.8" cy="97.8" rx="0.71" ry="0.42" transform="rotate(63 254.8 97.8)" fill="#c07098" opacity="0.30"/><ellipse cx="223.4" cy="111.3" rx="0.56" ry="0.32" transform="rotate(16 223.4 111.3)" fill="#a878b8" opacity="0.21"/><ellipse cx="284.6" cy="113.2" rx="0.69" ry="0.44" transform="rotate(143 284.6 113.2)" fill="#a878b8" opacity="0.32"/><ellipse cx="264.4" cy="105.1" rx="0.69" ry="0.46" transform="rotate(162 264.4 105.1)" fill="#a878b8" opacity="0.23"/><ellipse cx="238.3" cy="141.5" rx="0.65" ry="0.43" transform="rotate(153 238.3 141.5)" fill="#a878b8" opacity="0.33"/><ellipse cx="233.3" cy="118.3" rx="0.71" ry="0.51" transform="rotate(15 233.3 118.3)" fill="#b070a8" opacity="0.39"/><ellipse cx="225.9" cy="97.3" rx="0.50" ry="0.42" transform="rotate(45 225.9 97.3)" fill="#c07098" opacity="0.23"/>
<rect x="207" y="96" width="85" height="69" filter="url(#nz)" opacity="0.07"/>
</g>
<rect x="266.2" y="153.9" width="23.60" height="2.10" rx="0.6" fill="#000" filter="url(#bl3)"/><text x="279.2" y="162.0" font-size="6.0" text-anchor="middle" fill="#5a6478" filter="url(#bl3)">50µm</text>
<text x="241.4" y="107.4" font-size="7" font-weight="bold" text-anchor="middle" fill="#15151c" textLength="8.4" lengthAdjust="spacingAndGlyphs" filter="url(#bl3)">(g)</text>
<g filter="url(#bl3)"><path d="M239.6 110.0L234.7 114.5" stroke="#15151c" stroke-width="1.5"/><path d="M231.6 117.4L233.1 112.8L236.3 116.3Z" fill="#15151c"/></g>
<text x="262.4" y="113.8" font-size="7" font-weight="bold" text-anchor="middle" fill="#15151c" textLength="8.4" lengthAdjust="spacingAndGlyphs" filter="url(#bl3)">(g)</text>
<g filter="url(#bl3)"><path d="M260.4 116.2L256.1 120.8" stroke="#15151c" stroke-width="1.5"/><path d="M253.2 123.8L254.3 119.1L257.8 122.4Z" fill="#15151c"/></g>
<text x="18.00" y="26.20" font-size="19" font-weight="bold" stroke="#000" stroke-width="0.22" text-anchor="start" fill="#000" >A</text>
<text x="11.40" y="65.00" font-size="10.6" text-anchor="start" fill="#000" >PBS</text>
<text x="7.40" y="127.60" font-size="10.6" text-anchor="start" fill="#000" >EAE</text>
<text x="8.20" y="140.00" font-size="10.6" text-anchor="start" fill="#000" >D16</text>
<path d="M370.00 124.40V122.20M362.50 122.20H377.50" stroke="#000" stroke-width="1.45" fill="none"/>
<rect x="355.73" y="124.83" width="28.55" height="22.85" fill="#a0a0a4" stroke="#000" stroke-width="1.45"/>
<path d="M370.00 148.40v3.6" stroke="#000" stroke-width="1.45"/>
<text x="370.00" y="160.20" font-size="9.0" font-weight="bold" stroke="#000" stroke-width="0.22" text-anchor="middle" fill="#000" >PBS</text>
<text x="370.00" y="169.60" font-size="9.0" font-weight="bold" stroke="#000" stroke-width="0.22" text-anchor="middle" fill="#000" >Day 16</text>
<path d="M415.80 86.00V84.40M408.30 84.40H423.30" stroke="#000" stroke-width="1.45" fill="none"/>
<rect x="401.73" y="126.83" width="28.15" height="20.85" fill="#a0a0a4" stroke="#000" stroke-width="1.45"/>
<rect x="401.73" y="109.42" width="28.15" height="17.40" fill="#fff" stroke="#000" stroke-width="1.45"/>
<rect x="401.73" y="86.42" width="28.15" height="23.00" fill="#fe0000" stroke="#000" stroke-width="1.45"/>
<path d="M415.80 127.12V124.00M408.30 124.00H423.30" stroke="#000" stroke-width="1.45" fill="none"/>
<path d="M415.80 109.72V107.00M408.30 107.00H423.30" stroke="#000" stroke-width="1.45" fill="none"/>
<path d="M415.80 148.40v3.6" stroke="#000" stroke-width="1.45"/>
<text x="415.80" y="160.20" font-size="9.0" font-weight="bold" stroke="#000" stroke-width="0.22" text-anchor="middle" fill="#000" >EAE</text>
<text x="415.80" y="169.60" font-size="9.0" font-weight="bold" stroke="#000" stroke-width="0.22" text-anchor="middle" fill="#000" >Day 12</text>
<path d="M461.50 76.00V74.20M454.00 74.20H469.00" stroke="#000" stroke-width="1.45" fill="none"/>
<rect x="447.12" y="122.42" width="28.75" height="25.25" fill="#a0a0a4" stroke="#000" stroke-width="1.45"/>
<rect x="447.12" y="103.42" width="28.75" height="19.00" fill="#fff" stroke="#000" stroke-width="1.45"/>
<rect x="447.12" y="76.42" width="28.75" height="27.00" fill="#fe0000" stroke="#000" stroke-width="1.45"/>
<path d="M461.50 122.72V119.60M454.00 119.60H469.00" stroke="#000" stroke-width="1.45" fill="none"/>
<path d="M461.50 103.72V101.00M454.00 101.00H469.00" stroke="#000" stroke-width="1.45" fill="none"/>
<path d="M461.50 148.40v3.6" stroke="#000" stroke-width="1.45"/>
<text x="461.50" y="160.20" font-size="9.0" font-weight="bold" stroke="#000" stroke-width="0.22" text-anchor="middle" fill="#000" >EAE</text>
<text x="461.50" y="169.60" font-size="9.0" font-weight="bold" stroke="#000" stroke-width="0.22" text-anchor="middle" fill="#000" >Day 16</text>
<path d="M507.40 130.60V128.60M499.90 128.60H514.90" stroke="#000" stroke-width="1.45" fill="none"/>
<rect x="493.12" y="131.02" width="28.55" height="16.65" fill="#a0a0a4" stroke="#000" stroke-width="1.45"/>
<path d="M507.40 148.40v3.6" stroke="#000" stroke-width="1.45"/>
<text x="507.40" y="160.20" font-size="9.0" font-weight="bold" stroke="#000" stroke-width="0.22" text-anchor="middle" fill="#000" >EAE</text>
<text x="507.40" y="169.60" font-size="9.0" font-weight="bold" stroke="#000" stroke-width="0.22" text-anchor="middle" fill="#000" >Day 26</text>
<path d="M347.40 43.68V148.40H531.00" stroke="#000" stroke-width="1.45" fill="none"/>
<path d="M343.40 148.40H347.40" stroke="#000" stroke-width="1.45"/>
<text x="341.70" y="151.26" font-size="8.4" font-weight="bold" stroke="#000" stroke-width="0.22" text-anchor="end" fill="#000" >0</text>
<path d="M343.40 122.40H347.40" stroke="#000" stroke-width="1.45"/>
<text x="341.70" y="125.26" font-size="8.4" font-weight="bold" stroke="#000" stroke-width="0.22" text-anchor="end" fill="#000" >25</text>
<path d="M343.40 96.40H347.40" stroke="#000" stroke-width="1.45"/>
<text x="341.70" y="99.26" font-size="8.4" font-weight="bold" stroke="#000" stroke-width="0.22" text-anchor="end" fill="#000" >50</text>
<path d="M343.40 70.40H347.40" stroke="#000" stroke-width="1.45"/>
<text x="341.70" y="73.26" font-size="8.4" font-weight="bold" stroke="#000" stroke-width="0.22" text-anchor="end" fill="#000" >75</text>
<path d="M343.40 44.40H347.40" stroke="#000" stroke-width="1.45"/>
<text x="341.70" y="47.26" font-size="8.4" font-weight="bold" stroke="#000" stroke-width="0.22" text-anchor="end" fill="#000" >100</text>
<text transform="translate(321.0,140.4) rotate(-90)" font-size="8.4" font-weight="bold" stroke="#000" stroke-width="0.22">% IL-16 Positive Cells</text>
<rect x="353.30" y="18.30" width="11.60" height="4.60" fill="#fe0000" stroke="#000" stroke-width="1.4"/>
<text x="373.60" y="23.60" font-size="9.7" text-anchor="start" fill="#000" >Lesion</text>
<rect x="353.30" y="35.70" width="11.60" height="4.60" fill="#fff" stroke="#000" stroke-width="1.4"/>
<text x="376.00" y="35.60" font-size="9.7" text-anchor="start" fill="#000" >White</text>
<text x="373.60" y="45.60" font-size="9.7" text-anchor="start" fill="#000" >matter</text>
<rect x="353.30" y="57.30" width="11.60" height="4.60" fill="#a0a0a4" stroke="#000" stroke-width="1.4"/>
<text x="373.60" y="57.60" font-size="9.7" text-anchor="start" fill="#000" >Grey</text>
<text x="373.60" y="67.60" font-size="9.7" text-anchor="start" fill="#000" >matter</text>
<path d="M416 37.6H506.6" stroke="#000" stroke-width="1.45"/>
<text x="464.45" y="38.37" font-size="13" font-weight="bold" stroke="#000" stroke-width="0.22" text-anchor="middle" fill="#000" letter-spacing="0.9">***</text>
<path d="M461 54.6H507.4" stroke="#000" stroke-width="1.45"/>
<text x="484.65" y="55.77" font-size="13" font-weight="bold" stroke="#000" stroke-width="0.22" text-anchor="middle" fill="#000" letter-spacing="0.9">***</text>
<text x="415.95" y="84.37" font-size="13" font-weight="bold" stroke="#000" stroke-width="0.22" text-anchor="middle" fill="#000" letter-spacing="0.9">***</text>
<text x="461.45" y="74.37" font-size="13" font-weight="bold" stroke="#000" stroke-width="0.22" text-anchor="middle" fill="#000" letter-spacing="0.9">***</text>
<text x="311.90" y="26.20" font-size="18.8" font-weight="bold" stroke="#000" stroke-width="0.22" text-anchor="start" fill="#000" >B</text>
<path d="M93.70 249.60V247.60M85.70 247.60H101.70" stroke="#000" stroke-width="1.45" fill="none"/>
<rect x="78.72" y="250.02" width="29.95" height="73.65" fill="#000" stroke="#000" stroke-width="1.45"/>
<path d="M93.70 324.40v3.6" stroke="#000" stroke-width="1.45"/>
<text x="93.70" y="338.00" font-size="9.5" font-weight="bold" stroke="#000" stroke-width="0.22" text-anchor="middle" fill="#000" >PBS</text>
<path d="M141.00 242.00V240.20M133.00 240.20H149.00" stroke="#000" stroke-width="1.45" fill="none"/>
<rect x="125.72" y="250.42" width="30.55" height="73.25" fill="#000" stroke="#000" stroke-width="1.45"/>
<rect x="125.72" y="242.42" width="30.55" height="8.00" fill="#fe0000" stroke="#000" stroke-width="1.45"/>
<path d="M141.00 250.72V247.60M133.00 247.60H149.00" stroke="#000" stroke-width="1.45" fill="none"/>
<path d="M141.00 324.40v3.6" stroke="#000" stroke-width="1.45"/>
<text x="141.00" y="338.00" font-size="9.5" font-weight="bold" stroke="#000" stroke-width="0.22" text-anchor="middle" fill="#000" >EAE</text>
<text x="141.00" y="348.90" font-size="9.5" font-weight="bold" stroke="#000" stroke-width="0.22" text-anchor="middle" fill="#000" >Day 12</text>
<path d="M189.00 240.00V238.00M181.00 238.00H197.00" stroke="#000" stroke-width="1.45" fill="none"/>
<rect x="173.72" y="248.82" width="30.55" height="74.85" fill="#000" stroke="#000" stroke-width="1.45"/>
<rect x="173.72" y="240.42" width="30.55" height="8.40" fill="#fe0000" stroke="#000" stroke-width="1.45"/>
<path d="M189.00 249.12V245.60M181.00 245.60H197.00" stroke="#000" stroke-width="1.45" fill="none"/>
<path d="M189.00 324.40v3.6" stroke="#000" stroke-width="1.45"/>
<text x="189.00" y="338.00" font-size="9.5" font-weight="bold" stroke="#000" stroke-width="0.22" text-anchor="middle" fill="#000" >EAE</text>
<text x="189.00" y="348.90" font-size="9.5" font-weight="bold" stroke="#000" stroke-width="0.22" text-anchor="middle" fill="#000" >Day 16</text>
<path d="M236.30 250.00V247.60M228.30 247.60H244.30" stroke="#000" stroke-width="1.45" fill="none"/>
<rect x="221.12" y="250.42" width="30.35" height="73.25" fill="#000" stroke="#000" stroke-width="1.45"/>
<path d="M236.30 324.40v3.6" stroke="#000" stroke-width="1.45"/>
<text x="236.30" y="338.00" font-size="9.5" font-weight="bold" stroke="#000" stroke-width="0.22" text-anchor="middle" fill="#000" >EAE</text>
<text x="236.30" y="348.90" font-size="9.5" font-weight="bold" stroke="#000" stroke-width="0.22" text-anchor="middle" fill="#000" >Day 26</text>
<path d="M69.40 200.87V324.40H261.00" stroke="#000" stroke-width="1.45" fill="none"/>
<path d="M65.40 324.40H69.40" stroke="#000" stroke-width="1.45"/>
<text x="63.70" y="327.39" font-size="8.8" font-weight="bold" stroke="#000" stroke-width="0.22" text-anchor="end" fill="#000" >0</text>
<path d="M65.40 293.70H69.40" stroke="#000" stroke-width="1.45"/>
<text x="63.70" y="296.69" font-size="8.8" font-weight="bold" stroke="#000" stroke-width="0.22" text-anchor="end" fill="#000" >25</text>
<path d="M65.40 263.00H69.40" stroke="#000" stroke-width="1.45"/>
<text x="63.70" y="265.99" font-size="8.8" font-weight="bold" stroke="#000" stroke-width="0.22" text-anchor="end" fill="#000" >50</text>
<path d="M65.40 232.30H69.40" stroke="#000" stroke-width="1.45"/>
<text x="63.70" y="235.29" font-size="8.8" font-weight="bold" stroke="#000" stroke-width="0.22" text-anchor="end" fill="#000" >75</text>
<path d="M65.40 201.60H69.40" stroke="#000" stroke-width="1.45"/>
<text x="63.70" y="204.59" font-size="8.8" font-weight="bold" stroke="#000" stroke-width="0.22" text-anchor="end" fill="#000" >100</text>
<text transform="translate(42.8,314) rotate(-90)" font-size="10" font-weight="bold" stroke="#000" stroke-width="0.22">% IL-16 Positive Cells</text>
<rect x="79.70" y="199.70" width="12.60" height="5.40" fill="#fe0000" stroke="#000" stroke-width="1.4"/>
<text x="100.40" y="206.00" font-size="10.5" text-anchor="start" fill="#000" >Lesion</text>
<rect x="79.70" y="211.70" width="12.60" height="5.60" fill="#000" stroke="#000" stroke-width="1.4"/>
<text x="100.40" y="218.00" font-size="10.5" text-anchor="start" fill="#000" >Hippocampus</text>
<text x="188.75" y="237.37" font-size="13" font-weight="bold" stroke="#000" stroke-width="0.22" text-anchor="middle" fill="#000" letter-spacing="1.3">*</text>
<text x="22.20" y="203.00" font-size="19.6" font-weight="bold" stroke="#000" stroke-width="0.22" text-anchor="start" fill="#000" >C</text>
<path d="M370.00 259.00V256.60M362.00 256.60H378.00" stroke="#000" stroke-width="1.45" fill="none"/>
<rect x="354.73" y="259.43" width="30.55" height="66.25" fill="#000" stroke="#000" stroke-width="1.45"/>
<path d="M370.00 326.40v3.6" stroke="#000" stroke-width="1.45"/>
<text x="370.00" y="339.40" font-size="9.5" font-weight="bold" stroke="#000" stroke-width="0.22" text-anchor="middle" fill="#000" >PBS</text>
<path d="M419.00 245.00V241.40M411.00 241.40H427.00" stroke="#000" stroke-width="1.45" fill="none"/>
<rect x="403.73" y="262.03" width="30.55" height="63.65" fill="#000" stroke="#000" stroke-width="1.45"/>
<rect x="403.73" y="245.42" width="30.55" height="16.60" fill="#fe0000" stroke="#000" stroke-width="1.45"/>
<path d="M419.00 262.33V258.60M411.00 258.60H427.00" stroke="#000" stroke-width="1.45" fill="none"/>
<path d="M419.00 326.40v3.6" stroke="#000" stroke-width="1.45"/>
<text x="419.00" y="339.40" font-size="9.5" font-weight="bold" stroke="#000" stroke-width="0.22" text-anchor="middle" fill="#000" >EAE</text>
<text x="419.00" y="350.30" font-size="9.5" font-weight="bold" stroke="#000" stroke-width="0.22" text-anchor="middle" fill="#000" >Day 12</text>
<path d="M467.60 239.40V235.00M459.60 235.00H475.60" stroke="#000" stroke-width="1.45" fill="none"/>
<rect x="452.33" y="260.03" width="30.55" height="65.65" fill="#000" stroke="#000" stroke-width="1.45"/>
<rect x="452.33" y="239.82" width="30.55" height="20.20" fill="#fe0000" stroke="#000" stroke-width="1.45"/>
<path d="M467.60 260.33V258.00M459.60 258.00H475.60" stroke="#000" stroke-width="1.45" fill="none"/>
<path d="M467.60 326.40v3.6" stroke="#000" stroke-width="1.45"/>
<text x="467.60" y="339.40" font-size="9.5" font-weight="bold" stroke="#000" stroke-width="0.22" text-anchor="middle" fill="#000" >EAE</text>
<text x="467.60" y="350.30" font-size="9.5" font-weight="bold" stroke="#000" stroke-width="0.22" text-anchor="middle" fill="#000" >Day 16</text>
<path d="M516.20 260.00V257.00M508.20 257.00H524.20" stroke="#000" stroke-width="1.45" fill="none"/>
<rect x="500.73" y="260.43" width="30.95" height="65.25" fill="#000" stroke="#000" stroke-width="1.45"/>
<path d="M516.20 326.40v3.6" stroke="#000" stroke-width="1.45"/>
<text x="516.20" y="339.40" font-size="9.5" font-weight="bold" stroke="#000" stroke-width="0.22" text-anchor="middle" fill="#000" >EAE</text>
<text x="516.20" y="350.30" font-size="9.5" font-weight="bold" stroke="#000" stroke-width="0.22" text-anchor="middle" fill="#000" >Day 26</text>
<path d="M346.40 207.07V326.40H539.00" stroke="#000" stroke-width="1.45" fill="none"/>
<path d="M342.40 326.40H346.40" stroke="#000" stroke-width="1.45"/>
<text x="340.10" y="329.39" font-size="8.8" font-weight="bold" stroke="#000" stroke-width="0.22" text-anchor="end" fill="#000" >0</text>
<path d="M342.40 296.75H346.40" stroke="#000" stroke-width="1.45"/>
<text x="340.10" y="299.74" font-size="8.8" font-weight="bold" stroke="#000" stroke-width="0.22" text-anchor="end" fill="#000" >10</text>
<path d="M342.40 267.10H346.40" stroke="#000" stroke-width="1.45"/>
<text x="340.10" y="270.09" font-size="8.8" font-weight="bold" stroke="#000" stroke-width="0.22" text-anchor="end" fill="#000" >20</text>
<path d="M342.40 237.45H346.40" stroke="#000" stroke-width="1.45"/>
<text x="340.10" y="240.44" font-size="8.8" font-weight="bold" stroke="#000" stroke-width="0.22" text-anchor="end" fill="#000" >30</text>
<path d="M342.40 207.80H346.40" stroke="#000" stroke-width="1.45"/>
<text x="340.10" y="210.79" font-size="8.8" font-weight="bold" stroke="#000" stroke-width="0.22" text-anchor="end" fill="#000" >40</text>
<text transform="translate(323.7,317) rotate(-90)" font-size="9.72" font-weight="bold" stroke="#000" stroke-width="0.22">% IL-16 Positive Cells</text>
<rect x="350.70" y="201.70" width="12.60" height="5.20" fill="#fe0000" stroke="#000" stroke-width="1.4"/>
<text x="372.40" y="207.60" font-size="10.6" text-anchor="start" fill="#000" >Lesion</text>
<rect x="350.70" y="213.70" width="12.60" height="5.20" fill="#000" stroke="#000" stroke-width="1.4"/>
<text x="372.40" y="219.60" font-size="10.8" text-anchor="start" fill="#000" >Dentate Gyrus</text>
<path d="M467.6 216.5H517.4" stroke="#000" stroke-width="1.45"/>
<text x="492.85" y="216.77" font-size="13" font-weight="bold" stroke="#000" stroke-width="0.22" text-anchor="middle" fill="#000" letter-spacing="1.3">**</text>
<text x="419.75" y="241.77" font-size="13" font-weight="bold" stroke="#000" stroke-width="0.22" text-anchor="middle" fill="#000" letter-spacing="1.3">*</text>
<text x="467.65" y="235.17" font-size="13" font-weight="bold" stroke="#000" stroke-width="0.22" text-anchor="middle" fill="#000" letter-spacing="1.3">**</text>
<text x="315.00" y="203.60" font-size="18.5" font-weight="bold" stroke="#000" stroke-width="0.22" text-anchor="start" fill="#000" >D</text>
<path d="M93.80 468.00V464.40M85.80 464.40H101.80" stroke="#000" stroke-width="1.45" fill="none"/>
<rect x="78.72" y="468.43" width="30.15" height="27.25" fill="#000" stroke="#000" stroke-width="1.45"/>
<path d="M93.80 496.40v3.6" stroke="#000" stroke-width="1.45"/>
<text x="93.80" y="509.40" font-size="9.5" font-weight="bold" stroke="#000" stroke-width="0.22" text-anchor="middle" fill="#000" >PBS</text>
<path d="M142.30 440.00V436.40M134.30 436.40H150.30" stroke="#000" stroke-width="1.45" fill="none"/>
<rect x="126.72" y="461.43" width="31.15" height="34.25" fill="#000" stroke="#000" stroke-width="1.45"/>
<rect x="126.72" y="440.43" width="31.15" height="21.00" fill="#fe0000" stroke="#000" stroke-width="1.45"/>
<path d="M142.30 461.73V458.60M134.30 458.60H150.30" stroke="#000" stroke-width="1.45" fill="none"/>
<path d="M142.30 496.40v3.6" stroke="#000" stroke-width="1.45"/>
<text x="142.30" y="509.40" font-size="9.5" font-weight="bold" stroke="#000" stroke-width="0.22" text-anchor="middle" fill="#000" >EAE</text>
<text x="142.30" y="520.20" font-size="9.5" font-weight="bold" stroke="#000" stroke-width="0.22" text-anchor="middle" fill="#000" >Day 12</text>
<path d="M191.00 418.60V414.00M183.00 414.00H199.00" stroke="#000" stroke-width="1.45" fill="none"/>
<rect x="175.72" y="454.43" width="30.55" height="41.25" fill="#000" stroke="#000" stroke-width="1.45"/>
<rect x="175.72" y="419.03" width="30.55" height="35.40" fill="#fe0000" stroke="#000" stroke-width="1.45"/>
<path d="M191.00 454.73V451.60M183.00 451.60H199.00" stroke="#000" stroke-width="1.45" fill="none"/>
<path d="M191.00 496.40v3.6" stroke="#000" stroke-width="1.45"/>
<text x="191.00" y="509.40" font-size="9.5" font-weight="bold" stroke="#000" stroke-width="0.22" text-anchor="middle" fill="#000" >EAE</text>
<text x="191.00" y="520.20" font-size="9.5" font-weight="bold" stroke="#000" stroke-width="0.22" text-anchor="middle" fill="#000" >Day 16</text>
<path d="M239.30 465.00V462.00M231.30 462.00H247.30" stroke="#000" stroke-width="1.45" fill="none"/>
<rect x="223.72" y="470.43" width="31.15" height="25.25" fill="#000" stroke="#000" stroke-width="1.45"/>
<rect x="223.72" y="465.43" width="31.15" height="5.00" fill="#fe0000" stroke="#000" stroke-width="1.45"/>
<path d="M239.30 470.73V470.00M231.30 470.00H247.30" stroke="#000" stroke-width="1.45" fill="none"/>
<path d="M239.30 496.40v3.6" stroke="#000" stroke-width="1.45"/>
<text x="239.30" y="509.40" font-size="9.5" font-weight="bold" stroke="#000" stroke-width="0.22" text-anchor="middle" fill="#000" >EAE</text>
<text x="239.30" y="520.20" font-size="9.5" font-weight="bold" stroke="#000" stroke-width="0.22" text-anchor="middle" fill="#000" >Day 26</text>
<path d="M69.40 378.17V496.40H264.00" stroke="#000" stroke-width="1.45" fill="none"/>
<path d="M65.40 496.40H69.40" stroke="#000" stroke-width="1.45"/>
<text x="63.70" y="499.39" font-size="8.8" font-weight="bold" stroke="#000" stroke-width="0.22" text-anchor="end" fill="#000" >0</text>
<path d="M65.40 472.90H69.40" stroke="#000" stroke-width="1.45"/>
<text x="63.70" y="475.89" font-size="8.8" font-weight="bold" stroke="#000" stroke-width="0.22" text-anchor="end" fill="#000" >5</text>
<path d="M65.40 449.40H69.40" stroke="#000" stroke-width="1.45"/>
<text x="63.70" y="452.39" font-size="8.8" font-weight="bold" stroke="#000" stroke-width="0.22" text-anchor="end" fill="#000" >10</text>
<path d="M65.40 425.90H69.40" stroke="#000" stroke-width="1.45"/>
<text x="63.70" y="428.89" font-size="8.8" font-weight="bold" stroke="#000" stroke-width="0.22" text-anchor="end" fill="#000" >15</text>
<path d="M65.40 402.40H69.40" stroke="#000" stroke-width="1.45"/>
<text x="63.70" y="405.39" font-size="8.8" font-weight="bold" stroke="#000" stroke-width="0.22" text-anchor="end" fill="#000" >20</text>
<path d="M65.40 378.90H69.40" stroke="#000" stroke-width="1.45"/>
<text x="63.70" y="381.89" font-size="8.8" font-weight="bold" stroke="#000" stroke-width="0.22" text-anchor="end" fill="#000" >25</text>
<text transform="translate(47.2,486.6) rotate(-90)" font-size="9.6" font-weight="bold" stroke="#000" stroke-width="0.22">% IL-16 Positive Cells</text>
<rect x="77.70" y="380.70" width="12.60" height="5.20" fill="#fe0000" stroke="#000" stroke-width="1.4"/>
<text x="99.60" y="386.60" font-size="10.5" text-anchor="start" fill="#000" >Lesion</text>
<rect x="77.70" y="392.70" width="12.60" height="5.20" fill="#000" stroke="#000" stroke-width="1.4"/>
<text x="99.60" y="398.60" font-size="10.5" text-anchor="start" fill="#000" >White Matter</text>
<path d="M141.6 380.4H240" stroke="#000" stroke-width="1.45"/>
<text x="191.45" y="380.37" font-size="13" font-weight="bold" stroke="#000" stroke-width="0.22" text-anchor="middle" fill="#000" letter-spacing="1.3">***</text>
<path d="M191 396.4H239" stroke="#000" stroke-width="1.45"/>
<text x="216.35" y="395.77" font-size="13" font-weight="bold" stroke="#000" stroke-width="0.22" text-anchor="middle" fill="#000" letter-spacing="1.3">**</text>
<text x="143.55" y="437.37" font-size="13" font-weight="bold" stroke="#000" stroke-width="0.22" text-anchor="middle" fill="#000" letter-spacing="1.3">**</text>
<text x="191.45" y="414.17" font-size="13" font-weight="bold" stroke="#000" stroke-width="0.22" text-anchor="middle" fill="#000" letter-spacing="1.3">***</text>
<text x="22.80" y="375.30" font-size="18.5" font-weight="bold" stroke="#000" stroke-width="0.22" text-anchor="start" fill="#000" >E</text>
<path d="M371.00 459.60V455.00M363.20 455.00H378.80" stroke="#000" stroke-width="1.45" fill="none"/>
<rect x="356.33" y="460.03" width="29.35" height="34.25" fill="#000" stroke="#000" stroke-width="1.45"/>
<path d="M371.00 495.00v3.6" stroke="#000" stroke-width="1.45"/>
<text x="371.00" y="508.60" font-size="9.5" font-weight="bold" stroke="#000" stroke-width="0.22" text-anchor="middle" fill="#000" >PBS</text>
<path d="M417.50 426.00V422.60M409.70 422.60H425.30" stroke="#000" stroke-width="1.45" fill="none"/>
<rect x="402.73" y="459.43" width="29.55" height="34.85" fill="#000" stroke="#000" stroke-width="1.45"/>
<rect x="402.73" y="426.43" width="29.55" height="33.00" fill="#fe0000" stroke="#000" stroke-width="1.45"/>
<path d="M417.50 459.73V452.40M409.70 452.40H425.30" stroke="#000" stroke-width="1.45" fill="none"/>
<path d="M417.50 495.00v3.6" stroke="#000" stroke-width="1.45"/>
<text x="417.50" y="508.60" font-size="9.5" font-weight="bold" stroke="#000" stroke-width="0.22" text-anchor="middle" fill="#000" >EAE</text>
<text x="417.50" y="519.40" font-size="9.5" font-weight="bold" stroke="#000" stroke-width="0.22" text-anchor="middle" fill="#000" >Day 12</text>
<path d="M464.00 420.00V414.60M456.20 414.60H471.80" stroke="#000" stroke-width="1.45" fill="none"/>
<rect x="449.33" y="455.03" width="29.35" height="39.25" fill="#000" stroke="#000" stroke-width="1.45"/>
<rect x="449.33" y="420.43" width="29.35" height="34.60" fill="#fe0000" stroke="#000" stroke-width="1.45"/>
<path d="M464.00 455.33V450.60M456.20 450.60H471.80" stroke="#000" stroke-width="1.45" fill="none"/>
<path d="M464.00 495.00v3.6" stroke="#000" stroke-width="1.45"/>
<text x="464.00" y="508.60" font-size="9.5" font-weight="bold" stroke="#000" stroke-width="0.22" text-anchor="middle" fill="#000" >EAE</text>
<text x="464.00" y="519.40" font-size="9.5" font-weight="bold" stroke="#000" stroke-width="0.22" text-anchor="middle" fill="#000" >Day 16</text>
<path d="M510.90 438.60V433.60M503.10 433.60H518.70" stroke="#000" stroke-width="1.45" fill="none"/>
<rect x="496.12" y="460.82" width="29.55" height="33.45" fill="#000" stroke="#000" stroke-width="1.45"/>
<rect x="496.12" y="439.03" width="29.55" height="21.80" fill="#fe0000" stroke="#000" stroke-width="1.45"/>
<path d="M510.90 461.12V455.40M503.10 455.40H518.70" stroke="#000" stroke-width="1.45" fill="none"/>
<path d="M510.90 495.00v3.6" stroke="#000" stroke-width="1.45"/>
<text x="510.90" y="508.60" font-size="9.5" font-weight="bold" stroke="#000" stroke-width="0.22" text-anchor="middle" fill="#000" >EAE</text>
<text x="510.90" y="519.40" font-size="9.5" font-weight="bold" stroke="#000" stroke-width="0.22" text-anchor="middle" fill="#000" >Day 26</text>
<path d="M347.40 374.27V495.00H534.00" stroke="#000" stroke-width="1.45" fill="none"/>
<path d="M343.40 495.00H347.40" stroke="#000" stroke-width="1.45"/>
<text x="342.10" y="497.99" font-size="8.8" font-weight="bold" stroke="#000" stroke-width="0.22" text-anchor="end" fill="#000" >0</text>
<path d="M343.40 465.00H347.40" stroke="#000" stroke-width="1.45"/>
<text x="342.10" y="467.99" font-size="8.8" font-weight="bold" stroke="#000" stroke-width="0.22" text-anchor="end" fill="#000" >5</text>
<path d="M343.40 435.00H347.40" stroke="#000" stroke-width="1.45"/>
<text x="342.10" y="437.99" font-size="8.8" font-weight="bold" stroke="#000" stroke-width="0.22" text-anchor="end" fill="#000" >10</text>
<path d="M343.40 405.00H347.40" stroke="#000" stroke-width="1.45"/>
<text x="342.10" y="407.99" font-size="8.8" font-weight="bold" stroke="#000" stroke-width="0.22" text-anchor="end" fill="#000" >15</text>
<path d="M343.40 375.00H347.40" stroke="#000" stroke-width="1.45"/>
<text x="342.10" y="377.99" font-size="8.8" font-weight="bold" stroke="#000" stroke-width="0.22" text-anchor="end" fill="#000" >20</text>
<text transform="translate(326.4,486) rotate(-90)" font-size="9.8" font-weight="bold" stroke="#000" stroke-width="0.22">% IL-16 Positive Cells</text>
<rect x="358.10" y="377.30" width="12.60" height="5.20" fill="#fe0000" stroke="#000" stroke-width="1.4"/>
<text x="378.60" y="383.00" font-size="10.5" text-anchor="start" fill="#000" >Lesion</text>
<rect x="358.10" y="389.70" width="12.60" height="5.20" fill="#000" stroke="#000" stroke-width="1.4"/>
<text x="378.60" y="395.60" font-size="10.5" text-anchor="start" fill="#000" >Molecular Layer</text>
<text x="418.25" y="422.77" font-size="13" font-weight="bold" stroke="#000" stroke-width="0.22" text-anchor="middle" fill="#000" letter-spacing="1.3">**</text>
<text x="464.45" y="415.37" font-size="13" font-weight="bold" stroke="#000" stroke-width="0.22" text-anchor="middle" fill="#000" letter-spacing="1.3">**</text>
<text x="316.40" y="375.40" font-size="18.0" font-weight="bold" stroke="#000" stroke-width="0.22" text-anchor="start" fill="#000" >F</text>
</svg>
</body></html>
